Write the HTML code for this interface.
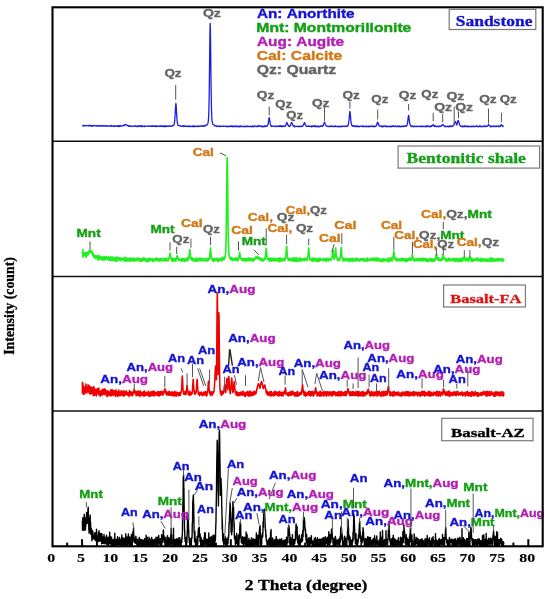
<!DOCTYPE html>
<html><head><meta charset="utf-8"><title>XRD patterns</title>
<style>
html,body{margin:0;padding:0;background:#fff;}
body{width:550px;height:599px;overflow:hidden;}
svg{display:block;filter:blur(0.35px);}
text{font-kerning:none;white-space:pre;}
.s{font-family:"Liberation Sans",Arial,sans-serif;font-weight:bold;stroke-width:0.35px;stroke-linejoin:round;}
.t{font-family:"Liberation Serif","Times New Roman",serif;font-weight:bold;stroke-width:0.3px;stroke-linejoin:round;}
.tn{stroke-width:0.1px;}
</style></head><body>
<svg width="550" height="599" viewBox="0 0 550 599">
<rect width="550" height="599" fill="#fff"/>
<polyline fill="none" stroke="#1e1ee0" stroke-width="1.3" stroke-linejoin="round" points="82.3,125.7 82.6,125.8 82.9,125.7 83.2,125.3 83.5,125.8 83.8,125.7 84.1,125.5 84.4,125.8 84.7,125.7 85.0,125.7 85.3,125.7 85.6,125.8 85.9,125.5 86.2,125.6 86.5,125.6 86.8,125.8 87.1,125.7 87.4,125.6 87.7,125.5 88.0,125.6 88.3,125.7 88.6,125.6 88.9,126.0 89.2,126.0 89.5,125.2 89.8,125.3 90.1,125.7 90.4,125.6 90.7,125.8 91.0,125.8 91.3,126.3 91.6,125.5 91.9,125.7 92.2,126.3 92.5,125.9 92.8,125.9 93.1,125.7 93.4,125.4 93.7,125.8 94.0,125.8 94.3,125.5 94.6,125.6 94.9,125.8 95.2,125.6 95.5,125.8 95.8,125.9 96.1,125.8 96.4,125.7 96.7,126.0 97.0,126.1 97.3,125.9 97.6,125.6 97.9,126.0 98.2,125.7 98.5,126.1 98.8,125.6 99.1,126.1 99.4,125.9 99.7,125.6 100.0,125.8 100.3,125.9 100.6,126.0 100.9,125.6 101.2,125.6 101.5,126.0 101.8,125.8 102.1,126.0 102.4,126.1 102.7,125.5 103.0,126.0 103.3,126.2 103.6,125.9 103.9,125.7 104.2,126.1 104.5,126.0 104.8,126.2 105.1,125.9 105.4,125.6 105.7,125.9 106.0,125.8 106.3,126.2 106.6,126.0 106.9,125.6 107.2,125.7 107.5,126.2 107.8,126.1 108.1,125.8 108.4,126.0 108.7,126.1 109.0,126.1 109.3,126.2 109.6,126.1 109.9,126.0 110.2,125.9 110.5,126.3 110.8,125.4 111.1,126.0 111.4,126.0 111.7,125.7 112.0,126.1 112.3,125.9 112.6,126.2 112.9,126.0 113.2,126.2 113.5,126.3 113.8,126.1 114.1,125.8 114.4,125.7 114.7,126.5 115.0,126.0 115.3,125.9 115.6,126.1 115.9,126.0 116.2,126.3 116.5,126.1 116.8,126.0 117.1,125.9 117.4,126.2 117.7,125.8 118.0,126.2 118.3,126.4 118.6,125.7 118.9,125.5 119.2,126.2 119.5,126.6 119.8,125.8 120.1,125.7 120.4,126.2 120.7,125.8 121.0,125.9 121.3,125.9 121.6,126.1 121.9,125.9 122.2,126.0 122.5,125.9 122.8,125.7 123.1,125.7 123.4,125.5 123.7,125.5 124.0,125.1 124.3,124.9 124.6,125.3 124.9,124.8 125.2,124.6 125.5,124.6 125.8,124.6 126.1,124.7 126.4,125.1 126.7,125.2 127.0,125.1 127.3,125.7 127.6,125.6 127.9,125.6 128.2,125.7 128.5,125.9 128.8,126.4 129.1,125.8 129.4,126.1 129.7,125.6 130.0,126.1 130.3,126.3 130.6,126.1 130.9,126.0 131.2,126.2 131.5,126.3 131.8,126.3 132.1,126.6 132.4,126.2 132.7,126.0 133.0,126.1 133.3,126.1 133.6,126.2 133.9,126.2 134.2,126.2 134.5,125.8 134.8,126.4 135.1,126.0 135.4,125.9 135.7,126.3 136.0,126.5 136.3,126.3 136.6,126.2 136.9,126.0 137.2,126.8 137.5,126.4 137.8,125.9 138.1,126.0 138.4,126.2 138.7,125.8 139.0,126.2 139.3,126.1 139.6,126.5 139.9,126.4 140.2,125.6 140.5,126.2 140.8,125.8 141.1,126.5 141.4,126.3 141.7,126.4 142.0,125.9 142.3,126.7 142.6,126.7 142.9,126.0 143.2,126.3 143.5,126.1 143.8,126.2 144.1,125.9 144.4,126.7 144.7,126.0 145.0,126.2 145.3,126.4 145.6,126.1 145.9,126.2 146.2,126.1 146.5,126.2 146.8,125.9 147.1,126.1 147.4,126.2 147.7,126.2 148.0,126.3 148.3,126.2 148.6,126.4 148.9,126.2 149.2,126.2 149.5,126.1 149.8,126.1 150.1,125.9 150.4,126.4 150.7,126.0 151.0,126.1 151.3,126.3 151.6,126.3 151.9,126.1 152.2,125.7 152.5,126.4 152.8,126.3 153.1,125.9 153.4,126.4 153.7,126.1 154.0,126.0 154.3,126.3 154.6,126.2 154.9,126.3 155.2,125.9 155.5,126.7 155.8,126.1 156.1,125.9 156.4,126.4 156.7,126.2 157.0,126.3 157.3,126.2 157.6,126.2 157.9,126.3 158.2,126.1 158.5,126.4 158.8,126.1 159.1,126.0 159.4,126.3 159.7,126.4 160.0,126.2 160.3,126.0 160.6,126.4 160.9,125.8 161.2,126.0 161.5,126.3 161.8,125.9 162.1,126.3 162.4,126.2 162.7,126.5 163.0,126.0 163.3,126.1 163.6,126.3 163.9,125.7 164.2,126.8 164.5,126.1 164.8,126.1 165.1,126.5 165.4,126.2 165.7,125.8 166.0,126.4 166.3,126.5 166.6,126.1 166.9,126.2 167.2,126.3 167.5,126.0 167.8,126.3 168.1,126.3 168.4,126.0 168.7,125.9 169.0,126.1 169.3,126.0 169.6,126.4 169.9,126.2 170.2,126.3 170.5,126.1 170.8,126.2 171.1,125.9 171.4,126.2 171.7,126.4 172.0,125.9 172.3,125.7 172.6,125.8 172.9,125.6 173.2,125.4 173.5,125.4 173.8,125.0 174.1,124.7 174.4,123.1 174.7,120.7 175.0,116.7 175.3,111.2 175.6,106.0 175.9,103.5 176.2,105.9 176.5,111.2 176.8,116.6 177.1,120.5 177.4,123.1 177.7,124.1 178.0,125.3 178.3,125.4 178.6,125.4 178.9,125.5 179.2,125.7 179.5,125.8 179.8,125.7 180.1,125.8 180.4,126.0 180.7,126.0 181.0,126.3 181.3,126.4 181.6,126.2 181.9,126.3 182.2,125.9 182.5,126.4 182.8,126.2 183.1,126.3 183.4,126.6 183.7,125.7 184.0,126.3 184.3,126.0 184.6,126.4 184.9,125.9 185.2,126.1 185.5,126.3 185.8,126.4 186.1,126.3 186.4,126.1 186.7,126.2 187.0,126.5 187.3,126.3 187.6,125.9 187.9,126.5 188.2,126.4 188.5,126.5 188.8,126.2 189.1,126.5 189.4,126.0 189.7,126.4 190.0,126.2 190.3,126.5 190.6,126.6 190.9,126.1 191.2,126.3 191.5,126.3 191.8,126.6 192.1,126.5 192.4,126.0 192.7,126.4 193.0,126.5 193.3,126.8 193.6,125.9 193.9,126.2 194.2,126.6 194.5,125.9 194.8,126.0 195.1,126.4 195.4,126.5 195.7,126.1 196.0,126.4 196.3,126.3 196.6,126.6 196.9,126.3 197.2,126.5 197.5,126.0 197.8,126.2 198.1,126.2 198.4,126.5 198.7,126.4 199.0,126.0 199.3,126.4 199.6,126.4 199.9,126.2 200.2,126.1 200.5,126.1 200.8,125.8 201.1,126.2 201.4,126.2 201.7,125.9 202.0,126.3 202.3,125.8 202.6,125.9 202.9,125.9 203.2,126.5 203.5,125.6 203.8,126.1 204.1,126.1 204.4,125.9 204.7,126.1 205.0,125.5 205.3,125.2 205.6,125.7 205.9,125.2 206.2,125.2 206.5,124.9 206.8,125.1 207.1,124.8 207.4,124.2 207.7,123.9 208.0,123.0 208.3,121.3 208.6,117.7 208.9,109.7 209.2,94.3 209.5,70.5 209.8,43.2 210.1,24.9 210.2,23.5 210.4,29.0 210.7,52.1 211.0,79.2 211.3,100.3 211.6,113.2 211.9,119.3 212.2,122.0 212.5,123.2 212.8,124.1 213.1,124.4 213.4,124.6 213.7,124.8 214.0,125.1 214.3,125.2 214.6,125.7 214.9,125.9 215.2,125.9 215.5,125.8 215.8,125.7 216.1,125.9 216.4,126.1 216.7,126.5 217.0,126.2 217.3,126.0 217.6,126.1 217.9,126.0 218.2,125.9 218.5,126.1 218.8,126.2 219.1,126.6 219.4,126.2 219.7,126.5 220.0,126.6 220.3,126.2 220.6,126.6 220.9,126.4 221.2,126.1 221.5,126.3 221.8,126.3 222.1,126.2 222.4,126.2 222.7,126.3 223.0,126.4 223.3,126.1 223.6,126.3 223.9,125.9 224.2,126.4 224.5,126.4 224.8,126.3 225.1,126.4 225.4,126.4 225.7,126.1 226.0,126.2 226.3,126.4 226.6,126.6 226.9,126.4 227.2,126.9 227.5,126.3 227.8,126.6 228.1,126.6 228.4,126.3 228.7,126.1 229.0,126.0 229.3,126.4 229.6,126.6 229.9,126.4 230.2,126.4 230.5,126.2 230.8,126.5 231.1,125.8 231.4,126.4 231.7,126.4 232.0,126.0 232.3,126.9 232.6,126.0 232.9,126.1 233.2,126.1 233.5,126.6 233.8,126.1 234.1,126.5 234.4,126.5 234.7,126.4 235.0,126.0 235.3,126.2 235.6,126.8 235.9,126.0 236.2,126.2 236.5,126.3 236.8,126.6 237.1,126.4 237.4,126.5 237.7,126.1 238.0,126.6 238.3,126.5 238.6,126.0 238.9,126.7 239.2,126.9 239.5,126.2 239.8,126.4 240.1,126.7 240.4,126.0 240.7,125.9 241.0,126.0 241.3,126.2 241.6,126.2 241.9,126.5 242.2,126.4 242.5,126.1 242.8,126.5 243.1,126.8 243.4,126.7 243.7,126.6 244.0,126.4 244.3,126.6 244.6,126.1 244.9,126.6 245.2,126.4 245.5,126.7 245.8,126.5 246.1,126.1 246.4,126.4 246.7,126.7 247.0,126.1 247.3,126.2 247.6,126.2 247.9,126.0 248.2,126.6 248.5,126.7 248.8,126.6 249.1,126.4 249.4,126.4 249.7,126.4 250.0,126.2 250.3,126.6 250.6,126.6 250.9,126.6 251.2,126.2 251.5,126.4 251.8,126.3 252.1,126.8 252.4,126.4 252.7,125.9 253.0,126.5 253.3,126.8 253.6,126.6 253.9,126.6 254.2,126.4 254.5,125.9 254.8,125.9 255.1,126.1 255.4,126.3 255.7,126.5 256.0,126.5 256.3,126.3 256.6,126.6 256.9,126.3 257.2,126.2 257.5,126.6 257.8,126.1 258.1,125.8 258.4,126.1 258.7,126.4 259.0,125.8 259.3,126.3 259.6,126.3 259.9,126.0 260.2,126.0 260.5,126.2 260.8,126.2 261.1,126.7 261.4,126.4 261.7,126.0 262.0,126.1 262.3,126.5 262.6,126.8 262.9,126.4 263.2,126.4 263.5,126.8 263.8,126.3 264.1,126.2 264.4,125.9 264.7,126.2 265.0,126.8 265.3,125.9 265.6,126.2 265.9,125.9 266.2,126.2 266.5,126.3 266.8,126.0 267.1,126.1 267.4,125.8 267.7,125.2 268.0,124.5 268.3,122.8 268.6,120.5 268.9,118.5 269.2,117.6 269.5,118.6 269.8,120.5 270.1,123.0 270.4,124.5 270.7,125.1 271.0,125.6 271.3,126.3 271.6,125.6 271.9,126.0 272.2,126.4 272.5,126.0 272.8,126.1 273.1,126.2 273.4,126.4 273.7,126.3 274.0,126.4 274.3,126.5 274.6,126.3 274.9,126.6 275.2,126.2 275.5,126.0 275.8,125.9 276.1,125.9 276.4,126.2 276.7,126.6 277.0,126.4 277.3,126.2 277.6,126.1 277.9,126.2 278.2,126.3 278.5,126.2 278.8,126.0 279.1,126.3 279.4,126.6 279.7,125.8 280.0,126.3 280.3,125.8 280.6,126.4 280.9,126.2 281.2,125.8 281.5,126.4 281.8,126.8 282.1,126.4 282.4,126.6 282.7,126.3 283.0,125.8 283.3,126.4 283.6,126.2 283.9,125.9 284.2,126.5 284.5,126.3 284.8,126.1 285.1,126.3 285.4,125.7 285.7,125.6 286.0,124.6 286.3,124.0 286.6,122.8 286.9,122.6 287.2,123.0 287.5,124.1 287.8,124.6 288.1,125.3 288.4,126.0 288.7,125.5 289.0,125.9 289.3,126.5 289.6,126.3 289.9,126.2 290.2,125.7 290.5,125.4 290.8,124.4 291.1,123.3 291.4,122.5 291.6,122.6 291.7,122.6 292.0,123.2 292.3,123.8 292.6,124.6 292.9,125.5 293.2,126.0 293.5,126.0 293.8,126.0 294.1,125.7 294.4,126.8 294.7,126.0 295.0,126.7 295.3,126.7 295.6,126.4 295.9,126.2 296.2,126.4 296.5,126.1 296.8,126.4 297.1,126.4 297.4,126.5 297.7,126.6 298.0,126.8 298.3,126.3 298.6,126.6 298.9,126.2 299.2,126.1 299.5,126.2 299.8,126.1 300.1,126.6 300.4,126.6 300.7,126.6 301.0,126.3 301.3,126.4 301.6,126.1 301.9,126.0 302.2,126.3 302.5,126.2 302.8,125.8 303.1,125.9 303.4,124.9 303.7,124.5 304.0,123.5 304.3,122.7 304.5,122.6 304.6,122.8 304.9,123.4 305.2,124.4 305.5,125.1 305.8,125.3 306.1,125.9 306.4,125.8 306.7,126.3 307.0,126.5 307.3,126.4 307.6,126.2 307.9,126.2 308.2,126.4 308.5,126.0 308.8,126.4 309.1,126.4 309.4,126.2 309.7,126.3 310.0,126.4 310.3,126.2 310.6,126.2 310.9,126.6 311.2,126.4 311.5,126.8 311.8,126.1 312.1,125.9 312.4,126.6 312.7,126.6 313.0,126.2 313.3,126.0 313.6,126.4 313.9,125.9 314.2,126.3 314.5,125.8 314.8,126.3 315.1,125.8 315.4,126.3 315.7,126.8 316.0,126.3 316.3,126.6 316.6,126.2 316.9,126.1 317.2,126.0 317.5,126.6 317.8,126.4 318.1,126.8 318.4,126.1 318.7,126.3 319.0,126.4 319.3,126.7 319.6,126.8 319.9,126.2 320.2,126.1 320.5,125.9 320.8,126.6 321.1,126.3 321.4,126.1 321.7,126.2 322.0,125.7 322.3,125.8 322.6,126.3 322.9,126.0 323.2,125.6 323.5,124.7 323.8,124.1 324.1,123.3 324.4,122.2 324.5,122.3 324.7,122.4 325.0,123.4 325.3,124.3 325.6,125.1 325.9,125.5 326.2,126.0 326.5,126.0 326.8,126.2 327.1,126.2 327.4,126.4 327.7,126.1 328.0,126.2 328.3,126.6 328.6,126.3 328.9,126.3 329.2,126.6 329.5,126.4 329.8,126.4 330.1,126.4 330.4,126.0 330.7,126.5 331.0,126.7 331.3,126.5 331.6,126.0 331.9,126.4 332.2,126.1 332.5,126.3 332.8,126.4 333.1,126.1 333.4,126.7 333.7,126.4 334.0,126.6 334.3,126.5 334.6,126.7 334.9,126.7 335.2,126.0 335.5,126.4 335.8,125.8 336.1,126.3 336.4,126.5 336.7,126.6 337.0,126.7 337.3,126.3 337.6,126.4 337.9,126.4 338.2,126.7 338.5,126.8 338.8,126.3 339.1,126.9 339.4,126.4 339.7,126.3 340.0,126.5 340.3,126.5 340.6,126.5 340.9,126.2 341.2,126.7 341.5,126.4 341.8,126.7 342.1,126.7 342.4,126.0 342.7,126.1 343.0,126.1 343.3,126.4 343.6,126.3 343.9,126.4 344.2,126.1 344.5,126.4 344.8,126.6 345.1,125.9 345.4,126.2 345.7,126.2 346.0,126.1 346.3,126.1 346.6,126.5 346.9,126.3 347.2,126.1 347.5,125.6 347.8,126.0 348.1,125.2 348.4,124.2 348.7,122.6 349.0,120.0 349.3,116.6 349.6,113.0 349.9,111.4 350.2,112.8 350.5,116.5 350.8,119.9 351.1,122.5 351.4,124.4 351.7,125.0 352.0,125.7 352.3,126.0 352.6,125.5 352.9,126.0 353.2,125.7 353.5,126.1 353.8,126.4 354.1,125.9 354.4,126.6 354.7,126.2 355.0,126.0 355.3,126.2 355.6,126.5 355.9,126.0 356.2,126.3 356.5,126.0 356.8,126.6 357.1,126.4 357.4,126.2 357.7,126.6 358.0,126.0 358.3,126.2 358.6,126.8 358.9,126.3 359.2,126.7 359.5,126.4 359.8,126.2 360.1,126.3 360.4,126.4 360.7,126.3 361.0,126.2 361.3,126.2 361.6,126.0 361.9,126.4 362.2,126.5 362.5,126.6 362.8,125.9 363.1,126.6 363.4,126.4 363.7,126.0 364.0,126.4 364.3,126.6 364.6,126.5 364.9,126.6 365.2,126.6 365.5,126.6 365.8,126.4 366.1,125.9 366.4,126.2 366.7,126.5 367.0,126.3 367.3,126.6 367.6,126.6 367.9,126.4 368.2,126.9 368.5,126.1 368.8,126.6 369.1,126.3 369.4,126.2 369.7,126.5 370.0,126.2 370.3,126.6 370.6,126.1 370.9,126.4 371.2,126.2 371.5,126.3 371.8,126.3 372.1,126.1 372.4,126.5 372.7,126.0 373.0,126.1 373.3,126.6 373.6,126.6 373.9,126.5 374.2,126.4 374.5,126.9 374.8,126.0 375.1,126.1 375.4,126.0 375.7,126.3 376.0,126.0 376.3,125.9 376.6,125.3 376.9,124.3 377.2,123.1 377.5,122.3 377.7,122.2 377.8,122.4 378.1,123.0 378.4,123.9 378.7,124.8 379.0,125.5 379.3,125.8 379.6,125.6 379.9,126.2 380.2,126.1 380.5,126.3 380.8,126.3 381.1,126.5 381.4,126.3 381.7,126.5 382.0,125.8 382.3,126.1 382.6,126.8 382.9,126.1 383.2,126.3 383.5,126.5 383.8,126.1 384.1,126.5 384.4,126.0 384.7,125.9 385.0,126.0 385.3,126.0 385.6,126.4 385.9,126.3 386.2,126.5 386.5,126.1 386.8,127.0 387.1,126.4 387.4,126.4 387.7,126.5 388.0,126.3 388.3,126.2 388.6,126.4 388.9,126.6 389.2,126.6 389.5,126.6 389.8,126.2 390.1,126.2 390.4,126.9 390.7,126.3 391.0,126.5 391.3,126.6 391.6,126.7 391.9,126.0 392.2,126.3 392.5,126.3 392.8,126.3 393.1,125.8 393.4,126.4 393.7,125.8 394.0,126.5 394.3,126.5 394.6,126.5 394.9,126.1 395.2,126.6 395.5,126.2 395.8,126.1 396.1,126.1 396.4,126.2 396.7,126.4 397.0,126.6 397.3,125.9 397.6,126.2 397.9,126.6 398.2,126.4 398.5,126.5 398.8,126.0 399.1,126.6 399.4,126.0 399.7,126.4 400.0,126.7 400.3,126.8 400.6,126.5 400.9,126.6 401.2,126.2 401.5,126.2 401.8,126.6 402.1,126.3 402.4,126.3 402.7,126.0 403.0,126.3 403.3,126.5 403.6,126.1 403.9,126.2 404.2,126.6 404.5,126.3 404.8,126.1 405.1,125.9 405.4,126.0 405.7,126.0 406.0,126.3 406.3,125.8 406.6,126.1 406.9,125.1 407.2,124.5 407.5,123.3 407.8,120.9 408.1,118.2 408.4,116.0 408.6,115.5 408.7,115.5 409.0,117.4 409.3,120.1 409.6,122.4 409.9,124.3 410.2,125.0 410.5,125.5 410.8,125.9 411.1,126.2 411.4,126.0 411.7,126.5 412.0,126.0 412.3,126.5 412.6,126.0 412.9,126.2 413.2,126.4 413.5,126.8 413.8,126.5 414.1,126.2 414.4,126.6 414.7,126.3 415.0,126.1 415.3,126.4 415.6,126.4 415.9,126.6 416.2,126.2 416.5,126.5 416.8,126.5 417.1,126.4 417.4,126.4 417.7,126.2 418.0,126.6 418.3,126.4 418.6,126.5 418.9,126.3 419.2,126.4 419.5,126.1 419.8,126.4 420.1,126.6 420.4,126.4 420.7,126.6 421.0,126.5 421.3,126.7 421.6,126.3 421.9,126.0 422.2,126.5 422.5,126.3 422.8,126.1 423.1,126.5 423.4,126.5 423.7,126.5 424.0,126.3 424.3,126.4 424.6,126.5 424.9,126.8 425.2,126.2 425.5,126.4 425.8,126.5 426.1,126.0 426.4,126.0 426.7,126.9 427.0,125.9 427.3,126.5 427.6,126.2 427.9,126.2 428.2,125.9 428.5,126.2 428.8,126.6 429.1,126.0 429.4,126.5 429.7,126.4 430.0,126.9 430.3,126.2 430.6,126.6 430.9,126.5 431.2,126.2 431.5,125.8 431.8,126.4 432.1,125.6 432.4,125.4 432.7,125.2 433.0,124.9 433.2,124.6 433.3,124.6 433.6,124.9 433.9,125.6 434.2,126.3 434.5,125.6 434.8,126.4 435.1,125.7 435.4,126.3 435.7,126.1 436.0,126.8 436.3,126.4 436.6,126.2 436.9,126.2 437.2,126.2 437.5,126.4 437.8,126.3 438.1,126.5 438.4,126.8 438.7,126.5 439.0,126.1 439.3,126.0 439.6,126.2 439.9,126.6 440.2,126.2 440.5,126.1 440.8,126.3 441.1,125.8 441.4,125.8 441.7,125.9 442.0,125.3 442.3,124.8 442.6,124.7 442.7,124.6 442.9,124.6 443.2,125.0 443.5,125.6 443.8,125.9 444.1,125.8 444.4,126.1 444.7,126.4 445.0,126.8 445.3,126.1 445.6,126.4 445.9,126.3 446.2,126.6 446.5,126.5 446.8,126.7 447.1,126.5 447.4,126.2 447.7,126.2 448.0,126.5 448.3,126.5 448.6,126.9 448.9,126.8 449.2,126.1 449.5,126.4 449.8,126.0 450.1,125.9 450.4,126.5 450.7,126.4 451.0,126.0 451.3,126.7 451.6,126.0 451.9,126.0 452.2,126.4 452.5,126.2 452.8,126.1 453.1,125.9 453.4,125.8 453.7,125.3 454.0,124.7 454.3,123.6 454.6,122.8 454.9,122.2 455.2,121.5 455.3,121.5 455.5,121.8 455.8,122.3 456.1,123.4 456.4,124.6 456.7,125.0 457.0,124.4 457.3,123.2 457.6,121.9 457.9,120.8 458.2,120.4 458.5,120.7 458.8,121.9 459.1,123.1 459.4,124.1 459.7,125.1 460.0,125.3 460.3,126.0 460.6,126.0 460.9,126.1 461.2,126.2 461.5,126.2 461.8,126.8 462.1,125.9 462.4,126.3 462.7,126.6 463.0,126.5 463.3,126.2 463.6,126.7 463.9,126.1 464.2,126.0 464.5,126.5 464.8,126.0 465.1,125.8 465.4,126.6 465.7,126.5 466.0,126.5 466.3,126.2 466.6,126.4 466.9,126.1 467.2,126.8 467.5,126.6 467.8,126.6 468.1,125.9 468.4,126.6 468.7,126.8 469.0,126.7 469.3,126.6 469.6,126.4 469.9,126.3 470.2,126.5 470.5,126.5 470.8,126.4 471.1,126.3 471.4,126.8 471.7,126.1 472.0,126.4 472.3,126.2 472.6,126.6 472.9,126.7 473.2,126.7 473.5,126.6 473.8,126.0 474.1,126.9 474.4,126.5 474.7,126.4 475.0,126.4 475.3,126.3 475.6,126.5 475.9,126.5 476.2,126.3 476.5,125.8 476.8,126.4 477.1,126.5 477.4,126.5 477.7,126.4 478.0,126.5 478.3,126.7 478.6,126.3 478.9,126.8 479.2,125.9 479.5,126.1 479.8,126.2 480.1,125.8 480.4,126.1 480.7,126.7 481.0,126.7 481.3,126.4 481.6,126.8 481.9,126.4 482.2,126.3 482.5,126.4 482.8,126.4 483.1,126.6 483.4,126.0 483.7,126.6 484.0,126.3 484.3,126.6 484.6,126.0 484.9,126.3 485.2,126.4 485.5,126.6 485.8,126.0 486.1,126.7 486.4,126.4 486.7,126.1 487.0,126.4 487.3,126.0 487.6,125.9 487.9,125.7 488.2,124.9 488.5,124.6 488.8,124.7 489.1,125.3 489.4,125.7 489.7,125.8 490.0,126.0 490.3,126.4 490.6,126.9 490.9,125.8 491.2,126.5 491.5,126.3 491.8,126.6 492.1,126.6 492.4,126.4 492.7,126.1 493.0,126.0 493.3,125.9 493.6,126.7 493.9,126.3 494.2,126.3 494.5,126.3 494.8,126.1 495.1,126.5 495.4,126.7 495.7,126.7 496.0,126.0 496.3,126.7 496.6,126.2 496.9,125.9 497.2,126.1 497.5,126.1 497.8,126.4 498.1,126.1 498.4,126.0 498.7,126.3 499.0,126.8 499.3,126.1 499.6,126.4 499.9,126.2 500.2,126.5 500.5,125.3 500.8,125.6 501.1,124.7 501.4,124.8 501.7,124.9 502.0,125.8 502.3,125.6 502.6,125.6 502.9,126.5 503.2,126.1 503.5,126.3 503.8,126.3"/>
<text class="s" font-size="10.6" transform="matrix(1.265 0 0 1 164.45 77.4)"><tspan fill="#646464" stroke="#646464">Qz</tspan></text>
<text class="s" font-size="10.6" transform="matrix(1.328 0 0 1 202.92 17.2)"><tspan fill="#646464" stroke="#646464">Qz</tspan></text>
<text class="s" font-size="10.6" transform="matrix(1.296 0 0 1 256.84 98.8)"><tspan fill="#646464" stroke="#646464">Qz</tspan></text>
<text class="s" font-size="10.6" transform="matrix(1.241 0 0 1 275.26 107.8)"><tspan fill="#646464" stroke="#646464">Qz</tspan></text>
<text class="s" font-size="10.6" transform="matrix(1.234 0 0 1 286.26 118.8)"><tspan fill="#646464" stroke="#646464">Qz</tspan></text>
<text class="s" font-size="10.6" transform="matrix(1.296 0 0 1 311.94 106.7)"><tspan fill="#646464" stroke="#646464">Qz</tspan></text>
<text class="s" font-size="10.6" transform="matrix(1.273 0 0 1 342.45 99)"><tspan fill="#646464" stroke="#646464">Qz</tspan></text>
<text class="s" font-size="10.6" transform="matrix(1.257 0 0 1 371.35 103.4)"><tspan fill="#646464" stroke="#646464">Qz</tspan></text>
<text class="s" font-size="10.6" transform="matrix(1.296 0 0 1 398.74 99)"><tspan fill="#646464" stroke="#646464">Qz</tspan></text>
<text class="s" font-size="10.6" transform="matrix(1.257 0 0 1 421.35 97.9)"><tspan fill="#646464" stroke="#646464">Qz</tspan></text>
<text class="s" font-size="10.6" transform="matrix(1.320 0 0 1 434.13 110.8)"><tspan fill="#646464" stroke="#646464">Qz</tspan></text>
<text class="s" font-size="10.6" transform="matrix(1.320 0 0 1 446.43 100.4)"><tspan fill="#646464" stroke="#646464">Qz</tspan></text>
<text class="s" font-size="10.6" transform="matrix(1.320 0 0 1 455.13 110.8)"><tspan fill="#646464" stroke="#646464">Qz</tspan></text>
<text class="s" font-size="10.6" transform="matrix(1.296 0 0 1 479.14 102.6)"><tspan fill="#646464" stroke="#646464">Qz</tspan></text>
<text class="s" font-size="10.6" transform="matrix(1.257 0 0 1 499.65 102.9)"><tspan fill="#646464" stroke="#646464">Qz</tspan></text>
<line x1="175.7" y1="85" x2="175.7" y2="99.7" stroke="#555555" stroke-width="1.0"/>
<line x1="269.2" y1="106.5" x2="269.2" y2="115.5" stroke="#555555" stroke-width="1.0"/>
<line x1="324.5" y1="107" x2="324.5" y2="121" stroke="#555555" stroke-width="1.0"/>
<line x1="349.9" y1="101.8" x2="349.9" y2="108.6" stroke="#555555" stroke-width="1.0"/>
<line x1="377.7" y1="109.5" x2="377.7" y2="119.5" stroke="#555555" stroke-width="1.0"/>
<line x1="408.6" y1="104" x2="408.6" y2="110.5" stroke="#555555" stroke-width="1.0"/>
<line x1="433.2" y1="112.7" x2="433.2" y2="121" stroke="#555555" stroke-width="1.0"/>
<line x1="442.7" y1="114" x2="442.7" y2="122.3" stroke="#555555" stroke-width="1.0"/>
<line x1="454.2" y1="106.7" x2="454.2" y2="125" stroke="#555555" stroke-width="1.0"/>
<line x1="458.5" y1="111.4" x2="458.5" y2="118.2" stroke="#555555" stroke-width="1.0"/>
<line x1="488.5" y1="108.6" x2="488.5" y2="123.6" stroke="#555555" stroke-width="1.0"/>
<line x1="501.4" y1="112.7" x2="501.4" y2="122.3" stroke="#555555" stroke-width="1.0"/>
<text class="s" font-size="12.1" transform="matrix(1.263 0 0 1 257.02 17.7)"><tspan fill="#1414d2" stroke="#1414d2">An: Anorthite</tspan></text>
<text class="s" font-size="12.1" transform="matrix(1.296 0 0 1 256.35 31.7)"><tspan fill="#14a014" stroke="#14a014">Mnt: Montmorillonite</tspan></text>
<text class="s" font-size="12.1" transform="matrix(1.272 0 0 1 257.02 45.7)"><tspan fill="#b41eb4" stroke="#b41eb4">Aug: Augite</tspan></text>
<text class="s" font-size="12.1" transform="matrix(1.300 0 0 1 256.75 59.7)"><tspan fill="#d27814" stroke="#d27814">Cal: Calcite</tspan></text>
<text class="s" font-size="12.1" transform="matrix(1.301 0 0 1 256.75 73.7)"><tspan fill="#646464" stroke="#646464">Qz: Quartz</tspan></text>
<polyline fill="none" stroke="#22ee22" stroke-width="1.6" stroke-linejoin="round" points="82.3,254.0 82.5,252.7 82.6,253.0 82.8,249.6 82.9,257.1 83.0,256.0 83.2,253.4 83.3,255.4 83.5,254.6 83.7,253.1 83.8,255.8 84.0,253.7 84.1,253.7 84.2,252.9 84.4,255.1 84.5,254.2 84.7,255.3 84.8,253.4 85.0,254.6 85.2,253.0 85.3,255.8 85.5,254.8 85.6,255.0 85.8,255.1 85.9,253.0 86.0,255.7 86.2,257.5 86.3,252.1 86.5,252.0 86.7,252.3 86.8,255.4 87.0,254.4 87.1,255.5 87.2,255.0 87.4,254.2 87.5,254.2 87.7,253.5 87.8,254.5 88.0,252.2 88.2,252.8 88.3,253.3 88.5,254.6 88.6,251.9 88.8,251.4 88.9,251.7 89.0,252.8 89.2,251.6 89.3,252.6 89.5,249.9 89.7,252.1 89.8,251.8 90.0,249.9 90.1,251.0 90.2,251.7 90.4,250.8 90.5,250.8 90.5,252.4 90.7,251.1 90.8,250.8 91.0,250.6 91.2,251.8 91.3,251.4 91.5,251.6 91.6,251.9 91.8,252.8 91.9,251.7 92.0,251.6 92.2,251.3 92.3,254.4 92.5,253.7 92.7,255.3 92.8,254.2 93.0,253.8 93.1,255.2 93.2,254.8 93.4,253.9 93.5,254.4 93.7,257.3 93.8,256.1 94.0,256.3 94.2,255.7 94.3,255.4 94.5,257.2 94.6,256.2 94.8,255.6 94.9,256.4 95.0,255.6 95.2,256.9 95.3,258.1 95.5,255.9 95.7,258.6 95.8,256.2 96.0,257.2 96.1,256.1 96.2,256.9 96.4,257.2 96.5,256.7 96.7,256.4 96.8,256.5 97.0,256.3 97.2,255.5 97.3,257.1 97.5,257.9 97.6,258.5 97.8,258.2 97.9,260.2 98.0,257.9 98.2,257.0 98.3,259.8 98.5,256.4 98.7,258.8 98.8,256.6 99.0,258.1 99.1,255.4 99.2,258.8 99.4,257.6 99.5,256.7 99.7,259.7 99.8,258.7 100.0,257.9 100.2,257.0 100.3,257.8 100.5,257.7 100.6,258.7 100.8,258.8 100.9,257.2 101.0,257.4 101.2,257.4 101.3,256.5 101.5,257.4 101.7,258.0 101.8,258.8 102.0,259.6 102.1,257.2 102.2,258.7 102.4,257.7 102.5,260.4 102.7,258.1 102.8,258.8 103.0,257.2 103.2,257.4 103.3,258.5 103.5,257.9 103.6,258.7 103.8,256.6 103.9,259.0 104.0,257.4 104.2,260.2 104.3,258.1 104.5,259.5 104.7,256.9 104.8,258.9 105.0,257.5 105.1,257.9 105.2,258.5 105.4,258.1 105.5,258.8 105.7,259.3 105.8,259.2 106.0,258.4 106.2,257.1 106.3,257.7 106.5,258.4 106.6,256.4 106.8,259.4 106.9,258.4 107.0,258.4 107.2,259.6 107.3,259.3 107.5,258.9 107.7,257.6 107.8,259.0 108.0,259.0 108.1,257.8 108.2,259.8 108.4,259.2 108.5,256.7 108.7,258.9 108.8,257.5 109.0,259.9 109.2,259.6 109.3,257.7 109.5,257.9 109.6,258.9 109.8,258.6 109.9,260.3 110.0,259.6 110.2,258.6 110.3,259.4 110.5,256.9 110.7,259.2 110.8,259.7 111.0,258.7 111.1,258.2 111.2,259.5 111.4,260.8 111.5,259.1 111.7,257.8 111.8,260.3 112.0,257.1 112.2,259.4 112.3,258.4 112.5,259.9 112.6,258.2 112.8,260.3 112.9,259.3 113.0,257.4 113.2,257.1 113.3,258.7 113.5,260.3 113.7,259.2 113.8,259.1 114.0,258.8 114.1,259.8 114.2,259.4 114.4,259.3 114.5,258.2 114.7,260.2 114.8,260.4 115.0,257.9 115.2,261.3 115.3,259.8 115.5,258.7 115.6,257.4 115.8,259.8 115.9,259.7 116.0,258.6 116.2,257.5 116.3,260.2 116.5,258.6 116.7,258.7 116.8,261.3 117.0,261.2 117.1,260.1 117.2,258.8 117.4,259.8 117.5,257.1 117.7,259.3 117.8,258.5 118.0,258.1 118.2,257.8 118.3,259.7 118.5,259.3 118.6,259.4 118.8,260.0 118.9,258.5 119.0,258.1 119.2,257.7 119.3,259.0 119.5,260.0 119.7,259.2 119.8,259.9 120.0,258.2 120.1,258.9 120.2,258.6 120.4,258.2 120.5,261.0 120.7,260.1 120.8,258.6 121.0,258.6 121.2,259.3 121.3,258.1 121.5,259.7 121.6,258.2 121.8,259.0 121.9,258.4 122.0,258.9 122.2,258.2 122.3,258.0 122.5,258.5 122.7,258.8 122.8,259.1 123.0,259.5 123.1,260.7 123.2,260.1 123.4,259.2 123.5,260.0 123.7,258.8 123.8,260.7 124.0,259.9 124.2,258.2 124.3,260.1 124.5,260.1 124.6,257.4 124.8,258.8 124.9,259.0 125.0,257.8 125.2,258.5 125.3,258.6 125.5,259.9 125.7,259.7 125.8,261.5 126.0,259.1 126.1,260.5 126.2,259.5 126.4,259.7 126.5,258.5 126.7,257.8 126.8,258.8 127.0,260.1 127.2,260.9 127.3,260.0 127.5,259.9 127.6,258.8 127.8,260.8 127.9,260.7 128.1,259.1 128.2,259.5 128.3,258.7 128.5,260.8 128.7,259.9 128.8,259.4 128.9,259.9 129.1,259.9 129.2,259.2 129.4,258.5 129.6,258.4 129.7,258.1 129.8,259.9 130.0,261.4 130.2,258.1 130.3,259.7 130.4,259.9 130.6,258.7 130.8,259.7 130.9,258.6 131.1,260.6 131.2,259.1 131.3,259.7 131.5,260.1 131.7,259.2 131.8,258.1 131.9,259.1 132.1,260.2 132.2,259.5 132.4,259.8 132.6,258.7 132.7,259.7 132.8,260.2 133.0,259.6 133.2,261.2 133.3,259.4 133.4,258.7 133.6,258.2 133.8,260.6 133.9,259.6 134.1,260.5 134.2,260.0 134.3,261.0 134.5,260.7 134.7,259.3 134.8,259.8 134.9,260.5 135.1,258.6 135.2,260.8 135.4,260.6 135.6,260.4 135.7,259.5 135.8,259.9 136.0,258.7 136.2,259.7 136.3,259.1 136.4,259.7 136.6,259.2 136.8,259.9 136.9,260.6 137.1,258.5 137.2,260.4 137.3,258.0 137.5,257.8 137.7,259.5 137.8,259.7 137.9,260.0 138.1,258.3 138.2,259.6 138.4,259.8 138.6,260.7 138.7,259.6 138.8,260.1 139.0,258.8 139.2,259.5 139.3,259.3 139.4,260.2 139.6,258.8 139.8,259.0 139.9,260.1 140.1,261.2 140.2,260.0 140.3,259.9 140.5,259.4 140.7,260.6 140.8,260.1 140.9,261.1 141.1,260.0 141.2,258.9 141.4,259.2 141.6,258.9 141.7,258.6 141.8,260.7 142.0,260.4 142.2,258.7 142.3,261.2 142.4,259.9 142.6,258.9 142.8,260.0 142.9,259.6 143.1,259.1 143.2,258.1 143.3,259.7 143.5,259.9 143.7,257.8 143.8,260.2 143.9,260.2 144.1,259.3 144.2,259.8 144.4,259.5 144.6,259.0 144.7,259.4 144.8,260.8 145.0,258.5 145.2,259.9 145.3,259.9 145.4,259.1 145.6,259.3 145.8,258.6 145.9,259.0 146.1,259.7 146.2,260.0 146.3,259.0 146.5,261.6 146.7,259.2 146.8,259.8 146.9,259.5 147.1,259.4 147.2,260.8 147.4,259.3 147.6,260.8 147.7,260.7 147.8,258.9 148.0,260.6 148.2,259.2 148.3,261.6 148.4,259.4 148.6,259.0 148.8,258.2 148.9,258.7 149.1,259.3 149.2,258.9 149.3,258.7 149.5,259.2 149.7,259.6 149.8,260.9 149.9,258.3 150.1,259.3 150.2,259.0 150.4,258.5 150.6,258.7 150.7,259.0 150.8,260.3 151.0,259.6 151.2,259.3 151.3,260.2 151.4,260.0 151.6,259.6 151.8,260.1 151.9,259.1 152.1,260.3 152.2,260.1 152.3,259.4 152.5,258.7 152.7,261.0 152.8,259.8 152.9,261.6 153.1,259.2 153.2,260.4 153.4,259.4 153.6,260.0 153.7,260.4 153.8,259.1 154.0,259.7 154.2,259.9 154.3,259.8 154.4,260.2 154.6,260.6 154.8,260.4 154.9,260.0 155.1,259.5 155.2,258.8 155.3,259.2 155.5,259.3 155.7,260.3 155.8,259.5 155.9,258.7 156.1,260.3 156.2,259.1 156.4,259.1 156.6,259.6 156.7,260.1 156.8,257.9 157.0,258.8 157.2,259.9 157.3,259.5 157.4,259.1 157.6,259.3 157.8,260.9 157.9,259.4 158.1,260.3 158.2,260.4 158.3,259.4 158.5,260.1 158.7,259.4 158.8,259.3 158.9,258.8 159.1,260.5 159.2,259.4 159.4,259.3 159.6,258.8 159.7,261.2 159.8,260.4 160.0,259.7 160.2,259.2 160.3,258.5 160.4,260.0 160.6,260.0 160.8,258.6 160.9,260.7 161.1,260.4 161.2,259.0 161.3,259.3 161.5,259.4 161.7,259.9 161.8,259.6 161.9,258.4 162.1,260.9 162.2,260.0 162.4,260.8 162.6,260.8 162.7,259.6 162.8,260.0 163.0,260.3 163.2,260.4 163.3,259.6 163.4,259.3 163.6,259.8 163.8,259.1 163.9,259.3 164.1,258.1 164.2,259.8 164.3,258.9 164.5,259.3 164.7,259.7 164.8,260.0 164.9,261.3 165.1,259.9 165.2,258.6 165.4,259.8 165.6,259.3 165.7,260.1 165.8,259.2 166.0,259.2 166.2,259.3 166.3,259.2 166.4,258.3 166.6,259.2 166.8,259.7 166.9,260.7 167.1,259.5 167.2,259.4 167.3,260.1 167.5,260.1 167.7,260.9 167.8,260.1 167.9,259.6 168.1,260.6 168.2,260.7 168.4,259.1 168.6,259.5 168.7,258.1 168.8,258.9 169.0,258.2 169.2,258.2 169.3,257.3 169.4,256.5 169.6,255.4 169.8,254.5 169.9,253.7 170.0,253.4 170.1,253.0 170.2,254.5 170.3,255.7 170.5,256.0 170.7,257.6 170.8,257.2 170.9,257.6 171.1,258.8 171.2,260.3 171.4,258.6 171.6,258.9 171.7,260.8 171.8,258.1 172.0,260.1 172.2,260.0 172.3,259.5 172.4,259.8 172.6,261.5 172.8,258.8 172.9,259.4 173.1,259.5 173.2,259.2 173.3,258.7 173.5,261.0 173.7,259.9 173.8,258.3 173.9,259.2 174.1,260.1 174.2,260.1 174.4,258.6 174.6,259.7 174.7,259.9 174.8,260.0 175.0,260.0 175.2,258.3 175.3,261.1 175.4,259.8 175.6,261.0 175.8,261.4 175.9,259.4 176.1,258.5 176.2,260.0 176.3,259.0 176.5,258.4 176.7,257.6 176.8,258.5 176.9,256.6 177.1,255.5 177.2,255.6 177.3,255.8 177.4,256.0 177.6,256.2 177.7,256.5 177.8,258.1 178.0,258.0 178.2,259.4 178.3,260.1 178.4,259.1 178.6,259.0 178.8,259.7 178.9,260.3 179.1,259.6 179.2,259.8 179.3,259.7 179.5,259.9 179.7,260.2 179.8,259.2 179.9,259.3 180.1,259.8 180.2,259.2 180.4,259.9 180.6,260.2 180.7,259.7 180.8,259.3 181.0,259.1 181.2,261.2 181.3,260.5 181.4,258.9 181.6,259.1 181.8,261.3 181.9,261.0 182.1,259.9 182.2,260.7 182.3,258.6 182.5,259.8 182.7,260.4 182.8,258.3 182.9,259.1 183.1,260.4 183.2,260.7 183.4,259.3 183.6,260.0 183.7,261.0 183.8,259.5 184.0,258.7 184.2,259.7 184.3,259.4 184.4,260.8 184.6,259.9 184.8,259.1 184.9,261.6 185.1,259.3 185.2,260.1 185.3,260.3 185.5,260.3 185.7,259.9 185.8,260.2 185.9,259.7 186.1,258.6 186.2,259.5 186.4,259.5 186.6,259.5 186.7,259.8 186.8,259.2 187.0,260.7 187.2,260.8 187.3,257.9 187.4,259.6 187.6,259.0 187.8,257.8 187.9,259.8 188.1,259.0 188.2,259.1 188.3,258.8 188.5,259.8 188.7,259.5 188.8,258.4 188.9,257.8 189.1,256.2 189.2,254.7 189.4,252.6 189.6,251.0 189.7,249.6 189.8,249.5 189.8,249.8 190.0,250.6 190.2,252.6 190.3,254.9 190.4,254.8 190.6,257.1 190.8,257.6 190.9,258.3 191.1,258.0 191.2,259.2 191.3,259.1 191.5,258.9 191.7,259.3 191.8,259.1 191.9,257.8 192.1,260.4 192.2,259.4 192.4,258.9 192.6,259.9 192.7,259.1 192.8,258.0 193.0,260.4 193.2,258.4 193.3,259.5 193.4,259.8 193.6,260.8 193.8,260.7 193.9,259.9 194.1,259.1 194.2,259.4 194.3,260.6 194.5,261.2 194.7,260.2 194.8,259.2 194.9,260.6 195.1,259.5 195.2,259.4 195.4,259.5 195.6,260.2 195.7,260.0 195.8,260.6 196.0,260.8 196.2,260.2 196.3,257.9 196.4,258.4 196.6,259.9 196.8,259.7 196.9,261.5 197.1,259.7 197.2,259.7 197.3,260.5 197.5,260.6 197.7,259.6 197.8,260.2 197.9,258.9 198.1,259.0 198.2,260.8 198.4,258.7 198.6,260.5 198.7,260.3 198.8,260.4 199.0,260.5 199.2,260.2 199.3,258.1 199.4,259.0 199.6,259.3 199.8,260.5 199.9,258.9 200.1,259.2 200.2,259.5 200.3,260.8 200.5,258.6 200.7,258.7 200.8,260.3 200.9,258.1 201.1,260.0 201.2,259.4 201.4,258.5 201.6,259.4 201.7,259.0 201.8,259.9 202.0,260.1 202.2,261.0 202.3,259.8 202.4,259.9 202.6,259.3 202.8,259.8 202.9,260.6 203.1,258.2 203.2,260.3 203.3,259.3 203.5,259.8 203.7,260.0 203.8,260.4 203.9,260.0 204.1,259.5 204.2,260.0 204.4,259.8 204.6,259.6 204.7,259.9 204.8,260.4 205.0,259.9 205.2,259.9 205.3,258.7 205.4,259.6 205.6,258.3 205.8,260.3 205.9,259.0 206.1,260.8 206.2,261.5 206.3,259.4 206.5,260.8 206.7,260.0 206.8,259.3 206.9,259.0 207.1,260.1 207.2,260.8 207.4,259.9 207.6,258.5 207.7,258.8 207.8,259.4 208.0,260.6 208.2,259.8 208.3,259.8 208.4,260.4 208.6,259.3 208.8,259.3 208.9,259.2 209.1,257.9 209.2,259.3 209.3,258.9 209.5,258.6 209.7,256.5 209.8,255.4 209.9,254.3 210.1,252.0 210.2,250.3 210.4,248.3 210.5,248.2 210.6,248.1 210.7,249.4 210.8,251.1 211.0,253.5 211.2,255.7 211.3,257.0 211.4,256.7 211.6,259.0 211.8,259.2 211.9,258.4 212.1,258.6 212.2,259.4 212.3,259.8 212.5,259.1 212.7,258.3 212.8,259.8 212.9,259.7 213.1,261.4 213.2,258.6 213.4,261.4 213.6,261.0 213.7,259.9 213.8,261.0 214.0,259.8 214.2,260.5 214.3,259.1 214.4,259.8 214.6,258.9 214.8,258.5 214.9,259.5 215.1,259.2 215.2,260.1 215.3,260.7 215.5,259.6 215.7,259.7 215.8,259.8 215.9,258.4 216.1,259.9 216.2,259.7 216.4,259.6 216.6,258.8 216.7,258.1 216.8,259.5 217.0,259.9 217.2,260.7 217.3,260.5 217.4,260.8 217.6,259.9 217.8,260.5 217.9,259.5 218.1,260.1 218.2,260.3 218.3,261.4 218.5,259.8 218.7,258.6 218.8,260.6 218.9,259.0 219.1,259.5 219.2,259.3 219.4,258.9 219.6,260.6 219.7,260.0 219.8,259.1 220.0,259.6 220.2,259.2 220.3,260.0 220.4,259.2 220.6,258.9 220.8,259.0 220.9,259.1 221.1,259.6 221.2,258.7 221.3,259.3 221.5,259.7 221.7,261.0 221.8,259.9 221.9,257.6 222.1,258.9 222.2,258.9 222.4,259.4 222.6,260.2 222.7,259.6 222.8,257.4 223.0,259.2 223.2,259.0 223.3,259.1 223.4,259.7 223.6,258.0 223.8,259.3 223.9,257.4 224.1,258.4 224.2,258.4 224.3,259.4 224.5,257.5 224.7,256.7 224.8,257.7 224.9,256.7 225.1,257.4 225.2,255.6 225.4,254.7 225.6,254.0 225.7,251.4 225.8,248.1 226.0,242.4 226.2,235.6 226.3,225.4 226.4,213.3 226.6,199.1 226.8,184.3 226.9,170.9 227.1,161.2 227.2,157.6 227.3,161.2 227.5,170.9 227.7,184.4 227.8,199.3 227.9,213.2 228.1,225.6 228.2,235.3 228.4,242.7 228.6,247.7 228.7,251.7 228.8,253.2 229.0,254.5 229.2,255.9 229.3,256.0 229.4,257.4 229.6,257.9 229.8,257.2 229.9,258.3 230.1,257.7 230.2,258.2 230.3,258.4 230.5,259.7 230.7,258.6 230.8,258.1 230.9,258.2 231.1,259.6 231.2,257.8 231.4,258.6 231.6,258.8 231.7,257.5 231.8,258.8 232.0,259.9 232.2,259.4 232.3,258.6 232.4,259.8 232.6,259.7 232.8,260.8 232.9,258.8 233.1,259.1 233.2,259.4 233.3,259.3 233.5,259.5 233.7,259.4 233.8,258.9 233.9,258.3 234.1,259.1 234.2,258.4 234.4,258.7 234.6,259.1 234.7,259.9 234.8,260.2 235.0,258.8 235.2,259.8 235.3,260.2 235.4,259.5 235.6,258.3 235.8,257.9 235.9,260.2 236.1,260.3 236.2,259.8 236.3,258.8 236.5,260.7 236.7,260.6 236.8,259.6 236.9,259.5 237.1,258.1 237.2,260.2 237.4,258.4 237.6,260.1 237.7,260.1 237.8,259.6 238.0,260.6 238.2,259.1 238.3,259.7 238.4,259.6 238.6,258.8 238.8,257.8 238.9,257.8 239.1,256.2 239.2,254.6 239.3,253.3 239.5,252.5 239.6,252.3 239.7,252.4 239.8,253.0 239.9,253.9 240.1,255.1 240.2,255.9 240.4,257.9 240.6,258.5 240.7,258.2 240.8,258.1 241.0,259.1 241.2,259.0 241.3,258.5 241.4,259.8 241.6,259.7 241.8,259.6 241.9,260.2 242.1,259.1 242.2,260.7 242.3,258.9 242.5,260.1 242.7,260.2 242.8,259.5 242.9,260.0 243.1,258.7 243.2,258.5 243.4,259.6 243.6,259.1 243.7,260.2 243.8,259.7 244.0,260.2 244.2,260.0 244.3,259.9 244.4,259.8 244.6,259.4 244.8,259.4 244.9,261.3 245.1,258.3 245.2,259.6 245.3,260.5 245.5,260.1 245.7,260.8 245.8,260.2 245.9,258.7 246.1,259.5 246.2,258.6 246.4,260.5 246.6,260.9 246.7,259.4 246.8,260.2 247.0,259.4 247.2,258.6 247.3,259.4 247.4,258.5 247.6,259.3 247.8,259.9 247.9,260.3 248.1,260.8 248.2,259.5 248.3,259.9 248.5,260.1 248.7,260.2 248.8,257.9 248.9,259.1 249.1,260.4 249.2,258.8 249.4,259.9 249.6,260.4 249.7,258.2 249.8,259.6 250.0,259.9 250.2,259.7 250.3,258.5 250.4,260.0 250.6,259.3 250.8,260.4 250.9,260.0 251.1,259.3 251.2,259.8 251.3,259.1 251.5,259.1 251.7,258.4 251.8,259.5 251.9,260.3 252.1,259.8 252.2,259.6 252.4,259.2 252.6,259.2 252.7,260.2 252.8,258.5 253.0,261.2 253.2,259.5 253.3,261.3 253.4,260.5 253.6,259.2 253.8,260.1 253.9,259.7 254.1,259.8 254.2,260.0 254.3,258.9 254.5,258.8 254.7,258.9 254.8,258.1 254.9,258.8 255.1,259.1 255.2,259.0 255.4,258.8 255.6,258.3 255.7,258.9 255.8,257.0 256.0,257.8 256.1,257.7 256.3,258.3 256.4,258.0 256.6,258.0 256.8,257.5 256.9,258.0 257.0,257.5 257.1,257.5 257.2,256.3 257.4,258.5 257.5,258.5 257.6,257.4 257.8,257.4 257.9,256.8 258.1,257.2 258.2,258.4 258.4,258.4 258.6,257.6 258.7,258.4 258.9,258.4 259.0,259.3 259.1,259.6 259.3,259.0 259.4,259.3 259.6,259.3 259.8,257.8 259.9,259.5 260.1,259.4 260.2,260.0 260.4,258.1 260.5,260.1 260.6,259.0 260.8,259.8 260.9,260.5 261.1,258.4 261.2,258.6 261.4,260.4 261.6,258.7 261.7,258.8 261.9,260.1 262.0,259.5 262.1,260.2 262.3,259.8 262.4,259.6 262.6,260.4 262.8,261.3 262.9,259.5 263.1,260.7 263.2,260.4 263.4,259.6 263.5,259.9 263.6,258.8 263.8,259.0 263.9,259.6 264.1,259.4 264.2,260.3 264.4,258.3 264.6,259.0 264.7,258.7 264.9,258.8 265.0,259.4 265.1,257.4 265.3,257.9 265.4,255.9 265.6,254.5 265.8,253.0 265.9,250.5 266.1,249.1 266.2,248.3 266.4,248.9 266.5,250.5 266.6,252.1 266.8,254.3 266.9,256.3 267.1,257.5 267.2,257.3 267.4,259.3 267.6,259.4 267.7,258.2 267.9,258.5 268.0,259.7 268.1,258.0 268.3,258.9 268.4,259.4 268.6,259.4 268.8,259.5 268.9,259.8 269.1,258.9 269.2,259.2 269.4,261.2 269.5,258.5 269.6,259.2 269.8,259.7 269.9,259.1 270.1,260.6 270.2,259.7 270.4,260.2 270.6,257.9 270.7,260.6 270.9,260.6 271.0,259.1 271.1,260.7 271.3,259.9 271.4,260.4 271.6,261.1 271.8,259.8 271.9,258.9 272.1,259.7 272.2,258.7 272.4,259.0 272.5,259.1 272.6,259.1 272.8,260.6 272.9,260.4 273.1,259.0 273.2,260.6 273.4,258.4 273.6,259.2 273.7,259.6 273.9,260.7 274.0,260.3 274.1,260.1 274.3,260.8 274.4,260.3 274.6,260.8 274.8,259.1 274.9,258.4 275.1,259.4 275.2,260.4 275.4,259.9 275.5,260.4 275.6,260.3 275.8,260.1 275.9,260.4 276.1,259.2 276.2,260.6 276.4,258.9 276.6,259.6 276.7,258.6 276.9,260.1 277.0,258.5 277.1,260.9 277.3,258.7 277.4,259.9 277.6,259.6 277.8,259.0 277.9,260.7 278.1,259.4 278.2,260.9 278.4,258.9 278.5,259.1 278.6,258.1 278.8,260.2 278.9,260.5 279.1,259.9 279.2,259.6 279.4,259.0 279.6,261.6 279.7,260.3 279.9,258.2 280.0,259.5 280.1,257.9 280.3,261.0 280.4,261.3 280.6,260.9 280.8,259.7 280.9,259.2 281.1,258.6 281.2,260.1 281.4,259.1 281.5,259.4 281.6,259.2 281.8,259.4 281.9,260.4 282.1,261.0 282.2,259.8 282.4,259.7 282.6,258.8 282.7,258.7 282.9,258.8 283.0,260.3 283.1,259.8 283.3,260.4 283.4,259.9 283.6,259.3 283.8,258.6 283.9,259.3 284.1,258.4 284.2,261.0 284.4,259.7 284.5,259.1 284.6,260.8 284.8,259.0 284.9,259.6 285.1,259.0 285.2,259.1 285.4,258.3 285.6,258.2 285.7,257.8 285.9,255.1 286.0,252.9 286.1,251.8 286.3,249.0 286.4,247.2 286.6,246.2 286.8,247.3 286.9,249.4 287.1,251.0 287.2,254.0 287.4,255.4 287.5,256.2 287.6,257.8 287.8,258.9 287.9,257.9 288.1,258.2 288.2,260.1 288.4,259.3 288.6,259.7 288.7,258.5 288.9,258.9 289.0,259.6 289.1,259.6 289.3,259.6 289.4,260.8 289.6,259.7 289.8,258.4 289.9,258.9 290.1,259.5 290.2,260.6 290.4,259.1 290.5,259.3 290.6,259.6 290.8,259.1 290.9,259.0 291.1,259.4 291.2,260.4 291.4,260.0 291.6,259.4 291.7,260.0 291.9,258.6 292.0,260.4 292.1,260.2 292.3,259.9 292.4,258.3 292.6,261.3 292.8,257.9 292.9,258.9 293.1,258.9 293.2,260.2 293.4,258.5 293.5,259.9 293.6,259.5 293.8,259.4 293.9,260.4 294.1,260.8 294.2,260.0 294.4,259.5 294.6,257.9 294.7,260.9 294.9,259.4 295.0,258.2 295.1,259.8 295.3,260.8 295.4,259.6 295.6,258.7 295.8,261.5 295.9,260.2 296.1,260.0 296.2,260.5 296.4,257.9 296.5,259.6 296.6,259.6 296.8,261.5 296.9,259.2 297.1,259.3 297.2,258.6 297.4,259.0 297.6,259.5 297.7,259.9 297.9,259.5 298.0,261.3 298.1,260.1 298.3,260.2 298.4,260.8 298.6,260.2 298.8,259.3 298.9,258.5 299.1,260.0 299.2,259.0 299.4,260.8 299.5,259.1 299.6,257.9 299.8,259.7 299.9,260.6 300.1,259.5 300.2,259.9 300.4,259.8 300.6,261.1 300.7,259.9 300.9,259.7 301.0,259.2 301.1,258.4 301.3,260.8 301.4,260.6 301.6,258.9 301.8,260.2 301.9,260.0 302.1,259.4 302.2,259.4 302.4,260.3 302.5,258.7 302.6,259.3 302.8,259.6 302.9,259.7 303.1,259.5 303.2,259.8 303.4,260.1 303.6,258.9 303.7,259.7 303.9,259.2 304.0,260.9 304.1,258.5 304.3,259.5 304.4,260.2 304.6,259.4 304.8,259.4 304.9,259.2 305.1,259.9 305.2,258.7 305.4,259.5 305.5,259.5 305.6,258.4 305.8,259.8 305.9,259.2 306.1,259.8 306.2,260.2 306.4,259.7 306.6,258.5 306.7,259.6 306.9,258.1 307.0,258.7 307.1,260.4 307.3,259.0 307.4,259.8 307.6,258.2 307.8,257.6 307.9,256.0 308.1,255.4 308.2,253.0 308.4,251.1 308.5,249.1 308.6,248.0 308.7,247.8 308.8,248.1 308.9,249.6 309.1,251.4 309.2,253.0 309.4,255.8 309.6,258.1 309.7,258.6 309.9,260.0 310.0,259.2 310.1,258.4 310.3,258.5 310.4,259.9 310.6,259.7 310.8,259.3 310.9,260.1 311.1,258.9 311.2,260.0 311.4,259.4 311.5,259.7 311.6,260.6 311.8,259.5 311.9,260.7 312.1,260.7 312.2,259.1 312.4,261.5 312.6,258.7 312.7,259.6 312.9,260.3 313.0,257.9 313.1,260.6 313.3,260.6 313.4,259.7 313.6,260.0 313.8,259.9 313.9,259.6 314.1,260.6 314.2,259.5 314.4,259.7 314.5,260.1 314.6,260.5 314.8,260.7 314.9,258.6 315.1,258.1 315.2,259.7 315.4,259.7 315.6,258.9 315.7,260.0 315.9,260.3 316.0,260.1 316.1,261.1 316.3,258.9 316.4,259.8 316.6,261.3 316.8,260.3 316.9,258.9 317.1,259.9 317.2,260.7 317.4,261.5 317.5,260.3 317.6,260.7 317.8,258.9 317.9,259.6 318.1,260.8 318.2,259.0 318.4,259.7 318.6,258.3 318.7,261.0 318.9,259.7 319.0,260.2 319.1,258.6 319.3,258.7 319.4,261.3 319.6,259.5 319.8,259.3 319.9,260.2 320.1,260.2 320.2,258.2 320.4,259.0 320.5,259.8 320.6,259.8 320.8,260.1 320.9,259.4 321.1,259.6 321.2,260.0 321.4,259.2 321.6,259.1 321.7,259.3 321.9,259.8 322.0,259.7 322.1,259.4 322.3,259.6 322.4,259.7 322.6,260.0 322.8,260.1 322.9,258.7 323.1,260.6 323.2,258.5 323.4,260.2 323.5,259.2 323.6,260.2 323.8,260.6 323.9,258.3 324.1,260.3 324.2,260.0 324.4,259.4 324.6,260.1 324.7,259.4 324.9,259.9 325.0,258.9 325.1,260.4 325.3,260.2 325.4,260.4 325.6,259.2 325.8,261.2 325.9,261.4 326.1,259.7 326.2,259.4 326.4,259.4 326.5,260.3 326.6,260.6 326.8,259.2 326.9,258.1 327.1,260.1 327.2,259.7 327.4,259.9 327.6,260.2 327.7,258.9 327.9,259.8 328.0,259.5 328.1,260.0 328.3,260.7 328.4,259.7 328.6,259.0 328.8,260.7 328.9,260.3 329.1,259.5 329.2,258.3 329.4,259.0 329.5,259.8 329.6,260.1 329.8,259.2 329.9,260.0 330.1,259.1 330.2,259.3 330.4,260.0 330.6,259.4 330.7,259.6 330.9,260.2 331.0,260.3 331.1,259.0 331.3,259.1 331.4,258.3 331.6,258.1 331.8,258.9 331.9,257.9 332.1,256.4 332.2,256.5 332.4,254.4 332.5,252.9 332.6,251.4 332.8,250.2 332.9,249.8 332.9,249.3 333.1,250.9 333.2,252.2 333.4,253.7 333.6,254.8 333.7,257.8 333.9,258.1 334.0,258.7 334.1,259.4 334.3,258.8 334.4,257.6 334.6,258.4 334.8,257.5 334.9,255.9 335.1,254.4 335.2,252.4 335.4,249.5 335.5,248.2 335.6,248.0 335.6,248.1 335.8,249.2 335.9,251.4 336.1,253.5 336.2,254.9 336.4,256.7 336.6,257.3 336.7,258.3 336.9,258.1 337.0,257.7 337.1,258.9 337.3,258.9 337.4,260.0 337.6,260.6 337.8,259.5 337.9,259.9 338.1,259.1 338.2,258.9 338.4,259.4 338.5,259.4 338.6,259.8 338.8,259.6 338.9,260.7 339.1,259.3 339.2,258.2 339.4,259.4 339.6,258.8 339.7,259.3 339.9,259.7 340.0,258.2 340.1,258.1 340.3,257.5 340.4,255.5 340.6,254.3 340.8,252.3 340.9,250.1 341.1,248.3 341.2,247.3 341.4,248.1 341.5,249.5 341.6,251.4 341.8,253.9 341.9,256.6 342.1,257.3 342.2,256.8 342.4,258.4 342.6,259.2 342.7,257.8 342.9,259.7 343.0,258.5 343.1,260.2 343.3,259.5 343.4,261.3 343.6,258.5 343.8,259.8 343.9,258.5 344.1,260.5 344.2,259.7 344.4,260.4 344.5,259.7 344.6,258.8 344.8,259.2 344.9,258.7 345.1,258.9 345.2,259.8 345.4,260.6 345.6,260.4 345.7,260.1 345.9,259.3 346.0,260.1 346.1,259.1 346.3,259.9 346.4,260.4 346.6,259.6 346.8,259.4 346.9,259.4 347.1,260.2 347.2,259.5 347.4,258.6 347.5,259.4 347.6,258.9 347.8,260.9 347.9,259.8 348.1,258.6 348.2,260.0 348.4,260.3 348.6,260.1 348.7,259.5 348.9,259.9 349.0,260.0 349.1,260.6 349.3,260.1 349.4,261.6 349.6,259.6 349.8,261.0 349.9,259.8 350.1,258.4 350.2,258.8 350.4,258.3 350.5,258.4 350.6,260.7 350.8,259.3 350.9,260.3 351.1,259.1 351.2,259.8 351.4,258.9 351.6,260.5 351.7,259.6 351.9,259.4 352.0,259.7 352.1,261.5 352.3,260.1 352.4,260.4 352.6,258.8 352.8,259.3 352.9,260.0 353.1,258.3 353.2,260.8 353.4,260.0 353.5,259.8 353.6,259.6 353.8,259.6 353.9,259.4 354.1,260.9 354.2,260.3 354.4,260.8 354.6,259.5 354.7,259.1 354.9,260.9 355.0,258.8 355.1,259.3 355.3,260.4 355.4,260.7 355.6,258.7 355.8,259.6 355.9,259.8 356.1,259.7 356.2,259.1 356.4,260.3 356.5,259.4 356.6,259.6 356.8,258.0 356.9,259.7 357.1,258.2 357.2,260.4 357.4,260.2 357.6,259.4 357.7,259.9 357.9,259.9 358.0,259.7 358.1,260.1 358.3,259.7 358.4,259.4 358.6,259.2 358.8,261.1 358.9,259.9 359.1,259.8 359.2,260.4 359.4,259.5 359.5,259.5 359.6,260.3 359.8,260.6 359.9,260.3 360.1,258.6 360.2,259.8 360.4,259.8 360.6,260.2 360.7,259.1 360.9,259.0 361.0,259.7 361.1,259.1 361.3,258.9 361.4,259.7 361.6,260.5 361.8,259.9 361.9,260.7 362.1,259.0 362.2,260.4 362.4,259.8 362.5,259.1 362.6,259.5 362.8,259.1 362.9,259.6 363.1,259.2 363.2,260.8 363.4,259.5 363.6,258.7 363.7,259.6 363.9,260.1 364.0,259.5 364.1,260.5 364.3,259.1 364.4,259.1 364.6,261.1 364.8,259.8 364.9,260.2 365.1,260.2 365.2,260.2 365.4,259.8 365.5,259.6 365.6,260.6 365.8,259.4 365.9,259.9 366.1,260.3 366.2,259.5 366.4,258.6 366.6,260.2 366.7,260.6 366.9,260.0 367.0,258.5 367.1,260.3 367.3,261.3 367.4,258.6 367.6,258.0 367.8,259.6 367.9,259.9 368.1,260.4 368.2,260.4 368.4,259.9 368.5,260.2 368.6,260.1 368.8,259.9 368.9,259.8 369.1,259.7 369.2,260.3 369.4,260.1 369.6,259.5 369.7,260.7 369.9,259.2 370.0,259.6 370.1,259.9 370.3,258.3 370.4,259.5 370.6,260.5 370.8,260.4 370.9,258.9 371.1,259.1 371.2,259.0 371.4,259.6 371.5,259.7 371.6,258.6 371.8,260.0 371.9,259.9 372.1,259.7 372.2,259.3 372.4,259.7 372.6,258.4 372.7,260.0 372.9,260.0 373.0,259.7 373.1,258.9 373.3,260.8 373.4,260.7 373.6,258.3 373.8,260.1 373.9,259.9 374.1,258.0 374.2,260.2 374.4,260.3 374.5,260.4 374.6,259.9 374.8,259.3 374.9,259.4 375.1,260.2 375.2,260.7 375.4,259.4 375.6,259.6 375.7,260.3 375.9,258.1 376.0,260.1 376.1,259.6 376.3,258.1 376.4,260.4 376.6,259.1 376.8,260.4 376.9,260.9 377.1,258.8 377.2,258.9 377.4,259.8 377.5,258.4 377.6,260.4 377.8,259.9 377.9,260.6 378.1,258.4 378.2,260.0 378.4,260.2 378.6,258.4 378.7,260.5 378.9,258.7 379.0,259.9 379.1,258.8 379.3,260.4 379.4,261.1 379.6,259.9 379.8,259.8 379.9,260.8 380.1,259.5 380.2,259.9 380.4,260.5 380.5,260.1 380.6,261.0 380.8,260.8 380.9,261.3 381.1,259.8 381.2,260.7 381.4,259.2 381.6,260.5 381.7,261.2 381.9,261.6 382.0,258.9 382.1,259.7 382.3,260.4 382.4,259.2 382.6,260.3 382.8,260.3 382.9,259.5 383.1,259.4 383.2,259.1 383.4,260.1 383.5,260.9 383.6,260.1 383.8,261.6 383.9,258.7 384.1,259.4 384.2,260.4 384.4,259.0 384.6,260.1 384.7,260.5 384.9,260.0 385.0,259.7 385.1,260.6 385.3,260.2 385.4,260.4 385.6,260.3 385.8,259.3 385.9,259.0 386.1,259.6 386.2,260.0 386.4,259.7 386.5,260.6 386.6,260.1 386.8,260.6 386.9,259.9 387.1,259.3 387.2,260.5 387.4,260.2 387.6,259.2 387.7,259.5 387.9,261.6 388.0,257.9 388.1,260.7 388.3,259.9 388.4,259.8 388.6,259.6 388.8,259.4 388.9,261.6 389.1,259.5 389.2,259.6 389.4,260.4 389.5,260.1 389.6,259.6 389.8,259.6 389.9,258.7 390.1,260.6 390.2,258.9 390.4,257.9 390.6,260.6 390.7,260.3 390.9,260.0 391.0,259.3 391.1,260.6 391.3,258.8 391.4,258.0 391.6,259.7 391.8,260.2 391.9,260.0 392.1,261.1 392.2,260.1 392.4,259.2 392.5,259.1 392.6,259.5 392.8,258.5 392.9,257.7 393.1,255.9 393.2,255.4 393.4,253.5 393.6,252.6 393.7,251.5 393.8,251.2 393.9,251.8 394.0,252.0 394.1,254.0 394.3,254.6 394.4,256.5 394.6,258.0 394.8,259.5 394.9,258.1 395.1,258.9 395.2,259.4 395.4,259.3 395.5,258.8 395.6,258.3 395.8,258.6 395.9,259.5 396.1,258.6 396.2,261.0 396.4,260.6 396.6,258.2 396.7,259.3 396.9,260.7 397.0,260.8 397.1,260.6 397.3,258.6 397.4,259.4 397.6,260.7 397.8,259.8 397.9,259.4 398.1,260.2 398.2,260.5 398.4,259.9 398.5,260.0 398.6,260.6 398.8,259.3 398.9,259.1 399.1,260.4 399.2,258.8 399.4,260.2 399.6,259.2 399.7,260.4 399.9,258.8 400.0,260.7 400.1,260.0 400.3,259.5 400.4,259.1 400.6,259.7 400.8,259.1 400.9,258.8 401.1,260.6 401.2,260.3 401.4,260.8 401.5,258.7 401.6,258.2 401.8,258.5 401.9,260.3 402.1,260.4 402.2,258.3 402.4,260.6 402.6,259.4 402.7,258.8 402.9,259.7 403.0,260.2 403.1,259.6 403.3,259.7 403.4,259.1 403.6,258.7 403.8,259.5 403.9,258.5 404.1,260.3 404.2,259.1 404.4,260.8 404.5,258.5 404.6,260.9 404.8,259.1 404.9,259.1 405.1,260.0 405.2,260.5 405.4,259.8 405.6,259.5 405.7,261.4 405.9,260.2 406.0,258.8 406.1,259.6 406.3,261.1 406.4,260.0 406.6,260.4 406.8,261.4 406.9,259.3 407.1,260.1 407.2,259.2 407.4,259.8 407.5,260.2 407.6,258.7 407.8,259.9 407.9,259.9 408.1,260.6 408.2,259.3 408.4,258.7 408.6,260.1 408.7,258.9 408.9,259.9 409.0,260.2 409.1,259.0 409.3,259.6 409.4,258.9 409.6,257.9 409.8,258.6 409.9,258.1 410.1,259.7 410.2,258.8 410.4,259.5 410.5,259.6 410.6,260.4 410.8,259.3 410.9,259.2 411.1,259.8 411.2,260.4 411.4,259.0 411.6,258.8 411.7,257.9 411.9,256.9 412.0,255.7 412.1,255.5 412.3,254.8 412.4,254.8 412.4,255.6 412.6,255.1 412.8,256.3 412.9,256.8 413.1,258.5 413.2,258.3 413.4,260.2 413.5,259.0 413.6,260.0 413.8,260.3 413.9,259.4 414.1,260.3 414.2,259.7 414.4,259.1 414.6,259.1 414.7,259.9 414.9,261.1 415.0,259.3 415.1,260.1 415.3,259.1 415.4,259.9 415.6,258.7 415.8,259.1 415.9,259.7 416.1,259.2 416.2,259.5 416.4,260.6 416.5,259.7 416.6,259.2 416.8,258.8 416.9,259.3 417.1,260.7 417.2,259.7 417.4,259.7 417.6,260.3 417.7,260.4 417.9,260.6 418.0,259.5 418.1,259.0 418.3,258.4 418.4,259.2 418.6,259.5 418.8,260.4 418.9,260.0 419.1,259.3 419.2,260.5 419.4,258.8 419.5,258.9 419.6,258.8 419.8,258.9 419.9,259.6 420.1,259.1 420.2,259.2 420.4,260.9 420.6,258.6 420.7,259.0 420.9,259.6 421.0,260.1 421.1,260.2 421.3,259.6 421.4,259.5 421.6,259.6 421.8,260.4 421.9,259.0 422.1,258.0 422.2,259.9 422.4,258.8 422.5,259.7 422.6,260.9 422.8,259.9 422.9,261.3 423.1,258.5 423.2,260.0 423.4,260.1 423.6,260.5 423.7,259.2 423.9,259.9 424.0,259.9 424.1,259.9 424.3,258.7 424.4,258.4 424.6,260.2 424.8,260.1 424.9,259.8 425.1,260.3 425.2,260.7 425.4,258.9 425.5,260.4 425.6,261.0 425.8,260.6 425.9,260.3 426.1,260.4 426.2,258.6 426.4,259.4 426.6,260.6 426.7,261.0 426.9,260.2 427.0,259.4 427.1,259.7 427.3,260.5 427.4,261.4 427.6,260.4 427.8,259.4 427.9,260.3 428.1,260.2 428.2,261.6 428.4,260.3 428.5,259.9 428.6,259.8 428.8,258.8 428.9,259.0 429.1,259.4 429.2,259.2 429.4,260.0 429.6,259.9 429.7,260.6 429.9,261.0 430.0,259.9 430.1,259.7 430.3,258.3 430.4,260.1 430.6,260.3 430.8,259.2 430.9,259.5 431.1,259.3 431.2,260.7 431.4,260.3 431.5,260.8 431.6,258.8 431.8,261.6 431.9,259.1 432.1,259.0 432.2,259.9 432.4,259.4 432.6,261.2 432.7,259.5 432.9,259.2 433.0,260.5 433.1,260.7 433.3,259.1 433.4,259.4 433.6,259.5 433.8,259.6 433.9,261.1 434.1,260.7 434.2,260.5 434.4,260.7 434.5,259.7 434.6,260.3 434.8,259.5 434.9,259.0 435.1,260.7 435.2,258.0 435.4,259.0 435.6,258.2 435.7,257.0 435.9,256.9 436.0,256.2 436.1,255.4 436.3,254.2 436.4,254.4 436.4,254.6 436.6,255.3 436.8,255.0 436.9,256.6 437.1,257.3 437.2,258.7 437.4,258.4 437.5,258.8 437.6,258.5 437.8,258.6 437.9,258.8 438.1,260.3 438.2,258.8 438.4,257.9 438.6,259.9 438.7,259.3 438.9,260.1 439.0,260.1 439.1,259.5 439.3,259.4 439.4,259.3 439.6,259.7 439.8,259.1 439.9,259.9 440.1,260.8 440.2,259.2 440.4,259.2 440.5,259.2 440.6,260.2 440.8,260.2 440.9,260.8 441.1,260.2 441.2,259.7 441.4,259.9 441.6,258.5 441.7,259.8 441.9,259.4 442.0,260.5 442.1,259.5 442.3,257.6 442.4,257.0 442.6,256.8 442.8,254.6 442.9,254.6 443.0,254.8 443.1,255.1 443.2,255.4 443.4,256.6 443.5,256.9 443.6,257.9 443.8,258.3 443.9,258.2 444.1,259.2 444.2,259.0 444.4,259.6 444.6,257.8 444.7,259.7 444.9,259.2 445.0,259.2 445.1,259.7 445.3,259.3 445.4,260.4 445.6,260.7 445.8,260.4 445.9,260.5 446.1,260.0 446.2,259.8 446.4,258.7 446.5,259.5 446.6,260.7 446.8,260.4 446.9,259.4 447.1,259.9 447.2,260.6 447.4,259.6 447.6,261.1 447.7,259.2 447.9,260.4 448.0,260.3 448.1,259.9 448.3,260.0 448.4,260.2 448.6,258.0 448.8,260.2 448.9,260.7 449.1,260.1 449.2,260.7 449.4,258.8 449.5,259.7 449.6,260.1 449.8,259.6 449.9,260.7 450.1,260.2 450.2,259.4 450.4,260.4 450.6,260.4 450.7,259.4 450.9,260.3 451.0,260.1 451.1,260.1 451.3,258.8 451.4,260.8 451.6,260.3 451.8,259.8 451.9,260.1 452.1,260.1 452.2,259.6 452.4,259.3 452.5,259.9 452.6,259.3 452.8,259.4 452.9,258.9 453.1,259.6 453.2,260.6 453.4,260.0 453.6,259.8 453.7,259.5 453.9,259.5 454.0,258.6 454.1,261.1 454.3,259.2 454.4,258.6 454.6,260.1 454.8,260.0 454.9,259.4 455.1,258.6 455.2,258.7 455.4,261.0 455.5,259.7 455.6,259.3 455.8,261.3 455.9,259.4 456.1,259.1 456.2,260.2 456.4,260.1 456.6,261.0 456.7,258.6 456.9,260.0 457.0,258.4 457.1,260.2 457.3,259.3 457.4,259.4 457.6,259.2 457.8,260.5 457.9,261.1 458.1,259.7 458.2,259.6 458.4,259.4 458.5,260.2 458.6,259.0 458.8,261.6 458.9,259.6 459.1,261.2 459.2,259.9 459.4,258.7 459.6,258.5 459.7,259.4 459.9,259.2 460.0,259.6 460.1,258.9 460.3,261.6 460.4,261.5 460.6,258.3 460.8,260.2 460.9,260.7 461.1,259.5 461.2,259.6 461.4,260.6 461.5,260.2 461.6,258.8 461.8,260.7 461.9,259.3 462.1,261.2 462.2,259.0 462.4,257.9 462.6,259.8 462.7,260.6 462.9,260.1 463.0,259.7 463.1,258.8 463.3,260.1 463.4,257.9 463.6,259.6 463.8,257.9 463.9,257.9 464.1,257.0 464.2,256.8 464.4,257.8 464.4,257.0 464.5,257.1 464.6,257.0 464.8,258.5 464.9,257.5 465.1,258.8 465.2,259.8 465.4,261.0 465.6,258.6 465.7,258.9 465.9,259.6 466.0,260.8 466.1,258.8 466.3,260.3 466.4,259.2 466.6,258.9 466.8,258.4 466.9,259.8 467.1,260.5 467.2,259.6 467.4,258.0 467.5,259.2 467.6,260.5 467.8,260.4 467.9,259.9 468.1,260.8 468.2,258.6 468.4,258.6 468.6,261.4 468.7,260.1 468.9,259.3 469.0,258.9 469.1,257.5 469.3,259.3 469.4,257.0 469.6,256.7 469.8,257.3 469.9,257.8 470.0,257.0 470.1,257.2 470.2,257.0 470.4,257.9 470.5,257.2 470.6,260.0 470.8,258.3 470.9,259.7 471.1,257.9 471.2,260.9 471.4,259.9 471.6,261.2 471.7,259.1 471.9,260.5 472.0,259.5 472.1,259.6 472.3,260.7 472.4,259.0 472.6,260.3 472.8,261.3 472.9,261.1 473.1,260.6 473.2,260.0 473.4,258.9 473.5,260.9 473.6,259.2 473.8,260.7 473.9,259.5 474.1,259.8 474.2,259.7 474.4,260.2 474.6,259.4 474.7,259.9 474.9,259.3 475.0,260.2 475.1,260.0 475.3,260.1 475.4,259.1 475.6,260.0 475.8,259.8 475.9,260.2 476.1,259.8 476.2,259.0 476.4,260.3 476.5,259.2 476.6,260.0 476.8,258.1 476.9,260.2 477.1,260.3 477.2,259.0 477.4,260.2 477.6,259.5 477.7,260.9 477.9,260.3 478.0,258.7 478.1,259.6 478.3,258.3 478.4,259.5 478.6,260.2 478.8,260.4 478.9,259.7 479.1,259.6 479.2,259.9 479.4,259.3 479.5,260.0 479.6,260.7 479.8,259.9 479.9,260.5 480.1,259.1 480.2,259.4 480.4,260.0 480.6,261.4 480.7,260.6 480.9,261.2 481.0,259.8 481.1,260.8 481.3,258.4 481.4,260.2 481.6,258.1 481.8,260.8 481.9,260.2 482.1,260.7 482.2,260.1 482.4,259.4 482.5,259.2 482.6,260.0 482.8,261.0 482.9,260.3 483.1,259.4 483.2,259.3 483.4,259.2 483.6,259.6 483.7,259.7 483.9,259.4 484.0,259.8 484.1,258.5 484.3,261.1 484.4,260.0 484.6,261.0 484.8,260.0 484.9,259.6 485.1,259.9 485.2,260.0 485.4,259.3 485.5,259.5 485.6,261.4 485.8,260.6 485.9,259.4 486.1,260.2 486.2,259.1 486.4,260.9 486.6,259.0 486.7,260.5 486.9,259.8 487.0,259.8 487.1,259.2 487.3,259.6 487.4,259.2 487.6,259.1 487.8,260.2 487.9,261.6 488.1,259.5 488.2,260.6 488.4,259.8 488.5,259.2 488.6,260.9 488.8,260.3 488.9,260.7 489.1,259.9 489.2,259.9 489.4,259.2 489.6,259.6 489.7,261.2 489.9,258.0 490.0,260.1 490.1,261.0 490.3,260.5 490.4,260.5 490.6,259.6 490.8,260.7 490.9,260.8 491.1,259.8 491.2,261.2 491.4,259.4 491.5,258.0 491.6,259.8 491.8,259.7 491.9,259.1 492.1,259.5 492.2,259.4 492.4,258.4 492.6,260.8 492.7,259.8 492.9,261.6 493.0,259.8 493.1,260.1 493.3,258.6 493.4,260.6 493.6,258.9 493.8,260.3 493.9,260.6 494.1,260.4 494.2,259.2 494.4,259.2 494.5,260.4 494.6,260.8 494.8,261.0 494.9,259.8 495.1,259.7 495.2,261.3 495.4,259.3 495.6,260.4 495.7,259.6 495.9,258.7 496.0,258.9 496.1,260.2 496.3,260.0 496.4,260.2 496.6,259.5 496.8,259.4 496.9,260.0 497.1,259.7 497.2,258.5 497.4,259.5 497.5,261.2 497.6,259.2 497.8,260.3 497.9,259.8 498.1,260.4 498.2,259.1 498.4,258.8 498.6,260.2 498.7,259.2 498.9,259.8 499.0,259.6 499.1,260.6 499.3,260.0 499.4,259.9 499.6,259.0 499.8,258.5 499.9,259.1 500.1,260.5 500.2,260.4 500.4,260.3 500.5,259.5 500.6,259.0 500.8,260.7 500.9,260.0 501.1,260.2 501.2,259.0 501.4,259.3 501.6,260.3 501.7,260.4 501.9,259.0 502.0,260.0 502.1,258.9 502.3,260.8 502.4,260.3 502.6,261.6 502.8,261.0 502.9,259.3 503.1,260.0 503.2,259.4 503.4,259.9 503.5,260.4 503.6,259.8 503.8,259.8 503.9,258.7"/>
<text class="s" font-size="10.6" transform="matrix(1.278 0 0 1 76.59 237.4)"><tspan fill="#14a014" stroke="#14a014">Mnt</tspan></text>
<text class="s" font-size="10.6" transform="matrix(1.278 0 0 1 150.39 233)"><tspan fill="#14a014" stroke="#14a014">Mnt</tspan></text>
<text class="s" font-size="10.6" transform="matrix(1.257 0 0 1 172.35 242.6)"><tspan fill="#646464" stroke="#646464">Qz</tspan></text>
<text class="s" font-size="10.6" transform="matrix(1.300 0 0 1 181.03 227.2)"><tspan fill="#d27814" stroke="#d27814">Cal</tspan></text>
<text class="s" font-size="10.6" transform="matrix(1.249 0 0 1 202.96 233.2)"><tspan fill="#646464" stroke="#646464">Qz</tspan></text>
<text class="s" font-size="10.6" transform="matrix(1.280 0 0 1 192.64 155.5)"><tspan fill="#d27814" stroke="#d27814">Cal</tspan></text>
<text class="s" font-size="10.6" transform="matrix(1.313 0 0 1 231.13 234.1)"><tspan fill="#d27814" stroke="#d27814">Cal</tspan></text>
<text class="s" font-size="10.6" transform="matrix(1.278 0 0 1 241.79 244.9)"><tspan fill="#14a014" stroke="#14a014">Mnt</tspan></text>
<text class="s" font-size="10.6" transform="matrix(1.293 0 0 1 247.84 221)"><tspan fill="#d27814" stroke="#d27814">Cal</tspan><tspan fill="#d27814" stroke="#d27814">, </tspan><tspan fill="#646464" stroke="#646464">Qz</tspan></text>
<text class="s" font-size="10.6" transform="matrix(1.270 0 0 1 267.45 232.1)"><tspan fill="#d27814" stroke="#d27814">Cal</tspan><tspan fill="#d27814" stroke="#d27814">, </tspan><tspan fill="#646464" stroke="#646464">Qz</tspan></text>
<text class="s" font-size="10.6" transform="matrix(1.247 0 0 1 285.86 214.1)"><tspan fill="#d27814" stroke="#d27814">Cal</tspan><tspan fill="#d27814" stroke="#d27814">,</tspan><tspan fill="#646464" stroke="#646464">Qz</tspan></text>
<text class="s" font-size="10.6" transform="matrix(1.306 0 0 1 319.03 242.1)"><tspan fill="#d27814" stroke="#d27814">Cal</tspan></text>
<text class="s" font-size="10.6" transform="matrix(1.339 0 0 1 334.32 229.4)"><tspan fill="#d27814" stroke="#d27814">Cal</tspan></text>
<text class="s" font-size="10.6" transform="matrix(1.287 0 0 1 380.94 229.4)"><tspan fill="#d27814" stroke="#d27814">Cal</tspan></text>
<text class="s" font-size="10.6" transform="matrix(1.279 0 0 1 394.24 238.5)"><tspan fill="#d27814" stroke="#d27814">Cal</tspan><tspan fill="#d27814" stroke="#d27814">,</tspan><tspan fill="#646464" stroke="#646464">Qz</tspan><tspan fill="#646464" stroke="#646464">,</tspan><tspan fill="#14a014" stroke="#14a014">Mnt</tspan></text>
<text class="s" font-size="10.6" transform="matrix(1.293 0 0 1 421.04 217.8)"><tspan fill="#d27814" stroke="#d27814">Cal</tspan><tspan fill="#d27814" stroke="#d27814">,</tspan><tspan fill="#646464" stroke="#646464">Qz</tspan><tspan fill="#646464" stroke="#646464">,</tspan><tspan fill="#14a014" stroke="#14a014">Mnt</tspan></text>
<text class="s" font-size="10.6" transform="matrix(1.243 0 0 1 413.06 247.9)"><tspan fill="#d27814" stroke="#d27814">Cal</tspan><tspan fill="#d27814" stroke="#d27814">,</tspan><tspan fill="#646464" stroke="#646464">Qz</tspan></text>
<text class="s" font-size="10.6" transform="matrix(1.287 0 0 1 456.64 245.8)"><tspan fill="#d27814" stroke="#d27814">Cal</tspan><tspan fill="#d27814" stroke="#d27814">,</tspan><tspan fill="#646464" stroke="#646464">Qz</tspan></text>
<line x1="90" y1="241.3" x2="90" y2="249" stroke="#555555" stroke-width="1.0"/>
<line x1="170" y1="242.3" x2="170" y2="250.5" stroke="#555555" stroke-width="1.0"/>
<line x1="176.7" y1="246.8" x2="176.7" y2="254" stroke="#555555" stroke-width="1.0"/>
<line x1="190.9" y1="238.6" x2="190.9" y2="247.7" stroke="#555555" stroke-width="1.0"/>
<line x1="210.5" y1="236.8" x2="210.5" y2="245" stroke="#555555" stroke-width="1.0"/>
<line x1="238.5" y1="241.4" x2="238.5" y2="250.5" stroke="#555555" stroke-width="1.0"/>
<line x1="266.2" y1="228.2" x2="266.2" y2="245.5" stroke="#555555" stroke-width="1.0"/>
<line x1="286.6" y1="234.7" x2="286.6" y2="244.2" stroke="#555555" stroke-width="1.0"/>
<line x1="308.7" y1="238.5" x2="308.7" y2="245.3" stroke="#555555" stroke-width="1.0"/>
<line x1="341.8" y1="233.3" x2="341.8" y2="244" stroke="#555555" stroke-width="1.0"/>
<line x1="393.8" y1="236.6" x2="393.8" y2="250.2" stroke="#555555" stroke-width="1.0"/>
<line x1="412.4" y1="241.8" x2="412.4" y2="254" stroke="#555555" stroke-width="1.0"/>
<line x1="443.3" y1="222" x2="443.3" y2="229.3" stroke="#555555" stroke-width="1.0"/>
<line x1="443.3" y1="245" x2="443.3" y2="254.8" stroke="#555555" stroke-width="1.0"/>
<line x1="436.4" y1="247.7" x2="436.4" y2="256" stroke="#555555" stroke-width="1.0"/>
<line x1="464.3" y1="250.2" x2="464.3" y2="256.9" stroke="#555555" stroke-width="1.0"/>
<line x1="469.9" y1="250.2" x2="469.9" y2="256.9" stroke="#555555" stroke-width="1.0"/>
<line x1="253.9" y1="249.9" x2="258.8" y2="254.8" stroke="#555555" stroke-width="1.0"/>
<line x1="334.2" y1="244.2" x2="331.7" y2="252.3" stroke="#555555" stroke-width="1.0"/>
<line x1="220" y1="152.9" x2="226.2" y2="155.8" stroke="#555555" stroke-width="1.0"/>
<polyline fill="none" stroke="#f00000" stroke-width="1.5" stroke-linejoin="round" points="82.3,393.6 82.4,382.4 82.5,389.4 82.6,386.9 82.7,387.3 82.8,387.9 82.9,383.3 83.0,387.9 83.1,386.4 83.2,394.5 83.3,389.2 83.4,387.8 83.5,388.0 83.6,387.0 83.7,386.1 83.8,387.8 83.9,390.0 84.0,388.3 84.1,391.3 84.2,388.4 84.3,389.0 84.4,392.8 84.5,390.4 84.6,387.8 84.7,388.6 84.8,390.4 84.9,393.9 85.0,388.5 85.1,388.6 85.2,391.7 85.3,387.1 85.4,388.6 85.5,391.4 85.6,390.7 85.7,389.6 85.8,391.0 85.9,383.9 86.0,391.9 86.1,387.2 86.2,385.5 86.3,390.2 86.4,391.2 86.5,388.5 86.6,387.1 86.7,389.7 86.8,389.5 86.9,393.0 87.0,391.5 87.1,390.2 87.2,392.3 87.3,389.3 87.4,387.6 87.5,391.2 87.6,391.2 87.7,389.4 87.8,388.1 87.9,390.5 88.0,384.7 88.1,391.6 88.2,391.1 88.3,386.3 88.4,390.2 88.5,387.9 88.6,391.8 88.7,385.5 88.8,388.1 88.9,391.8 89.0,392.8 89.1,385.4 89.2,389.1 89.3,391.0 89.4,388.9 89.5,393.8 89.6,387.7 89.7,391.1 89.8,388.0 89.9,393.5 90.0,390.4 90.1,389.6 90.2,386.7 90.3,394.1 90.4,392.1 90.5,392.1 90.6,393.0 90.7,391.3 90.8,389.2 90.9,388.9 91.0,388.9 91.1,393.6 91.2,387.5 91.3,389.4 91.4,390.0 91.5,391.2 91.6,392.0 91.7,388.1 91.8,387.1 91.9,390.8 92.0,393.4 92.1,392.4 92.2,391.3 92.3,390.2 92.4,391.5 92.5,390.4 92.6,392.6 92.7,389.3 92.8,391.2 92.9,390.7 93.0,392.1 93.1,391.5 93.2,395.8 93.3,394.1 93.4,394.1 93.5,386.9 93.6,390.4 93.7,389.9 93.8,392.2 93.9,386.5 94.0,393.5 94.1,393.3 94.2,388.5 94.3,389.2 94.4,389.6 94.5,391.3 94.6,392.5 94.7,395.4 94.8,390.9 94.9,392.8 95.0,391.6 95.1,394.8 95.2,392.8 95.3,394.1 95.4,389.2 95.5,391.0 95.6,389.8 95.7,394.4 95.8,392.7 95.9,390.8 96.0,390.6 96.1,392.4 96.2,390.1 96.3,389.7 96.4,392.5 96.5,396.0 96.6,391.1 96.7,390.5 96.8,389.3 96.9,389.0 97.0,392.6 97.1,393.3 97.2,391.6 97.3,392.3 97.4,391.9 97.5,391.9 97.6,388.8 97.7,390.8 97.8,391.9 97.9,390.2 98.0,390.8 98.1,390.2 98.2,391.1 98.3,393.4 98.4,391.0 98.5,391.5 98.6,393.3 98.7,393.0 98.8,395.0 98.9,387.9 99.0,393.5 99.1,391.0 99.2,392.1 99.3,393.5 99.4,393.9 99.5,393.8 99.6,392.2 99.7,394.9 99.8,391.4 99.9,391.7 100.0,393.4 100.1,391.0 100.2,396.0 100.3,393.9 100.4,396.0 100.5,392.0 100.6,391.3 100.7,392.4 100.8,393.4 100.9,391.0 101.0,392.8 101.1,392.1 101.2,395.0 101.3,390.9 101.4,394.0 101.5,391.0 101.6,390.4 101.7,390.9 101.8,390.0 101.9,392.4 102.0,394.0 102.1,392.5 102.2,393.3 102.3,395.1 102.4,392.7 102.5,392.6 102.6,391.8 102.7,389.4 102.8,393.6 102.9,389.2 103.0,393.4 103.1,392.3 103.2,394.3 103.3,392.2 103.4,390.9 103.5,393.0 103.6,391.4 103.7,392.0 103.8,392.4 103.9,392.1 104.0,392.1 104.1,391.0 104.2,392.1 104.3,388.7 104.4,392.1 104.5,390.4 104.6,394.4 104.7,394.6 104.8,389.1 104.9,392.7 105.0,392.3 105.1,390.7 105.2,393.4 105.3,391.7 105.4,389.5 105.5,392.1 105.6,392.3 105.7,392.7 105.8,390.5 105.9,393.6 106.0,393.8 106.1,390.6 106.2,391.5 106.3,392.4 106.4,391.6 106.5,395.5 106.6,392.9 106.7,390.9 106.8,391.3 106.9,392.5 107.0,396.4 107.1,392.3 107.2,392.8 107.3,393.5 107.4,392.6 107.5,396.4 107.6,391.8 107.7,393.9 107.8,392.9 107.9,393.7 108.0,390.8 108.1,395.6 108.2,392.5 108.3,392.8 108.4,391.2 108.5,391.5 108.6,393.7 108.7,394.3 108.8,394.0 108.9,394.7 109.0,393.9 109.1,392.8 109.2,394.1 109.3,393.7 109.4,392.6 109.5,394.0 109.6,394.9 109.7,393.2 109.8,392.2 109.9,394.0 110.0,395.9 110.1,392.5 110.2,392.7 110.3,392.6 110.4,394.8 110.5,389.9 110.6,393.4 110.7,394.8 110.8,391.6 110.9,395.2 111.0,393.7 111.1,392.0 111.2,393.2 111.3,390.5 111.4,392.0 111.5,395.8 111.6,391.5 111.7,395.8 111.8,392.8 111.9,394.5 112.0,393.0 112.1,389.5 112.2,392.1 112.3,393.2 112.4,391.2 112.5,390.9 112.6,393.5 112.7,392.0 112.8,390.4 112.9,391.9 113.0,394.3 113.1,392.3 113.2,394.4 113.3,395.3 113.4,393.1 113.5,391.3 113.6,391.0 113.7,393.0 113.8,394.4 113.9,393.4 114.0,393.9 114.1,392.4 114.2,393.5 114.3,392.3 114.4,392.6 114.5,391.1 114.6,390.7 114.7,392.3 114.8,391.4 114.9,391.6 115.0,394.1 115.1,392.9 115.2,396.5 115.3,394.5 115.4,392.2 115.5,394.3 115.6,393.6 115.7,392.1 115.8,394.8 115.9,392.0 116.0,389.7 116.1,394.3 116.2,392.2 116.3,395.3 116.4,392.2 116.5,391.4 116.6,395.4 116.7,391.6 116.8,393.5 116.9,395.3 117.0,393.3 117.1,393.1 117.2,393.3 117.3,394.4 117.4,392.0 117.5,394.1 117.6,394.0 117.7,396.6 117.8,392.7 117.9,391.9 118.0,394.3 118.1,392.6 118.2,393.6 118.3,393.4 118.4,394.9 118.5,392.3 118.6,393.1 118.7,389.9 118.8,391.9 118.9,395.5 119.0,392.3 119.1,392.2 119.2,391.5 119.3,394.1 119.4,393.5 119.5,391.6 119.6,394.2 119.7,393.6 119.8,394.3 119.9,392.4 120.0,395.8 120.1,393.9 120.2,393.1 120.3,392.5 120.4,392.9 120.5,394.5 120.6,392.9 120.7,394.8 120.8,394.1 120.9,395.2 121.0,394.5 121.1,393.2 121.2,390.6 121.3,393.7 121.4,394.4 121.5,393.6 121.6,394.1 121.7,392.7 121.8,392.8 121.9,392.0 122.0,395.2 122.1,393.6 122.2,392.7 122.3,391.5 122.4,393.1 122.5,395.4 122.6,394.0 122.7,392.3 122.8,395.4 122.9,395.4 123.0,394.7 123.1,394.5 123.2,395.0 123.3,394.1 123.4,394.4 123.5,392.3 123.6,395.5 123.7,393.7 123.8,396.2 123.9,390.6 124.0,394.4 124.1,394.7 124.2,392.9 124.3,394.0 124.4,394.4 124.5,394.2 124.6,392.7 124.7,393.2 124.8,394.8 124.9,395.2 125.0,393.5 125.1,393.5 125.2,393.7 125.3,394.8 125.4,392.0 125.5,391.6 125.6,393.6 125.7,391.9 125.8,392.6 125.9,393.5 126.0,394.1 126.1,392.0 126.2,394.5 126.3,391.0 126.4,394.2 126.5,391.3 126.6,391.7 126.7,394.3 126.8,392.9 126.9,392.4 127.0,392.9 127.1,394.1 127.2,393.4 127.3,393.4 127.4,394.9 127.5,392.5 127.6,392.8 127.7,392.8 127.8,395.0 127.9,394.8 128.0,395.2 128.1,393.4 128.2,393.3 128.3,394.6 128.4,392.9 128.5,394.6 128.6,394.4 128.7,392.5 128.8,393.4 128.9,393.3 129.0,395.8 129.1,396.5 129.2,393.3 129.3,393.5 129.4,390.5 129.5,393.8 129.6,393.5 129.7,392.1 129.8,394.5 129.9,391.4 130.0,393.2 130.1,393.7 130.2,391.8 130.3,394.6 130.4,394.9 130.5,391.7 130.6,391.6 130.7,394.3 130.8,393.4 130.9,391.9 131.0,393.1 131.1,393.3 131.2,393.3 131.3,394.5 131.4,394.0 131.5,395.7 131.6,395.2 131.7,394.3 131.8,394.8 131.9,395.1 132.0,394.3 132.1,391.9 132.2,394.5 132.3,393.5 132.4,395.4 132.5,393.5 132.6,394.0 132.7,393.7 132.8,395.3 132.9,393.4 133.0,392.7 133.1,393.3 133.2,392.3 133.3,392.8 133.4,392.3 133.5,392.4 133.6,393.6 133.7,391.1 133.8,391.2 133.9,390.6 134.0,391.0 134.1,389.3 134.2,389.5 134.3,390.0 134.4,390.5 134.5,390.2 134.6,390.1 134.7,390.1 134.8,391.6 134.9,392.8 135.0,392.1 135.1,392.3 135.2,392.8 135.3,391.6 135.4,392.5 135.5,392.7 135.6,393.4 135.7,393.1 135.8,391.8 135.9,394.7 136.0,395.4 136.1,393.1 136.2,393.9 136.3,393.8 136.4,394.4 136.5,391.6 136.6,395.5 136.7,392.9 136.8,395.1 136.9,393.6 137.0,393.0 137.1,393.4 137.2,394.7 137.3,392.5 137.4,393.1 137.5,393.0 137.6,391.4 137.7,395.2 137.8,394.3 137.9,393.6 138.0,395.0 138.1,392.4 138.2,393.5 138.3,395.7 138.4,394.8 138.5,390.8 138.6,390.7 138.7,392.3 138.8,394.9 138.9,393.0 139.0,393.3 139.1,394.4 139.2,392.5 139.3,393.9 139.4,394.6 139.5,394.2 139.6,394.1 139.7,392.9 139.8,394.3 139.9,393.1 140.0,395.3 140.1,396.5 140.2,392.7 140.3,390.9 140.4,393.1 140.5,394.1 140.6,394.9 140.7,395.0 140.8,392.7 140.9,392.7 141.0,395.2 141.1,392.3 141.2,395.0 141.3,393.4 141.4,394.6 141.5,394.5 141.6,394.6 141.7,394.7 141.8,392.4 141.9,394.0 142.0,393.7 142.1,394.0 142.2,395.2 142.3,393.3 142.4,392.8 142.5,392.8 142.6,393.3 142.7,394.6 142.8,392.7 142.9,395.1 143.0,394.0 143.1,393.4 143.2,392.0 143.3,394.0 143.4,394.5 143.5,391.5 143.6,395.1 143.7,395.7 143.8,394.1 143.9,394.3 144.0,396.5 144.1,395.2 144.2,392.6 144.3,393.7 144.4,393.5 144.5,393.5 144.6,390.9 144.7,394.6 144.8,392.9 144.9,393.9 145.0,393.5 145.1,394.7 145.2,393.3 145.3,392.7 145.4,394.3 145.5,395.4 145.6,393.3 145.7,395.4 145.8,394.0 145.9,393.0 146.0,395.5 146.1,392.7 146.2,394.9 146.3,393.1 146.4,394.2 146.5,392.2 146.6,392.7 146.7,395.0 146.8,393.9 146.9,393.7 147.0,393.2 147.1,394.2 147.2,392.0 147.3,392.3 147.4,393.5 147.5,392.7 147.6,392.9 147.7,393.6 147.8,393.5 147.9,393.4 148.0,395.7 148.1,394.9 148.2,395.2 148.3,393.7 148.4,393.1 148.5,392.0 148.6,393.3 148.7,391.2 148.8,393.0 148.9,394.6 149.0,395.7 149.1,394.9 149.2,392.7 149.3,394.3 149.4,392.8 149.5,394.7 149.6,393.6 149.7,394.7 149.8,396.5 149.9,394.8 150.0,396.5 150.1,393.9 150.2,393.3 150.3,395.3 150.4,395.8 150.5,393.1 150.6,393.8 150.7,392.0 150.8,393.5 150.9,394.8 151.0,393.6 151.1,393.0 151.2,392.0 151.3,394.2 151.4,394.7 151.5,394.4 151.6,394.0 151.7,392.2 151.8,395.8 151.9,393.7 152.0,393.6 152.1,394.6 152.2,391.2 152.3,393.6 152.4,393.6 152.5,394.2 152.6,395.3 152.7,394.3 152.8,391.6 152.9,393.3 153.0,394.0 153.1,393.9 153.2,392.2 153.3,391.8 153.4,394.4 153.5,394.1 153.6,393.7 153.7,391.7 153.8,395.8 153.9,391.0 154.0,393.3 154.1,396.2 154.2,393.5 154.3,394.0 154.4,392.3 154.5,395.3 154.6,392.2 154.7,394.0 154.8,393.9 154.9,392.5 155.0,394.8 155.1,392.1 155.2,392.9 155.3,393.7 155.4,393.2 155.5,394.3 155.6,394.8 155.7,393.4 155.8,393.1 155.9,393.1 156.0,393.3 156.1,394.7 156.2,393.5 156.3,394.2 156.4,393.6 156.5,392.7 156.6,394.7 156.7,392.5 156.8,393.7 156.9,395.5 157.0,392.5 157.1,393.7 157.2,391.9 157.3,393.1 157.4,392.0 157.5,393.3 157.6,393.1 157.7,393.9 157.8,395.6 157.9,394.1 158.0,394.5 158.1,393.7 158.2,393.4 158.3,392.8 158.4,391.6 158.5,393.8 158.6,395.6 158.7,394.3 158.8,393.1 158.9,395.7 159.0,393.2 159.1,393.0 159.2,392.3 159.3,392.6 159.4,393.4 159.5,396.0 159.6,393.5 159.7,392.5 159.8,393.0 159.9,393.5 160.0,391.7 160.1,393.9 160.2,394.5 160.3,394.1 160.4,394.4 160.5,392.2 160.6,391.8 160.7,395.2 160.8,395.0 160.9,391.9 161.0,393.9 161.1,393.7 161.2,394.3 161.3,393.9 161.4,393.1 161.5,393.9 161.6,393.9 161.7,393.6 161.8,391.6 161.9,391.0 162.0,392.8 162.1,391.8 162.2,393.9 162.3,394.4 162.4,393.9 162.5,393.2 162.6,393.7 162.7,394.9 162.8,392.8 162.9,394.6 163.0,394.3 163.1,393.8 163.2,395.0 163.3,392.6 163.4,394.3 163.5,392.2 163.6,392.2 163.7,391.8 163.8,393.0 163.9,391.5 164.0,392.0 164.1,390.7 164.2,392.1 164.3,392.2 164.4,390.6 164.5,391.2 164.6,390.1 164.7,390.9 164.8,389.5 164.9,388.6 165.0,390.7 165.1,390.0 165.2,389.7 165.3,390.4 165.4,390.0 165.5,391.5 165.6,391.1 165.7,393.6 165.8,393.2 165.9,391.2 166.0,391.5 166.1,392.6 166.2,391.3 166.3,393.2 166.4,393.4 166.5,392.6 166.6,392.9 166.7,394.1 166.8,395.2 166.9,395.3 167.0,393.7 167.1,394.6 167.2,392.8 167.3,394.1 167.4,392.6 167.5,394.5 167.6,392.3 167.7,392.6 167.8,393.7 167.9,394.3 168.0,392.1 168.1,393.1 168.2,393.9 168.3,394.0 168.4,392.8 168.5,393.8 168.6,393.4 168.7,395.3 168.8,394.4 168.9,392.2 169.0,391.2 169.1,393.8 169.2,395.1 169.3,393.9 169.4,394.7 169.5,393.2 169.6,392.2 169.7,394.6 169.8,393.9 169.9,394.5 170.0,392.2 170.1,394.0 170.2,393.0 170.3,394.7 170.4,393.1 170.5,393.1 170.6,393.1 170.7,395.2 170.8,393.8 170.9,392.9 171.0,392.6 171.1,392.6 171.2,395.4 171.3,391.7 171.4,392.8 171.5,394.5 171.6,395.1 171.7,393.6 171.8,394.7 171.9,394.6 172.0,394.9 172.1,393.8 172.2,395.6 172.3,394.0 172.4,395.5 172.5,392.5 172.6,394.9 172.7,392.4 172.8,392.1 172.9,394.4 173.0,392.9 173.1,394.3 173.2,392.6 173.3,395.6 173.4,393.8 173.5,392.5 173.6,394.0 173.7,394.8 173.8,392.9 173.9,394.4 174.0,396.1 174.1,394.8 174.2,393.8 174.3,393.2 174.4,394.5 174.5,392.1 174.6,391.2 174.7,393.1 174.8,392.6 174.9,395.8 175.0,394.0 175.1,392.7 175.2,392.5 175.3,394.4 175.4,392.9 175.5,393.2 175.6,393.7 175.7,393.9 175.8,393.9 175.9,393.9 176.0,395.3 176.1,395.7 176.2,392.0 176.3,396.3 176.4,394.0 176.5,395.2 176.6,393.0 176.7,394.2 176.8,394.0 176.9,393.9 177.0,394.8 177.1,394.5 177.2,392.7 177.3,393.7 177.4,394.6 177.5,394.6 177.6,393.4 177.7,393.5 177.8,393.6 177.9,392.6 178.0,392.3 178.1,395.5 178.2,393.3 178.3,393.9 178.4,392.9 178.5,395.2 178.6,395.7 178.7,393.5 178.8,394.3 178.9,392.9 179.0,395.6 179.1,394.7 179.2,392.8 179.3,395.0 179.4,394.1 179.5,394.1 179.6,394.0 179.7,392.9 179.8,393.0 179.9,394.2 180.0,393.5 180.1,392.5 180.2,395.6 180.3,393.2 180.4,392.8 180.5,392.6 180.6,394.0 180.7,394.2 180.8,393.4 180.9,393.8 181.0,391.4 181.1,392.3 181.2,391.9 181.3,391.8 181.4,391.4 181.5,388.7 181.6,389.9 181.7,386.6 181.8,385.1 181.9,382.9 182.0,380.5 182.1,378.2 182.2,376.0 182.3,376.0 182.4,376.8 182.5,377.9 182.6,379.9 182.7,381.8 182.8,385.4 182.9,387.2 183.0,388.2 183.1,389.9 183.2,390.9 183.3,390.8 183.4,392.0 183.5,392.8 183.6,393.3 183.7,394.2 183.8,393.1 183.9,392.7 184.0,393.7 184.1,392.7 184.2,392.1 184.3,394.6 184.4,393.0 184.5,393.6 184.6,394.2 184.7,392.3 184.8,394.2 184.9,394.0 185.0,393.5 185.1,394.0 185.2,392.8 185.3,391.2 185.4,393.3 185.5,392.6 185.6,394.4 185.7,393.7 185.8,392.8 185.9,393.3 186.0,394.4 186.1,394.0 186.2,392.9 186.3,392.5 186.4,391.3 186.5,390.7 186.6,390.3 186.7,388.8 186.8,388.0 186.9,386.4 187.0,385.5 187.1,386.0 187.2,386.1 187.3,387.6 187.4,388.5 187.5,388.3 187.6,388.9 187.7,391.4 187.8,391.9 187.9,391.0 188.0,393.5 188.1,393.1 188.2,394.4 188.3,393.6 188.4,394.3 188.5,393.8 188.6,392.5 188.7,393.3 188.8,392.8 188.9,394.5 189.0,392.5 189.1,392.0 189.2,394.4 189.3,394.9 189.4,395.2 189.5,394.9 189.6,392.0 189.7,392.9 189.8,393.1 189.9,393.7 190.0,391.3 190.1,393.6 190.2,394.0 190.3,392.6 190.4,393.8 190.5,394.9 190.6,393.6 190.7,394.7 190.8,394.6 190.9,394.0 191.0,393.9 191.1,393.1 191.2,394.8 191.3,392.9 191.4,392.7 191.5,394.1 191.6,392.5 191.7,393.6 191.8,394.2 191.9,393.1 192.0,392.9 192.1,393.3 192.2,392.7 192.3,390.3 192.4,389.8 192.5,390.4 192.6,388.4 192.7,385.6 192.8,384.2 192.9,382.8 193.0,380.7 193.1,379.9 193.2,379.3 193.3,379.9 193.4,380.7 193.5,383.0 193.6,385.5 193.7,386.2 193.8,388.9 193.9,390.2 194.0,391.1 194.1,391.5 194.2,391.1 194.3,391.7 194.4,393.5 194.5,393.9 194.6,394.3 194.7,394.2 194.8,394.2 194.9,392.9 195.0,392.2 195.1,393.7 195.2,394.0 195.3,393.5 195.4,391.8 195.5,392.8 195.6,391.7 195.7,393.3 195.8,392.0 195.9,392.6 196.0,392.8 196.1,392.2 196.2,392.6 196.3,389.9 196.4,388.3 196.5,388.7 196.6,387.2 196.7,385.3 196.8,382.9 196.9,381.2 197.0,379.8 197.1,379.3 197.2,379.6 197.3,381.2 197.4,382.6 197.5,385.4 197.6,385.9 197.7,388.0 197.8,390.3 197.9,390.3 198.0,390.7 198.1,391.0 198.2,391.9 198.3,394.2 198.4,393.4 198.5,393.6 198.6,392.7 198.7,394.2 198.8,393.5 198.9,392.5 199.0,393.0 199.1,393.7 199.2,394.7 199.3,393.5 199.4,394.1 199.5,395.7 199.6,392.8 199.7,392.3 199.8,394.7 199.9,394.1 200.0,393.6 200.1,394.0 200.2,393.3 200.3,394.3 200.4,393.3 200.5,394.6 200.6,392.4 200.7,392.8 200.8,393.9 200.9,393.2 201.0,394.5 201.1,393.7 201.2,393.2 201.3,394.0 201.4,393.2 201.5,392.1 201.6,392.5 201.7,392.9 201.8,393.3 201.9,393.9 202.0,394.8 202.1,394.4 202.2,395.7 202.3,395.2 202.4,393.6 202.5,395.6 202.6,395.1 202.7,393.3 202.8,394.1 202.9,395.0 203.0,394.1 203.1,394.9 203.2,394.2 203.3,394.6 203.4,393.4 203.5,394.2 203.6,393.4 203.7,394.5 203.8,391.9 203.9,394.2 204.0,395.2 204.1,394.4 204.2,393.8 204.3,394.4 204.4,392.8 204.5,392.9 204.6,393.4 204.7,393.6 204.8,394.8 204.9,392.8 205.0,394.8 205.1,392.0 205.2,392.9 205.3,393.7 205.4,395.0 205.5,393.0 205.6,391.4 205.7,394.1 205.8,393.6 205.9,392.5 206.0,392.5 206.1,392.9 206.2,393.7 206.3,394.3 206.4,392.0 206.5,395.9 206.6,393.5 206.7,393.1 206.8,394.1 206.9,393.5 207.0,395.6 207.1,394.3 207.2,392.8 207.3,392.6 207.4,392.2 207.5,392.0 207.6,392.3 207.7,390.6 207.8,391.2 207.9,388.8 208.0,387.3 208.1,386.2 208.2,383.3 208.3,382.2 208.4,381.6 208.5,381.0 208.6,381.4 208.7,382.7 208.8,383.8 208.9,385.7 209.0,386.8 209.1,387.8 209.2,390.9 209.3,390.4 209.4,391.2 209.5,393.5 209.6,393.6 209.7,392.4 209.8,392.6 209.9,393.1 210.0,392.4 210.1,393.9 210.2,393.6 210.3,393.6 210.4,394.3 210.5,394.3 210.6,395.5 210.7,395.1 210.8,391.7 210.9,394.5 211.0,392.3 211.1,392.0 211.2,394.2 211.3,392.7 211.4,393.1 211.5,394.5 211.6,392.7 211.7,392.5 211.8,393.7 211.9,394.6 212.0,393.8 212.1,391.7 212.2,392.6 212.3,393.1 212.4,395.1 212.5,394.0 212.6,393.9 212.7,394.2 212.8,392.7 212.9,393.4 213.0,393.3 213.1,391.9 213.2,392.7 213.3,393.1 213.4,391.5 213.5,393.0 213.6,392.7 213.7,392.6 213.8,390.9 213.9,391.2 214.0,391.5 214.1,390.4 214.2,388.6 214.3,388.2 214.4,387.5 214.5,385.4 214.6,384.0 214.7,382.7 214.8,379.9 214.9,377.7 215.0,375.2 215.1,372.9 215.2,371.2 215.3,368.9 215.4,367.2 215.5,366.2 215.6,366.0 215.7,366.5 215.8,367.2 215.9,369.1 216.0,370.8 216.1,373.2 216.2,375.5 216.3,377.9 216.4,379.8 216.5,374.4 216.6,366.3 216.7,355.5 216.8,343.3 216.9,329.6 217.0,316.0 217.1,304.0 217.2,295.7 217.3,292.7 217.4,295.7 217.5,304.0 217.6,315.9 217.7,329.6 217.8,343.1 217.9,355.7 218.0,365.8 218.1,374.6 218.2,371.6 218.3,363.3 218.4,353.2 218.5,342.3 218.6,331.4 218.7,321.9 218.8,315.1 218.9,312.8 219.0,315.2 219.1,321.8 219.2,331.4 219.3,342.3 219.4,353.3 219.5,363.2 219.6,371.7 219.7,378.3 219.8,383.1 219.9,386.1 220.0,388.5 220.1,390.5 220.2,392.0 220.3,391.6 220.4,393.2 220.5,392.3 220.6,391.5 220.7,393.2 220.8,391.8 220.9,393.2 221.0,393.9 221.1,392.7 221.2,393.0 221.3,395.4 221.4,393.4 221.5,393.5 221.6,394.0 221.7,393.2 221.8,393.2 221.9,393.7 222.0,391.0 222.1,394.8 222.2,392.3 222.3,392.3 222.4,394.0 222.5,393.5 222.6,392.2 222.7,393.7 222.8,392.2 222.9,392.7 223.0,391.8 223.1,392.4 223.2,393.5 223.3,393.1 223.4,393.0 223.5,393.3 223.6,392.0 223.7,391.1 223.8,390.8 223.9,391.3 224.0,389.4 224.1,388.6 224.2,387.4 224.3,386.6 224.4,385.9 224.5,385.2 224.6,385.0 224.7,384.9 224.8,385.4 224.9,386.7 225.0,387.8 225.1,388.9 225.2,389.4 225.3,389.7 225.4,391.4 225.5,392.1 225.6,390.8 225.7,392.6 225.8,391.9 225.9,392.0 226.0,389.3 226.1,388.2 226.2,388.0 226.3,385.4 226.4,384.2 226.5,382.4 226.6,380.9 226.7,379.2 226.8,378.8 226.9,378.5 227.0,379.0 227.1,379.9 227.2,381.1 227.3,383.3 227.4,384.7 227.5,386.6 227.6,386.9 227.7,389.1 227.8,389.3 227.9,389.7 228.0,388.4 228.1,386.3 228.2,385.2 228.3,383.7 228.4,381.5 228.5,379.7 228.6,377.7 228.7,376.7 228.8,376.5 228.9,376.9 229.0,378.3 229.1,379.7 229.2,381.4 229.3,382.9 229.4,385.3 229.5,386.7 229.6,387.3 229.7,388.5 229.8,390.2 229.9,390.6 230.0,393.1 230.1,392.2 230.2,391.6 230.3,392.2 230.4,393.7 230.5,391.2 230.6,392.0 230.7,391.0 230.8,390.8 230.9,389.1 231.0,387.2 231.1,386.1 231.2,384.2 231.3,382.8 231.4,380.8 231.5,379.9 231.6,378.3 231.7,378.0 231.8,378.2 231.9,379.4 232.0,380.8 232.1,382.5 232.2,384.6 232.3,385.7 232.4,387.0 232.5,389.4 232.6,389.7 232.7,390.3 232.8,392.3 232.9,392.6 233.0,390.4 233.1,391.7 233.2,392.0 233.3,391.3 233.4,389.6 233.5,389.7 233.6,387.3 233.7,386.2 233.8,385.0 233.9,383.7 234.0,382.8 234.1,382.1 234.2,381.5 234.3,382.2 234.4,382.3 234.5,383.6 234.6,385.7 234.7,386.4 234.8,388.2 234.9,388.6 235.0,389.7 235.1,390.7 235.2,391.6 235.3,391.7 235.4,392.4 235.5,393.3 235.6,394.0 235.7,393.2 235.8,393.8 235.9,394.2 236.0,392.3 236.1,391.8 236.2,395.1 236.3,394.8 236.4,393.6 236.5,393.9 236.6,392.6 236.7,392.1 236.8,393.9 236.9,392.0 237.0,394.6 237.1,392.9 237.2,394.0 237.3,395.7 237.4,395.7 237.5,393.4 237.6,394.8 237.7,392.6 237.8,393.1 237.9,394.1 238.0,395.2 238.1,393.1 238.2,394.3 238.3,393.8 238.4,392.4 238.5,393.6 238.6,395.4 238.7,393.6 238.8,394.3 238.9,394.6 239.0,393.0 239.1,395.1 239.2,395.4 239.3,395.5 239.4,395.2 239.5,393.3 239.6,393.1 239.7,392.9 239.8,392.8 239.9,392.9 240.0,394.9 240.1,395.4 240.2,393.1 240.3,394.7 240.4,392.4 240.5,393.4 240.6,392.7 240.7,392.0 240.8,393.8 240.9,393.9 241.0,393.3 241.1,393.2 241.2,392.7 241.3,393.6 241.4,393.1 241.5,394.0 241.6,392.5 241.7,394.0 241.8,394.3 241.9,395.1 242.0,394.9 242.1,394.0 242.2,393.0 242.3,391.8 242.4,393.8 242.5,395.3 242.6,395.6 242.7,391.2 242.8,392.9 242.9,393.4 243.0,392.6 243.1,394.0 243.2,393.8 243.3,393.2 243.4,393.7 243.5,392.0 243.6,392.7 243.7,392.8 243.8,394.7 243.9,392.0 244.0,393.5 244.1,394.6 244.2,393.7 244.3,394.6 244.4,393.0 244.5,394.2 244.6,394.7 244.7,396.2 244.8,394.6 244.9,395.3 245.0,393.8 245.1,393.9 245.2,395.5 245.3,394.4 245.4,395.3 245.5,394.5 245.6,396.1 245.7,396.3 245.8,392.8 245.9,395.8 246.0,394.2 246.1,394.3 246.2,393.6 246.3,394.5 246.4,392.6 246.5,393.0 246.6,392.9 246.7,394.1 246.8,394.8 246.9,394.6 247.0,394.2 247.1,393.1 247.2,391.8 247.3,394.2 247.4,393.9 247.5,394.1 247.6,395.3 247.7,393.6 247.8,393.5 247.9,391.2 248.0,394.4 248.1,393.7 248.2,392.9 248.3,394.2 248.4,392.6 248.5,393.2 248.6,395.9 248.7,394.6 248.8,394.7 248.9,394.5 249.0,394.4 249.1,393.9 249.2,396.2 249.3,393.6 249.4,394.5 249.5,393.5 249.6,393.3 249.7,391.2 249.8,391.6 249.9,395.4 250.0,395.3 250.1,393.2 250.2,393.7 250.3,394.4 250.4,392.6 250.5,395.6 250.6,392.6 250.7,392.9 250.8,391.2 250.9,395.3 251.0,393.7 251.1,395.4 251.2,392.6 251.3,394.0 251.4,393.7 251.5,393.9 251.6,395.8 251.7,396.0 251.8,395.1 251.9,393.2 252.0,394.6 252.1,395.0 252.2,394.2 252.3,394.2 252.4,394.1 252.5,392.6 252.6,393.8 252.7,395.3 252.8,392.5 252.9,393.6 253.0,394.4 253.1,392.1 253.2,393.4 253.3,391.7 253.4,392.9 253.5,392.0 253.6,392.5 253.7,393.0 253.8,393.2 253.9,393.2 254.0,391.1 254.1,395.0 254.2,393.1 254.3,392.2 254.4,392.7 254.5,393.6 254.6,392.2 254.7,392.8 254.8,392.7 254.9,393.6 255.0,392.3 255.1,393.4 255.2,393.3 255.3,392.7 255.4,393.9 255.5,392.7 255.6,391.5 255.7,392.7 255.8,392.4 255.9,392.1 256.0,392.1 256.1,393.5 256.2,391.7 256.3,391.6 256.4,390.8 256.5,391.6 256.6,390.3 256.7,389.5 256.8,388.9 256.9,389.6 257.0,389.3 257.1,387.6 257.2,387.7 257.3,388.0 257.4,387.7 257.5,386.2 257.6,386.2 257.7,386.3 257.8,385.3 257.9,385.0 258.0,384.6 258.1,384.0 258.2,384.3 258.3,384.3 258.4,383.5 258.5,384.0 258.6,384.4 258.7,384.2 258.8,384.7 258.9,384.3 259.0,385.4 259.1,384.8 259.2,386.3 259.3,385.7 259.4,386.0 259.5,386.4 259.6,387.0 259.7,387.4 259.8,387.7 259.9,388.2 260.0,388.2 260.1,387.8 260.2,386.7 260.3,386.9 260.4,385.4 260.5,384.9 260.6,384.4 260.7,384.5 260.8,383.3 260.9,382.9 261.0,383.4 261.1,383.2 261.2,382.8 261.3,381.7 261.4,382.0 261.5,382.0 261.6,382.1 261.7,381.6 261.8,382.3 261.9,382.1 262.0,382.6 262.1,384.2 262.2,384.1 262.3,383.8 262.4,384.2 262.5,385.5 262.6,385.6 262.7,386.6 262.8,386.6 262.9,387.3 263.0,388.0 263.1,387.8 263.2,387.8 263.3,388.6 263.4,388.5 263.5,388.3 263.6,387.9 263.7,387.4 263.8,387.2 263.9,386.1 264.0,386.7 264.1,386.6 264.2,385.6 264.3,385.3 264.4,385.5 264.5,385.0 264.6,385.1 264.7,385.1 264.8,385.1 264.9,385.2 265.0,386.4 265.1,387.1 265.2,386.5 265.3,387.4 265.4,388.1 265.5,388.2 265.6,388.5 265.7,389.2 265.8,388.6 265.9,390.2 266.0,390.4 266.1,392.5 266.2,392.0 266.3,391.3 266.4,391.8 266.5,393.5 266.6,393.6 266.7,392.6 266.8,392.5 266.9,391.4 267.0,392.6 267.1,392.8 267.2,392.3 267.3,394.8 267.4,391.3 267.5,393.1 267.6,393.7 267.7,393.7 267.8,395.1 267.9,391.9 268.0,392.6 268.1,393.5 268.2,393.6 268.3,393.1 268.4,392.7 268.5,394.6 268.6,392.4 268.7,392.9 268.8,395.0 268.9,395.4 269.0,394.5 269.1,392.7 269.2,392.7 269.3,392.6 269.4,392.4 269.5,393.1 269.6,394.9 269.7,393.8 269.8,392.8 269.9,392.8 270.0,392.4 270.1,394.9 270.2,391.5 270.3,393.9 270.4,392.1 270.5,392.5 270.6,392.0 270.7,394.7 270.8,393.6 270.9,396.2 271.0,392.5 271.1,392.5 271.2,394.3 271.3,394.3 271.4,393.4 271.5,391.5 271.6,395.2 271.7,394.3 271.8,394.1 271.9,393.0 272.0,394.4 272.1,393.1 272.2,393.7 272.3,393.5 272.4,395.0 272.5,393.2 272.6,393.3 272.7,394.9 272.8,393.9 272.9,393.6 273.0,393.4 273.1,394.7 273.2,393.0 273.3,394.2 273.4,395.9 273.5,394.1 273.6,392.8 273.7,392.4 273.8,393.8 273.9,392.3 274.0,391.9 274.1,392.8 274.2,392.5 274.3,394.6 274.4,392.1 274.5,395.4 274.6,392.9 274.7,393.8 274.8,394.4 274.9,393.9 275.0,394.5 275.1,392.6 275.2,391.2 275.3,393.5 275.4,391.8 275.5,393.0 275.6,394.7 275.7,393.5 275.8,393.0 275.9,392.4 276.0,393.3 276.1,393.5 276.2,391.9 276.3,394.0 276.4,392.5 276.5,393.9 276.6,393.2 276.7,394.7 276.8,394.6 276.9,393.7 277.0,393.5 277.1,394.1 277.2,395.2 277.3,394.8 277.4,393.9 277.5,394.0 277.6,395.4 277.7,391.9 277.8,394.3 277.9,392.7 278.0,395.2 278.1,393.2 278.2,393.6 278.3,392.5 278.4,393.7 278.5,394.6 278.6,395.6 278.7,392.3 278.8,393.3 278.9,396.3 279.0,394.8 279.1,393.7 279.2,394.3 279.3,391.3 279.4,395.5 279.5,393.9 279.6,392.2 279.7,395.0 279.8,393.1 279.9,392.6 280.0,394.3 280.1,394.2 280.2,393.3 280.3,393.7 280.4,392.3 280.5,392.2 280.6,394.8 280.7,395.2 280.8,394.2 280.9,394.2 281.0,393.3 281.1,393.6 281.2,392.7 281.3,395.7 281.4,393.1 281.5,394.2 281.6,393.8 281.7,392.2 281.8,395.9 281.9,393.3 282.0,392.9 282.1,393.9 282.2,392.8 282.3,393.8 282.4,392.7 282.5,394.3 282.6,393.8 282.7,392.2 282.8,394.8 282.9,393.9 283.0,392.5 283.1,394.1 283.2,394.2 283.3,395.7 283.4,392.7 283.5,394.6 283.6,393.5 283.7,394.3 283.8,393.3 283.9,393.5 284.0,394.0 284.1,392.2 284.2,391.3 284.3,393.3 284.4,392.7 284.5,393.0 284.6,393.1 284.7,392.0 284.8,392.5 284.9,390.9 285.0,390.2 285.1,389.9 285.2,389.0 285.3,388.2 285.4,388.0 285.5,387.8 285.6,388.4 285.7,389.5 285.8,390.7 285.9,390.6 286.0,392.2 286.1,393.8 286.2,394.5 286.3,392.9 286.4,394.2 286.5,393.9 286.6,394.2 286.7,394.4 286.8,394.1 286.9,394.5 287.0,393.8 287.1,393.4 287.2,394.0 287.3,394.2 287.4,395.0 287.5,394.1 287.6,394.5 287.7,395.3 287.8,392.8 287.9,393.5 288.0,394.4 288.1,393.8 288.2,392.7 288.3,394.9 288.4,393.7 288.5,392.7 288.6,395.9 288.7,392.4 288.8,393.8 288.9,393.1 289.0,393.9 289.1,394.4 289.2,392.9 289.3,393.7 289.4,393.7 289.5,392.7 289.6,395.1 289.7,394.0 289.8,393.5 289.9,393.1 290.0,393.5 290.1,394.0 290.2,393.3 290.3,395.2 290.4,391.3 290.5,391.5 290.6,393.5 290.7,391.8 290.8,393.8 290.9,393.1 291.0,394.5 291.1,394.3 291.2,395.3 291.3,394.8 291.4,395.2 291.5,394.4 291.6,395.0 291.7,394.4 291.8,393.2 291.9,392.5 292.0,392.5 292.1,394.4 292.2,391.3 292.3,394.0 292.4,393.0 292.5,394.6 292.6,394.1 292.7,393.0 292.8,393.9 292.9,391.3 293.0,394.1 293.1,394.4 293.2,391.8 293.3,394.8 293.4,393.7 293.5,394.0 293.6,392.3 293.7,394.5 293.8,394.5 293.9,393.8 294.0,392.8 294.1,394.7 294.2,395.2 294.3,394.3 294.4,394.9 294.5,393.2 294.6,394.0 294.7,394.3 294.8,394.0 294.9,396.3 295.0,394.3 295.1,393.2 295.2,394.8 295.3,392.7 295.4,394.3 295.5,394.7 295.6,393.3 295.7,393.5 295.8,392.8 295.9,394.0 296.0,393.1 296.1,395.8 296.2,394.6 296.3,393.6 296.4,392.3 296.5,396.1 296.6,395.3 296.7,394.4 296.8,394.1 296.9,394.1 297.0,393.4 297.1,395.9 297.2,394.1 297.3,392.3 297.4,393.2 297.5,391.3 297.6,394.6 297.7,394.7 297.8,395.8 297.9,396.2 298.0,393.0 298.1,394.4 298.2,395.0 298.3,394.7 298.4,393.3 298.5,394.7 298.6,394.4 298.7,395.3 298.8,393.8 298.9,393.6 299.0,393.3 299.1,393.4 299.2,393.0 299.3,393.4 299.4,394.3 299.5,394.3 299.6,395.2 299.7,395.0 299.8,394.4 299.9,392.5 300.0,394.4 300.1,395.0 300.2,392.3 300.3,392.5 300.4,392.7 300.5,392.6 300.6,393.3 300.7,392.6 300.8,394.0 300.9,392.3 301.0,393.4 301.1,392.9 301.2,392.4 301.3,394.2 301.4,393.1 301.5,393.3 301.6,392.1 301.7,392.5 301.8,391.7 301.9,390.2 302.0,388.3 302.1,388.5 302.2,387.2 302.3,385.9 302.4,385.1 302.5,384.7 302.6,385.1 302.7,385.4 302.8,386.9 302.9,388.3 303.0,388.9 303.1,389.7 303.2,392.5 303.3,392.4 303.4,392.2 303.5,392.3 303.6,390.8 303.7,391.8 303.8,393.1 303.9,394.7 304.0,391.4 304.1,392.8 304.2,395.6 304.3,394.3 304.4,394.1 304.5,394.9 304.6,393.5 304.7,393.5 304.8,394.5 304.9,394.6 305.0,392.6 305.1,395.4 305.2,391.9 305.3,393.0 305.4,396.2 305.5,393.2 305.6,394.5 305.7,392.7 305.8,393.4 305.9,393.0 306.0,393.4 306.1,394.5 306.2,395.7 306.3,394.8 306.4,395.5 306.5,393.3 306.6,395.4 306.7,394.4 306.8,395.3 306.9,393.4 307.0,393.6 307.1,395.3 307.2,394.5 307.3,393.9 307.4,393.1 307.5,393.7 307.6,394.4 307.7,394.6 307.8,393.2 307.9,393.5 308.0,394.3 308.1,392.6 308.2,394.8 308.3,393.8 308.4,393.7 308.5,391.3 308.6,392.1 308.7,392.7 308.8,393.2 308.9,392.6 309.0,394.2 309.1,393.9 309.2,393.5 309.3,391.6 309.4,395.3 309.5,393.5 309.6,394.4 309.7,393.0 309.8,393.8 309.9,394.5 310.0,394.0 310.1,394.8 310.2,393.6 310.3,396.0 310.4,391.7 310.5,393.2 310.6,394.8 310.7,393.5 310.8,393.3 310.9,391.8 311.0,395.1 311.1,391.7 311.2,394.3 311.3,394.0 311.4,394.7 311.5,395.4 311.6,393.0 311.7,392.9 311.8,393.4 311.9,391.9 312.0,394.6 312.1,393.3 312.2,393.9 312.3,392.5 312.4,393.7 312.5,393.0 312.6,393.6 312.7,392.5 312.8,394.8 312.9,393.0 313.0,391.2 313.1,394.4 313.2,393.3 313.3,392.7 313.4,396.2 313.5,393.6 313.6,392.2 313.7,393.0 313.8,394.0 313.9,393.3 314.0,394.9 314.1,394.7 314.2,392.7 314.3,393.5 314.4,394.0 314.5,392.9 314.6,392.7 314.7,393.8 314.8,393.0 314.9,391.0 315.0,391.3 315.1,390.8 315.2,390.4 315.3,389.3 315.4,389.9 315.5,388.1 315.6,388.5 315.7,388.8 315.8,387.8 315.9,389.1 316.0,390.9 316.1,390.2 316.2,391.1 316.3,393.1 316.4,393.0 316.5,393.0 316.6,393.4 316.7,392.6 316.8,393.7 316.9,393.3 317.0,396.0 317.1,394.1 317.2,393.2 317.3,393.5 317.4,393.7 317.5,392.2 317.6,392.8 317.7,395.3 317.8,392.2 317.9,393.0 318.0,394.8 318.1,395.3 318.2,392.6 318.3,395.3 318.4,393.3 318.5,395.5 318.6,394.3 318.7,393.4 318.8,394.5 318.9,394.3 319.0,392.9 319.1,396.1 319.2,393.4 319.3,395.0 319.4,393.2 319.5,391.8 319.6,392.5 319.7,393.6 319.8,394.5 319.9,395.7 320.0,393.8 320.1,393.5 320.2,392.4 320.3,393.7 320.4,394.1 320.5,391.3 320.6,395.2 320.7,395.0 320.8,396.3 320.9,392.8 321.0,393.8 321.1,393.8 321.2,392.3 321.3,392.8 321.4,392.7 321.5,394.3 321.6,394.2 321.7,395.2 321.8,393.3 321.9,392.2 322.0,394.2 322.1,394.2 322.2,394.5 322.3,395.1 322.4,393.1 322.5,394.6 322.6,392.7 322.7,393.9 322.8,394.5 322.9,393.6 323.0,394.0 323.1,392.2 323.2,393.1 323.3,393.9 323.4,392.4 323.5,392.8 323.6,396.3 323.7,394.0 323.8,392.9 323.9,392.6 324.0,395.3 324.1,391.3 324.2,393.3 324.3,394.4 324.4,393.1 324.5,394.3 324.6,392.5 324.7,393.7 324.8,393.7 324.9,393.7 325.0,393.8 325.1,393.7 325.2,394.9 325.3,393.4 325.4,393.0 325.5,393.3 325.6,393.3 325.7,392.0 325.8,391.6 325.9,392.2 326.0,394.0 326.1,392.9 326.2,393.2 326.3,396.3 326.4,394.9 326.5,393.4 326.6,393.0 326.7,395.2 326.8,392.8 326.9,395.0 327.0,394.3 327.1,395.2 327.2,392.9 327.3,394.6 327.4,391.7 327.5,393.5 327.6,394.8 327.7,394.4 327.8,391.6 327.9,394.4 328.0,394.1 328.1,393.6 328.2,392.8 328.3,393.3 328.4,393.0 328.5,394.7 328.6,394.2 328.7,394.8 328.8,394.4 328.9,392.2 329.0,393.8 329.1,396.0 329.2,392.4 329.3,394.0 329.4,392.8 329.5,392.7 329.6,393.9 329.7,394.7 329.8,394.5 329.9,394.2 330.0,394.7 330.1,391.8 330.2,394.5 330.3,394.1 330.4,393.4 330.5,393.6 330.6,392.7 330.7,394.9 330.8,392.8 330.9,392.0 331.0,393.6 331.1,393.0 331.2,393.6 331.3,395.3 331.4,393.5 331.5,393.8 331.6,396.1 331.7,392.1 331.8,394.0 331.9,394.9 332.0,395.3 332.1,396.1 332.2,392.9 332.3,394.3 332.4,393.5 332.5,393.1 332.6,392.9 332.7,392.0 332.8,394.0 332.9,394.5 333.0,392.5 333.1,394.5 333.2,393.0 333.3,392.5 333.4,391.3 333.5,394.9 333.6,394.4 333.7,393.3 333.8,393.2 333.9,392.2 334.0,394.2 334.1,393.6 334.2,394.3 334.3,393.9 334.4,392.1 334.5,391.9 334.6,394.1 334.7,391.8 334.8,394.0 334.9,394.7 335.0,392.3 335.1,394.4 335.2,393.7 335.3,394.3 335.4,393.0 335.5,393.7 335.6,394.2 335.7,395.7 335.8,394.5 335.9,394.3 336.0,392.3 336.1,394.1 336.2,393.0 336.3,393.6 336.4,394.0 336.5,394.8 336.6,394.4 336.7,393.9 336.8,393.7 336.9,395.2 337.0,392.8 337.1,393.8 337.2,395.3 337.3,393.5 337.4,394.7 337.5,394.7 337.6,395.9 337.7,395.0 337.8,391.9 337.9,393.7 338.0,394.1 338.1,394.7 338.2,394.2 338.3,395.8 338.4,395.0 338.5,392.4 338.6,393.0 338.7,391.4 338.8,395.6 338.9,393.6 339.0,393.5 339.1,391.9 339.2,393.2 339.3,394.1 339.4,393.2 339.5,393.2 339.6,393.0 339.7,395.8 339.8,393.0 339.9,392.0 340.0,393.0 340.1,393.2 340.2,393.5 340.3,393.3 340.4,392.4 340.5,393.4 340.6,394.0 340.7,392.0 340.8,395.8 340.9,395.5 341.0,391.6 341.1,393.2 341.2,394.7 341.3,395.1 341.4,395.6 341.5,391.5 341.6,392.3 341.7,393.0 341.8,394.2 341.9,392.4 342.0,394.1 342.1,394.1 342.2,394.4 342.3,392.2 342.4,393.8 342.5,393.7 342.6,393.1 342.7,395.1 342.8,393.3 342.9,395.2 343.0,393.0 343.1,395.5 343.2,395.5 343.3,392.7 343.4,394.0 343.5,394.0 343.6,392.5 343.7,394.5 343.8,394.3 343.9,392.7 344.0,393.8 344.1,394.6 344.2,393.5 344.3,392.9 344.4,395.5 344.5,392.6 344.6,394.0 344.7,394.9 344.8,394.5 344.9,391.6 345.0,393.3 345.1,393.5 345.2,393.4 345.3,394.4 345.4,394.3 345.5,393.8 345.6,393.9 345.7,394.8 345.8,395.0 345.9,391.6 346.0,396.0 346.1,393.0 346.2,394.5 346.3,391.8 346.4,393.0 346.5,392.2 346.6,394.7 346.7,394.4 346.8,393.4 346.9,393.1 347.0,393.5 347.1,392.0 347.2,392.1 347.3,391.6 347.4,392.4 347.5,391.2 347.6,389.6 347.7,390.0 347.8,389.4 347.9,389.4 348.0,388.5 348.1,388.9 348.2,390.3 348.3,389.6 348.4,390.2 348.5,391.5 348.6,391.3 348.7,392.3 348.8,392.2 348.9,392.2 349.0,394.0 349.1,392.9 349.2,392.4 349.3,393.2 349.4,393.4 349.5,393.9 349.6,394.6 349.7,395.5 349.8,392.3 349.9,393.4 350.0,391.7 350.1,393.9 350.2,394.2 350.3,393.0 350.4,392.7 350.5,392.6 350.6,392.0 350.7,394.4 350.8,395.8 350.9,392.4 351.0,395.5 351.1,393.6 351.2,392.2 351.3,394.3 351.4,394.5 351.5,394.1 351.6,393.4 351.7,395.5 351.8,393.4 351.9,394.4 352.0,394.4 352.1,392.7 352.2,391.6 352.3,391.8 352.4,393.2 352.5,394.1 352.6,391.7 352.7,392.9 352.8,395.4 352.9,391.7 353.0,394.2 353.1,394.1 353.2,394.6 353.3,392.0 353.4,394.1 353.5,392.1 353.6,395.2 353.7,392.7 353.8,394.1 353.9,392.8 354.0,393.8 354.1,392.0 354.2,394.0 354.3,394.3 354.4,393.7 354.5,395.5 354.6,394.1 354.7,394.6 354.8,394.2 354.9,395.8 355.0,392.9 355.1,393.4 355.2,393.4 355.3,394.4 355.4,394.0 355.5,394.6 355.6,394.0 355.7,393.1 355.8,393.6 355.9,394.2 356.0,391.3 356.1,395.2 356.2,393.1 356.3,393.3 356.4,394.0 356.5,393.4 356.6,392.1 356.7,393.5 356.8,395.3 356.9,394.9 357.0,395.1 357.1,393.1 357.2,393.5 357.3,394.9 357.4,395.4 357.5,393.8 357.6,392.7 357.7,391.6 357.8,395.3 357.9,392.0 358.0,394.2 358.1,394.8 358.2,396.3 358.3,394.0 358.4,393.6 358.5,394.3 358.6,394.3 358.7,395.3 358.8,394.6 358.9,392.9 359.0,391.4 359.1,394.1 359.2,393.0 359.3,395.4 359.4,392.3 359.5,394.0 359.6,393.0 359.7,392.8 359.8,395.7 359.9,394.0 360.0,393.6 360.1,394.6 360.2,392.9 360.3,393.4 360.4,393.1 360.5,396.0 360.6,394.2 360.7,394.5 360.8,395.1 360.9,393.6 361.0,393.6 361.1,391.9 361.2,394.3 361.3,394.1 361.4,393.3 361.5,395.2 361.6,391.8 361.7,394.3 361.8,392.2 361.9,392.5 362.0,393.5 362.1,395.3 362.2,392.4 362.3,392.6 362.4,392.4 362.5,396.1 362.6,394.4 362.7,394.2 362.8,396.1 362.9,394.1 363.0,391.4 363.1,393.2 363.2,392.4 363.3,396.1 363.4,392.2 363.5,394.1 363.6,393.2 363.7,393.3 363.8,393.8 363.9,393.6 364.0,393.0 364.1,392.4 364.2,393.0 364.3,392.6 364.4,392.7 364.5,393.9 364.6,393.6 364.7,394.3 364.8,393.5 364.9,395.9 365.0,392.9 365.1,392.6 365.2,394.9 365.3,392.9 365.4,393.9 365.5,394.8 365.6,393.6 365.7,393.3 365.8,394.8 365.9,394.1 366.0,393.1 366.1,392.3 366.2,393.3 366.3,391.8 366.4,392.7 366.5,392.4 366.6,394.0 366.7,394.5 366.8,392.9 366.9,393.1 367.0,392.3 367.1,392.0 367.2,392.9 367.3,393.8 367.4,393.5 367.5,393.3 367.6,392.1 367.7,390.1 367.8,392.1 367.9,391.7 368.0,390.7 368.1,390.1 368.2,389.8 368.3,389.0 368.4,389.3 368.5,390.5 368.6,390.7 368.7,391.3 368.8,391.3 368.9,391.7 369.0,391.4 369.1,393.3 369.2,392.7 369.3,392.0 369.4,392.6 369.5,392.2 369.6,395.3 369.7,393.3 369.8,393.7 369.9,392.3 370.0,392.5 370.1,394.8 370.2,393.4 370.3,393.9 370.4,395.7 370.5,396.0 370.6,394.5 370.7,394.3 370.8,394.0 370.9,393.4 371.0,396.0 371.1,392.4 371.2,393.6 371.3,391.6 371.4,392.3 371.5,394.2 371.6,394.3 371.7,394.1 371.8,393.4 371.9,393.0 372.0,393.2 372.1,393.3 372.2,395.0 372.3,395.4 372.4,394.3 372.5,393.2 372.6,392.7 372.7,394.1 372.8,393.5 372.9,391.7 373.0,395.3 373.1,393.8 373.2,393.4 373.3,392.8 373.4,392.8 373.5,394.8 373.6,392.7 373.7,393.9 373.8,394.5 373.9,395.9 374.0,394.5 374.1,393.7 374.2,393.3 374.3,394.8 374.4,394.9 374.5,393.3 374.6,394.5 374.7,393.6 374.8,391.9 374.9,392.6 375.0,394.7 375.1,395.4 375.2,394.6 375.3,393.6 375.4,393.0 375.5,394.4 375.6,394.2 375.7,391.9 375.8,394.5 375.9,393.0 376.0,394.6 376.1,394.4 376.2,394.6 376.3,395.0 376.4,394.6 376.5,392.6 376.6,392.6 376.7,395.0 376.8,394.3 376.9,392.0 377.0,391.5 377.1,394.8 377.2,396.3 377.3,394.7 377.4,393.5 377.5,394.1 377.6,391.3 377.7,392.7 377.8,395.0 377.9,394.8 378.0,391.4 378.1,395.1 378.2,394.4 378.3,394.9 378.4,393.6 378.5,393.8 378.6,392.6 378.7,394.2 378.8,394.8 378.9,392.7 379.0,394.2 379.1,393.2 379.2,395.0 379.3,394.9 379.4,391.3 379.5,394.3 379.6,395.0 379.7,393.2 379.8,393.5 379.9,393.6 380.0,392.5 380.1,393.7 380.2,395.6 380.3,394.3 380.4,395.5 380.5,394.9 380.6,395.2 380.7,393.9 380.8,394.7 380.9,396.1 381.0,395.5 381.1,394.2 381.2,393.0 381.3,392.7 381.4,394.1 381.5,394.3 381.6,391.7 381.7,394.0 381.8,394.2 381.9,394.1 382.0,393.2 382.1,396.3 382.2,394.8 382.3,392.2 382.4,393.0 382.5,394.7 382.6,394.4 382.7,393.9 382.8,393.7 382.9,393.5 383.0,393.3 383.1,392.6 383.2,394.4 383.3,391.3 383.4,392.9 383.5,395.2 383.6,392.9 383.7,392.4 383.8,395.9 383.9,394.9 384.0,393.6 384.1,393.1 384.2,393.5 384.3,393.3 384.4,393.4 384.5,392.9 384.6,394.3 384.7,393.1 384.8,391.7 384.9,392.2 385.0,393.7 385.1,392.5 385.2,391.2 385.3,395.4 385.4,394.2 385.5,393.1 385.6,393.1 385.7,394.2 385.8,395.2 385.9,392.9 386.0,394.1 386.1,392.9 386.2,393.9 386.3,392.3 386.4,391.5 386.5,393.6 386.6,393.4 386.7,394.3 386.8,392.7 386.9,394.9 387.0,393.5 387.1,394.9 387.2,392.8 387.3,394.6 387.4,392.8 387.5,392.7 387.6,393.0 387.7,390.2 387.8,390.1 387.9,391.2 388.0,388.2 388.1,387.8 388.2,387.4 388.3,387.2 388.4,386.3 388.5,386.6 388.6,386.6 388.7,387.8 388.8,389.6 388.9,390.2 389.0,390.8 389.1,391.9 389.2,392.3 389.3,392.7 389.4,392.5 389.5,392.1 389.6,393.9 389.7,392.1 389.8,394.5 389.9,395.7 390.0,395.1 390.1,396.0 390.2,392.4 390.3,393.8 390.4,392.7 390.5,392.8 390.6,391.7 390.7,392.3 390.8,394.6 390.9,394.4 391.0,395.0 391.1,394.9 391.2,394.5 391.3,392.8 391.4,393.6 391.5,394.5 391.6,395.1 391.7,393.3 391.8,393.2 391.9,393.2 392.0,395.5 392.1,394.4 392.2,393.4 392.3,392.9 392.4,394.2 392.5,391.9 392.6,393.5 392.7,393.1 392.8,393.1 392.9,394.0 393.0,394.2 393.1,396.3 393.2,393.9 393.3,394.6 393.4,392.9 393.5,391.9 393.6,395.1 393.7,396.0 393.8,392.7 393.9,393.7 394.0,395.0 394.1,393.9 394.2,391.3 394.3,394.9 394.4,393.6 394.5,394.6 394.6,392.7 394.7,394.8 394.8,395.0 394.9,393.0 395.0,394.4 395.1,393.1 395.2,393.2 395.3,392.8 395.4,393.3 395.5,393.0 395.6,395.1 395.7,393.5 395.8,392.5 395.9,395.4 396.0,394.4 396.1,394.9 396.2,393.7 396.3,394.6 396.4,393.7 396.5,392.7 396.6,393.9 396.7,394.0 396.8,394.0 396.9,394.8 397.0,391.9 397.1,394.2 397.2,392.9 397.3,393.5 397.4,394.3 397.5,393.9 397.6,393.1 397.7,394.7 397.8,393.8 397.9,394.9 398.0,395.2 398.1,393.4 398.2,392.6 398.3,393.9 398.4,394.8 398.5,394.2 398.6,392.5 398.7,391.9 398.8,392.8 398.9,392.8 399.0,394.6 399.1,393.9 399.2,394.8 399.3,393.8 399.4,395.7 399.5,393.9 399.6,394.5 399.7,393.4 399.8,394.4 399.9,395.1 400.0,394.7 400.1,395.3 400.2,393.2 400.3,394.4 400.4,395.8 400.5,394.2 400.6,393.7 400.7,393.6 400.8,393.3 400.9,394.0 401.0,395.4 401.1,394.4 401.2,393.8 401.3,393.0 401.4,392.6 401.5,396.3 401.6,393.3 401.7,394.0 401.8,393.3 401.9,394.1 402.0,393.4 402.1,394.0 402.2,395.5 402.3,393.0 402.4,394.5 402.5,393.8 402.6,394.7 402.7,393.1 402.8,394.3 402.9,392.8 403.0,391.8 403.1,392.4 403.2,392.8 403.3,392.6 403.4,393.5 403.5,395.1 403.6,392.5 403.7,394.3 403.8,394.0 403.9,393.0 404.0,392.8 404.1,394.3 404.2,394.3 404.3,393.4 404.4,393.6 404.5,393.8 404.6,392.3 404.7,393.9 404.8,394.1 404.9,395.8 405.0,392.4 405.1,392.8 405.2,393.9 405.3,393.1 405.4,393.3 405.5,393.8 405.6,393.5 405.7,393.8 405.8,394.3 405.9,392.0 406.0,394.4 406.1,391.3 406.2,395.7 406.3,394.8 406.4,393.1 406.5,394.9 406.6,393.6 406.7,394.3 406.8,394.6 406.9,394.2 407.0,393.8 407.1,394.5 407.2,393.6 407.3,393.4 407.4,392.8 407.5,391.8 407.6,395.6 407.7,394.7 407.8,392.3 407.9,394.3 408.0,394.0 408.1,391.4 408.2,392.9 408.3,393.7 408.4,395.7 408.5,395.0 408.6,395.2 408.7,394.2 408.8,394.9 408.9,392.5 409.0,394.5 409.1,394.6 409.2,392.4 409.3,394.1 409.4,395.5 409.5,396.0 409.6,395.4 409.7,393.1 409.8,393.7 409.9,393.3 410.0,395.2 410.1,392.9 410.2,392.7 410.3,392.1 410.4,394.1 410.5,394.3 410.6,393.2 410.7,393.0 410.8,393.6 410.9,395.3 411.0,392.4 411.1,393.8 411.2,394.1 411.3,394.3 411.4,395.2 411.5,394.8 411.6,394.2 411.7,395.5 411.8,395.1 411.9,394.2 412.0,394.1 412.1,392.5 412.2,394.0 412.3,393.0 412.4,392.6 412.5,393.5 412.6,392.0 412.7,392.9 412.8,393.3 412.9,394.2 413.0,393.5 413.1,394.3 413.2,395.6 413.3,394.7 413.4,392.6 413.5,391.9 413.6,392.8 413.7,392.8 413.8,391.6 413.9,391.9 414.0,391.9 414.1,393.1 414.2,395.4 414.3,395.7 414.4,392.7 414.5,393.3 414.6,392.3 414.7,392.0 414.8,393.7 414.9,393.8 415.0,393.0 415.1,394.4 415.2,393.4 415.3,394.9 415.4,393.2 415.5,394.7 415.6,393.5 415.7,393.8 415.8,394.4 415.9,392.2 416.0,392.9 416.1,393.6 416.2,393.4 416.3,394.0 416.4,392.8 416.5,392.2 416.6,393.6 416.7,394.0 416.8,392.8 416.9,395.0 417.0,394.5 417.1,394.6 417.2,394.6 417.3,392.8 417.4,396.1 417.5,392.9 417.6,394.1 417.7,394.5 417.8,394.1 417.9,394.0 418.0,392.9 418.1,393.3 418.2,393.8 418.3,395.2 418.4,393.1 418.5,394.6 418.6,394.3 418.7,393.9 418.8,393.2 418.9,393.7 419.0,391.9 419.1,394.0 419.2,394.2 419.3,393.3 419.4,394.5 419.5,394.2 419.6,393.1 419.7,394.8 419.8,393.3 419.9,396.3 420.0,392.8 420.1,393.0 420.2,393.2 420.3,394.2 420.4,395.2 420.5,394.0 420.6,393.5 420.7,396.0 420.8,395.0 420.9,393.6 421.0,393.8 421.1,392.2 421.2,393.9 421.3,395.8 421.4,392.6 421.5,392.3 421.6,394.0 421.7,391.3 421.8,395.4 421.9,392.2 422.0,393.1 422.1,393.7 422.2,395.2 422.3,394.3 422.4,391.8 422.5,392.0 422.6,394.1 422.7,391.5 422.8,393.5 422.9,392.9 423.0,394.7 423.1,395.1 423.2,391.3 423.3,394.3 423.4,394.5 423.5,392.9 423.6,393.1 423.7,392.5 423.8,393.4 423.9,394.2 424.0,395.2 424.1,395.4 424.2,393.5 424.3,392.9 424.4,394.9 424.5,391.3 424.6,392.2 424.7,394.5 424.8,396.2 424.9,392.9 425.0,393.9 425.1,392.5 425.2,393.7 425.3,393.7 425.4,392.9 425.5,394.2 425.6,393.6 425.7,394.3 425.8,393.5 425.9,392.4 426.0,393.9 426.1,394.7 426.2,392.9 426.3,395.2 426.4,394.3 426.5,393.4 426.6,393.8 426.7,393.3 426.8,392.8 426.9,394.8 427.0,394.8 427.1,393.3 427.2,393.6 427.3,393.6 427.4,394.6 427.5,395.4 427.6,393.1 427.7,394.1 427.8,393.8 427.9,394.4 428.0,395.4 428.1,392.8 428.2,391.5 428.3,393.6 428.4,392.0 428.5,395.6 428.6,393.0 428.7,393.5 428.8,394.1 428.9,394.0 429.0,393.3 429.1,393.8 429.2,394.9 429.3,393.5 429.4,395.8 429.5,394.2 429.6,391.3 429.7,394.8 429.8,391.9 429.9,394.2 430.0,396.3 430.1,395.0 430.2,392.6 430.3,392.9 430.4,393.8 430.5,395.4 430.6,393.0 430.7,395.0 430.8,394.2 430.9,393.7 431.0,393.6 431.1,395.7 431.2,392.2 431.3,392.6 431.4,394.8 431.5,394.9 431.6,392.4 431.7,392.8 431.8,392.6 431.9,394.4 432.0,393.1 432.1,395.4 432.2,394.7 432.3,394.1 432.4,394.0 432.5,394.4 432.6,394.8 432.7,393.8 432.8,394.1 432.9,394.7 433.0,393.7 433.1,394.9 433.2,393.7 433.3,393.0 433.4,394.0 433.5,395.6 433.6,395.5 433.7,392.1 433.8,394.2 433.9,393.3 434.0,393.5 434.1,393.4 434.2,393.6 434.3,393.2 434.4,393.5 434.5,394.0 434.6,392.5 434.7,392.4 434.8,392.6 434.9,392.5 435.0,394.4 435.1,392.6 435.2,393.7 435.3,393.9 435.4,394.6 435.5,393.8 435.6,395.0 435.7,393.7 435.8,394.1 435.9,394.6 436.0,392.2 436.1,394.2 436.2,395.5 436.3,393.9 436.4,393.5 436.5,395.9 436.6,393.9 436.7,395.1 436.8,391.3 436.9,393.9 437.0,393.2 437.1,394.2 437.2,395.1 437.3,393.6 437.4,393.5 437.5,391.3 437.6,394.7 437.7,395.2 437.8,394.0 437.9,393.3 438.0,394.2 438.1,394.9 438.2,394.5 438.3,396.1 438.4,393.2 438.5,392.3 438.6,394.3 438.7,395.2 438.8,393.3 438.9,393.8 439.0,393.1 439.1,392.4 439.2,393.0 439.3,391.5 439.4,394.1 439.5,394.3 439.6,394.7 439.7,392.9 439.8,393.1 439.9,391.9 440.0,392.2 440.1,394.7 440.2,396.3 440.3,392.6 440.4,393.3 440.5,394.8 440.6,393.0 440.7,394.4 440.8,393.4 440.9,393.4 441.0,394.7 441.1,393.4 441.2,392.3 441.3,394.6 441.4,393.7 441.5,393.1 441.6,392.8 441.7,394.3 441.8,392.9 441.9,393.8 442.0,394.7 442.1,393.5 442.2,394.7 442.3,392.1 442.4,394.1 442.5,393.9 442.6,395.1 442.7,393.1 442.8,393.6 442.9,392.3 443.0,391.1 443.1,390.7 443.2,390.3 443.3,390.6 443.4,389.1 443.5,389.2 443.6,389.0 443.7,389.9 443.8,390.1 443.9,391.1 444.0,390.0 444.1,391.0 444.2,392.2 444.3,393.4 444.4,393.2 444.5,392.3 444.6,393.0 444.7,391.7 444.8,394.3 444.9,391.7 445.0,393.8 445.1,394.7 445.2,394.6 445.3,391.9 445.4,393.9 445.5,393.3 445.6,393.4 445.7,395.5 445.8,394.0 445.9,392.2 446.0,392.6 446.1,394.5 446.2,394.0 446.3,392.5 446.4,391.9 446.5,393.1 446.6,393.3 446.7,394.6 446.8,393.1 446.9,394.5 447.0,395.1 447.1,392.0 447.2,393.1 447.3,395.4 447.4,393.3 447.5,393.7 447.6,394.8 447.7,392.9 447.8,393.3 447.9,391.9 448.0,394.4 448.1,393.2 448.2,393.3 448.3,391.3 448.4,394.8 448.5,394.5 448.6,392.9 448.7,395.1 448.8,391.3 448.9,393.7 449.0,391.9 449.1,396.3 449.2,391.3 449.3,392.4 449.4,392.9 449.5,394.6 449.6,394.6 449.7,394.1 449.8,393.4 449.9,396.1 450.0,392.9 450.1,394.1 450.2,395.6 450.3,392.4 450.4,392.8 450.5,394.9 450.6,394.2 450.7,392.3 450.8,393.7 450.9,395.8 451.0,393.4 451.1,394.6 451.2,393.9 451.3,393.0 451.4,395.5 451.5,394.8 451.6,395.0 451.7,393.5 451.8,393.8 451.9,394.0 452.0,394.2 452.1,393.3 452.2,393.1 452.3,395.2 452.4,392.5 452.5,393.2 452.6,393.3 452.7,393.1 452.8,392.4 452.9,392.9 453.0,394.6 453.1,393.3 453.2,392.9 453.3,395.5 453.4,392.2 453.5,394.8 453.6,394.1 453.7,392.2 453.8,393.3 453.9,393.3 454.0,395.1 454.1,394.7 454.2,393.4 454.3,392.4 454.4,391.8 454.5,393.5 454.6,392.1 454.7,393.5 454.8,393.5 454.9,394.1 455.0,394.8 455.1,393.8 455.2,394.2 455.3,393.5 455.4,394.8 455.5,394.6 455.6,395.5 455.7,395.2 455.8,392.9 455.9,392.1 456.0,394.4 456.1,395.0 456.2,393.0 456.3,395.4 456.4,393.8 456.5,393.6 456.6,394.1 456.7,392.1 456.8,391.9 456.9,393.3 457.0,392.4 457.1,393.7 457.2,393.7 457.3,391.3 457.4,392.8 457.5,394.3 457.6,391.3 457.7,393.3 457.8,392.2 457.9,391.5 458.0,394.9 458.1,394.8 458.2,393.2 458.3,393.1 458.4,395.2 458.5,395.0 458.6,393.6 458.7,394.6 458.8,393.8 458.9,393.3 459.0,394.3 459.1,393.2 459.2,394.3 459.3,393.4 459.4,393.1 459.5,393.0 459.6,394.1 459.7,394.7 459.8,394.1 459.9,392.7 460.0,394.3 460.1,392.7 460.2,392.4 460.3,393.4 460.4,394.5 460.5,394.4 460.6,394.3 460.7,395.2 460.8,394.6 460.9,393.3 461.0,394.5 461.1,393.4 461.2,394.1 461.3,394.3 461.4,393.6 461.5,392.0 461.6,393.5 461.7,393.3 461.8,393.6 461.9,393.2 462.0,392.5 462.1,391.9 462.2,394.4 462.3,394.6 462.4,394.1 462.5,393.7 462.6,395.9 462.7,394.4 462.8,393.7 462.9,394.6 463.0,393.6 463.1,394.5 463.2,394.0 463.3,394.3 463.4,393.8 463.5,393.2 463.6,394.3 463.7,395.0 463.8,392.7 463.9,393.2 464.0,392.5 464.1,394.7 464.2,393.5 464.3,394.7 464.4,392.9 464.5,394.6 464.6,393.1 464.7,393.2 464.8,394.3 464.9,393.3 465.0,393.1 465.1,394.7 465.2,393.7 465.3,395.1 465.4,396.3 465.5,393.1 465.6,393.4 465.7,392.1 465.8,392.5 465.9,394.4 466.0,394.1 466.1,394.1 466.2,394.3 466.3,392.8 466.4,391.9 466.5,394.9 466.6,394.0 466.7,395.0 466.8,393.7 466.9,394.6 467.0,393.2 467.1,393.8 467.2,393.6 467.3,394.2 467.4,395.3 467.5,394.5 467.6,391.3 467.7,393.7 467.8,393.8 467.9,394.6 468.0,393.9 468.1,393.0 468.2,392.9 468.3,393.4 468.4,393.0 468.5,395.3 468.6,394.4 468.7,393.8 468.8,394.8 468.9,396.1 469.0,393.5 469.1,393.7 469.2,393.4 469.3,392.4 469.4,393.1 469.5,392.8 469.6,394.3 469.7,394.3 469.8,394.7 469.9,392.9 470.0,394.9 470.1,392.7 470.2,393.6 470.3,395.2 470.4,395.1 470.5,395.0 470.6,396.1 470.7,394.9 470.8,393.5 470.9,393.5 471.0,392.9 471.1,394.0 471.2,393.0 471.3,393.1 471.4,392.7 471.5,392.0 471.6,396.3 471.7,394.8 471.8,391.5 471.9,394.3 472.0,393.2 472.1,391.5 472.2,393.6 472.3,394.0 472.4,394.4 472.5,395.0 472.6,392.9 472.7,393.7 472.8,394.5 472.9,394.4 473.0,394.2 473.1,393.9 473.2,395.1 473.3,392.4 473.4,392.2 473.5,395.7 473.6,394.3 473.7,395.0 473.8,394.1 473.9,393.4 474.0,393.3 474.1,394.0 474.2,393.3 474.3,393.7 474.4,393.7 474.5,394.7 474.6,394.7 474.7,395.6 474.8,393.1 474.9,393.8 475.0,394.9 475.1,394.2 475.2,391.3 475.3,394.2 475.4,393.8 475.5,393.3 475.6,393.4 475.7,393.1 475.8,395.1 475.9,394.6 476.0,394.1 476.1,395.1 476.2,394.9 476.3,393.0 476.4,392.7 476.5,392.8 476.6,394.7 476.7,393.9 476.8,395.2 476.9,394.5 477.0,393.7 477.1,392.5 477.2,393.6 477.3,396.3 477.4,393.2 477.5,393.0 477.6,393.7 477.7,395.4 477.8,393.9 477.9,392.7 478.0,393.3 478.1,393.8 478.2,394.0 478.3,395.0 478.4,396.3 478.5,395.4 478.6,394.6 478.7,393.9 478.8,393.0 478.9,394.5 479.0,395.3 479.1,394.8 479.2,393.8 479.3,394.6 479.4,393.7 479.5,393.7 479.6,393.7 479.7,394.0 479.8,393.8 479.9,395.0 480.0,393.9 480.1,393.8 480.2,395.0 480.3,394.6 480.4,395.1 480.5,393.1 480.6,395.3 480.7,393.9 480.8,392.8 480.9,393.7 481.0,392.6 481.1,392.8 481.2,393.4 481.3,394.9 481.4,392.4 481.5,394.2 481.6,393.6 481.7,395.5 481.8,394.1 481.9,394.5 482.0,395.4 482.1,392.7 482.2,393.5 482.3,392.3 482.4,392.9 482.5,394.2 482.6,393.7 482.7,394.3 482.8,393.4 482.9,393.1 483.0,393.7 483.1,392.9 483.2,392.6 483.3,392.1 483.4,393.7 483.5,394.3 483.6,392.5 483.7,393.3 483.8,391.3 483.9,392.5 484.0,393.8 484.1,392.4 484.2,394.2 484.3,393.3 484.4,394.1 484.5,393.2 484.6,392.2 484.7,393.7 484.8,394.5 484.9,393.2 485.0,394.1 485.1,393.0 485.2,393.4 485.3,395.1 485.4,393.7 485.5,392.7 485.6,394.3 485.7,393.8 485.8,393.2 485.9,394.5 486.0,391.3 486.1,394.3 486.2,395.8 486.3,394.1 486.4,391.7 486.5,395.2 486.6,396.3 486.7,394.4 486.8,392.6 486.9,393.0 487.0,393.6 487.1,394.0 487.2,395.0 487.3,394.4 487.4,391.4 487.5,393.4 487.6,393.6 487.7,395.7 487.8,393.1 487.9,392.3 488.0,393.4 488.1,394.0 488.2,391.8 488.3,394.9 488.4,393.6 488.5,394.6 488.6,394.5 488.7,394.3 488.8,395.3 488.9,395.5 489.0,393.3 489.1,393.7 489.2,394.9 489.3,393.9 489.4,393.1 489.5,393.9 489.6,392.9 489.7,393.2 489.8,391.3 489.9,393.9 490.0,395.7 490.1,394.6 490.2,394.5 490.3,394.0 490.4,393.0 490.5,394.3 490.6,393.8 490.7,393.6 490.8,394.0 490.9,393.2 491.0,393.9 491.1,394.5 491.2,394.9 491.3,393.9 491.4,394.7 491.5,394.0 491.6,391.4 491.7,391.7 491.8,393.6 491.9,392.6 492.0,394.4 492.1,392.4 492.2,393.3 492.3,393.2 492.4,393.0 492.5,393.2 492.6,393.8 492.7,393.9 492.8,393.2 492.9,394.0 493.0,394.4 493.1,393.6 493.2,393.1 493.3,393.1 493.4,393.3 493.5,393.2 493.6,393.9 493.7,396.3 493.8,395.0 493.9,393.8 494.0,394.4 494.1,394.4 494.2,395.2 494.3,395.3 494.4,392.8 494.5,396.2 494.6,392.9 494.7,393.9 494.8,392.9 494.9,392.0 495.0,391.9 495.1,395.9 495.2,395.4 495.3,392.8 495.4,392.6 495.5,395.4 495.6,392.8 495.7,394.3 495.8,396.0 495.9,394.7 496.0,395.4 496.1,394.1 496.2,392.0 496.3,393.0 496.4,391.9 496.5,394.2 496.6,392.4 496.7,394.0 496.8,393.3 496.9,393.1 497.0,394.4 497.1,393.3 497.2,392.9 497.3,394.9 497.4,393.8 497.5,392.2 497.6,395.1 497.7,392.3 497.8,394.1 497.9,394.4 498.0,393.5 498.1,392.9 498.2,393.5 498.3,393.4 498.4,392.6 498.5,394.7 498.6,393.2 498.7,393.0 498.8,395.3 498.9,393.0 499.0,392.1 499.1,393.7 499.2,393.8 499.3,393.8 499.4,396.1 499.5,393.2 499.6,395.3 499.7,394.8 499.8,395.4 499.9,393.7 500.0,393.5 500.1,393.6 500.2,394.2 500.3,394.9 500.4,395.6 500.5,391.9 500.6,395.0 500.7,394.2 500.8,393.9 500.9,392.7 501.0,394.2 501.1,391.9 501.2,395.2 501.3,392.8 501.4,393.7 501.5,393.7 501.6,394.5 501.7,392.4 501.8,394.7 501.9,394.3 502.0,395.5 502.1,394.2 502.2,393.7 502.3,391.8 502.4,393.4 502.5,395.6 502.6,393.3 502.7,393.3 502.8,393.7 502.9,394.8 503.0,391.9 503.1,395.8 503.2,394.5 503.3,394.6 503.4,393.8 503.5,396.0 503.6,393.4 503.7,394.7 503.8,393.9 503.9,392.5"/>
<text class="s" font-size="10.6" transform="matrix(1.267 0 0 1 100.37 382.8)"><tspan fill="#1414d2" stroke="#1414d2">An</tspan><tspan fill="#1414d2" stroke="#1414d2">,</tspan><tspan fill="#b41eb4" stroke="#b41eb4">Aug</tspan></text>
<text class="s" font-size="10.6" transform="matrix(1.240 0 0 1 126.47 371.4)"><tspan fill="#1414d2" stroke="#1414d2">An</tspan><tspan fill="#1414d2" stroke="#1414d2">,</tspan><tspan fill="#b41eb4" stroke="#b41eb4">Aug</tspan></text>
<text class="s" font-size="10.6" transform="matrix(1.211 0 0 1 167.98 362.3)"><tspan fill="#1414d2" stroke="#1414d2">An</tspan></text>
<text class="s" font-size="10.6" transform="matrix(1.204 0 0 1 186.98 364.1)"><tspan fill="#1414d2" stroke="#1414d2">An</tspan></text>
<text class="s" font-size="10.6" transform="matrix(1.226 0 0 1 197.88 354.2)"><tspan fill="#1414d2" stroke="#1414d2">An</tspan></text>
<text class="s" font-size="10.6" transform="matrix(1.270 0 0 1 207.56 292.9)"><tspan fill="#1414d2" stroke="#1414d2">An</tspan><tspan fill="#1414d2" stroke="#1414d2">,</tspan><tspan fill="#b41eb4" stroke="#b41eb4">Aug</tspan></text>
<text class="s" font-size="10.6" transform="matrix(1.256 0 0 1 228.27 342.4)"><tspan fill="#1414d2" stroke="#1414d2">An</tspan><tspan fill="#1414d2" stroke="#1414d2">,</tspan><tspan fill="#b41eb4" stroke="#b41eb4">Aug</tspan></text>
<text class="s" font-size="10.6" transform="matrix(1.211 0 0 1 222.48 372.9)"><tspan fill="#1414d2" stroke="#1414d2">An</tspan></text>
<text class="s" font-size="10.6" transform="matrix(1.248 0 0 1 237.27 366.1)"><tspan fill="#1414d2" stroke="#1414d2">An</tspan><tspan fill="#1414d2" stroke="#1414d2">,</tspan><tspan fill="#b41eb4" stroke="#b41eb4">Aug</tspan></text>
<text class="s" font-size="10.6" transform="matrix(1.181 0 0 1 278.39 374.7)"><tspan fill="#1414d2" stroke="#1414d2">An</tspan></text>
<text class="s" font-size="10.6" transform="matrix(1.256 0 0 1 293.67 367.1)"><tspan fill="#1414d2" stroke="#1414d2">An</tspan><tspan fill="#1414d2" stroke="#1414d2">,</tspan><tspan fill="#b41eb4" stroke="#b41eb4">Aug</tspan></text>
<text class="s" font-size="10.6" transform="matrix(1.259 0 0 1 319.07 379)"><tspan fill="#1414d2" stroke="#1414d2">An</tspan><tspan fill="#1414d2" stroke="#1414d2">,</tspan><tspan fill="#b41eb4" stroke="#b41eb4">Aug</tspan></text>
<text class="s" font-size="10.6" transform="matrix(1.237 0 0 1 343.47 349.2)"><tspan fill="#1414d2" stroke="#1414d2">An</tspan><tspan fill="#1414d2" stroke="#1414d2">,</tspan><tspan fill="#b41eb4" stroke="#b41eb4">Aug</tspan></text>
<text class="s" font-size="10.6" transform="matrix(1.245 0 0 1 367.37 362.4)"><tspan fill="#1414d2" stroke="#1414d2">An</tspan><tspan fill="#1414d2" stroke="#1414d2">,</tspan><tspan fill="#b41eb4" stroke="#b41eb4">Aug</tspan></text>
<text class="s" font-size="10.6" transform="matrix(1.181 0 0 1 362.39 370.6)"><tspan fill="#1414d2" stroke="#1414d2">An</tspan></text>
<text class="s" font-size="10.6" transform="matrix(1.181 0 0 1 369.99 382.4)"><tspan fill="#1414d2" stroke="#1414d2">An</tspan></text>
<text class="s" font-size="10.6" transform="matrix(1.259 0 0 1 396.37 377.7)"><tspan fill="#1414d2" stroke="#1414d2">An</tspan><tspan fill="#1414d2" stroke="#1414d2">,</tspan><tspan fill="#b41eb4" stroke="#b41eb4">Aug</tspan></text>
<text class="s" font-size="10.6" transform="matrix(1.250 0 0 1 433.27 372.7)"><tspan fill="#1414d2" stroke="#1414d2">An</tspan><tspan fill="#1414d2" stroke="#1414d2">,</tspan><tspan fill="#b41eb4" stroke="#b41eb4">Aug</tspan></text>
<text class="s" font-size="10.6" transform="matrix(1.250 0 0 1 455.67 363)"><tspan fill="#1414d2" stroke="#1414d2">An</tspan><tspan fill="#1414d2" stroke="#1414d2">,</tspan><tspan fill="#b41eb4" stroke="#b41eb4">Aug</tspan></text>
<text class="s" font-size="10.6" transform="matrix(1.219 0 0 1 448.58 382.8)"><tspan fill="#1414d2" stroke="#1414d2">An</tspan></text>
<line x1="134.3" y1="383.6" x2="134.3" y2="390.6" stroke="#555555" stroke-width="1.0"/>
<line x1="164.8" y1="376" x2="164.8" y2="386.9" stroke="#555555" stroke-width="1.0"/>
<line x1="187.1" y1="373.2" x2="187.1" y2="386.3" stroke="#555555" stroke-width="1.0"/>
<line x1="192.5" y1="363.6" x2="192.5" y2="377.1" stroke="#555555" stroke-width="1.0"/>
<line x1="209.6" y1="369.5" x2="209.6" y2="384.8" stroke="#555555" stroke-width="1.0"/>
<line x1="224.6" y1="376.7" x2="224.6" y2="390.2" stroke="#555555" stroke-width="1.0"/>
<line x1="245.5" y1="375.2" x2="245.5" y2="385.8" stroke="#555555" stroke-width="1.0"/>
<line x1="285.1" y1="375.8" x2="285.1" y2="384.7" stroke="#555555" stroke-width="1.0"/>
<line x1="347.2" y1="379.6" x2="347.2" y2="387.3" stroke="#555555" stroke-width="1.0"/>
<line x1="353.1" y1="383.4" x2="353.1" y2="389" stroke="#555555" stroke-width="1.0"/>
<line x1="358.1" y1="357.5" x2="358.1" y2="388" stroke="#555555" stroke-width="1.0"/>
<line x1="369.1" y1="374.5" x2="369.1" y2="387.3" stroke="#555555" stroke-width="1.0"/>
<line x1="376.5" y1="383.4" x2="376.5" y2="391" stroke="#555555" stroke-width="1.0"/>
<line x1="388.7" y1="368.2" x2="388.7" y2="388.5" stroke="#555555" stroke-width="1.0"/>
<line x1="422" y1="378.3" x2="422" y2="388.5" stroke="#555555" stroke-width="1.0"/>
<line x1="443.6" y1="379.6" x2="443.6" y2="387.3" stroke="#555555" stroke-width="1.0"/>
<line x1="456.8" y1="384" x2="456.8" y2="388.5" stroke="#555555" stroke-width="1.0"/>
<line x1="467.8" y1="368.2" x2="467.8" y2="386.5" stroke="#555555" stroke-width="1.0"/>
<line x1="181.2" y1="368.4" x2="182.7" y2="372.3" stroke="#555555" stroke-width="1.0"/>
<line x1="197.6" y1="368.4" x2="203.7" y2="385.8" stroke="#555555" stroke-width="1.0"/>
<line x1="199.6" y1="368.4" x2="205.7" y2="385.8" stroke="#555555" stroke-width="1.0"/>
<line x1="234.5" y1="375.2" x2="236.5" y2="384.8" stroke="#555555" stroke-width="1.0"/>
<line x1="260.5" y1="367.5" x2="258.3" y2="381" stroke="#555555" stroke-width="1.0"/>
<line x1="260.5" y1="367.5" x2="264" y2="382" stroke="#555555" stroke-width="1.0"/>
<line x1="302.2" y1="369.4" x2="302.2" y2="384.7" stroke="#555555" stroke-width="1.0"/>
<line x1="302.2" y1="369.4" x2="308" y2="387.3" stroke="#555555" stroke-width="1.0"/>
<line x1="316.7" y1="373.3" x2="314.9" y2="384" stroke="#555555" stroke-width="1.0"/>
<line x1="316.7" y1="373.3" x2="322.5" y2="391" stroke="#555555" stroke-width="1.0"/>
<line x1="229.6" y1="349.3" x2="228.6" y2="365.6" stroke="#222" stroke-width="1.4"/>
<line x1="229.9" y1="349.3" x2="232.4" y2="365.6" stroke="#222" stroke-width="1.4"/>
<polyline fill="none" stroke="#000000" stroke-width="1.4" stroke-linejoin="round" points="82.3,520.7 82.4,522.8 82.5,530.1 82.7,526.4 82.8,517.8 82.9,524.2 83.0,522.1 83.1,525.1 83.3,518.7 83.4,525.7 83.5,525.7 83.6,530.5 83.7,525.7 83.9,525.8 84.0,517.9 84.1,530.3 84.2,514.3 84.3,523.9 84.5,518.1 84.6,515.9 84.6,519.0 84.7,517.0 84.8,521.7 84.9,521.3 85.1,528.3 85.2,518.3 85.3,525.8 85.4,523.7 85.5,529.9 85.7,519.7 85.8,524.9 85.9,525.5 86.0,518.1 86.1,524.2 86.3,519.3 86.4,519.9 86.5,518.4 86.6,515.0 86.6,512.5 86.7,515.3 86.9,520.3 87.0,523.0 87.1,520.6 87.2,523.2 87.3,523.2 87.5,521.5 87.6,519.6 87.7,516.5 87.8,520.0 87.9,509.3 88.1,508.7 88.1,509.5 88.2,507.1 88.3,511.0 88.4,515.4 88.5,521.4 88.7,518.6 88.8,529.8 88.9,526.9 89.0,530.1 89.1,533.2 89.3,531.9 89.4,531.8 89.5,527.4 89.6,524.7 89.7,523.3 89.9,517.2 90.0,522.1 90.1,518.0 90.2,515.1 90.3,526.5 90.5,522.6 90.6,522.2 90.7,533.2 90.8,529.0 90.9,534.4 91.1,530.1 91.2,532.4 91.3,528.8 91.4,528.4 91.5,531.2 91.7,533.9 91.8,536.5 91.9,540.8 92.0,531.6 92.1,537.4 92.3,533.0 92.4,534.4 92.5,530.8 92.6,530.9 92.7,532.9 92.9,531.9 93.0,535.2 93.1,533.4 93.2,538.8 93.3,535.9 93.5,536.0 93.6,538.7 93.7,537.1 93.8,535.7 93.9,535.6 94.1,535.6 94.2,538.9 94.3,538.2 94.4,537.1 94.5,538.3 94.7,534.9 94.8,537.7 94.9,532.7 95.0,540.0 95.1,536.8 95.3,537.1 95.4,538.3 95.5,536.7 95.6,536.2 95.7,540.0 95.9,537.3 96.0,534.6 96.1,538.2 96.2,532.7 96.3,541.5 96.5,529.2 96.6,537.4 96.7,543.2 96.8,542.9 96.9,537.8 97.1,539.1 97.2,540.4 97.3,541.9 97.4,537.4 97.5,538.1 97.7,540.9 97.8,538.5 97.9,539.8 98.0,539.5 98.1,535.2 98.3,535.9 98.4,532.3 98.5,537.5 98.6,541.6 98.7,535.5 98.9,541.4 99.0,540.9 99.1,530.7 99.2,538.4 99.3,538.7 99.5,536.4 99.6,537.9 99.7,538.5 99.8,540.2 99.9,540.7 100.1,536.9 100.2,540.8 100.3,536.9 100.4,534.7 100.5,533.5 100.7,538.9 100.8,538.7 100.9,539.7 101.0,537.7 101.1,537.5 101.3,538.7 101.4,541.5 101.5,533.8 101.6,543.9 101.7,539.8 101.9,533.7 102.0,538.3 102.1,543.5 102.2,539.5 102.3,538.4 102.5,537.4 102.6,542.8 102.7,542.0 102.8,541.2 102.9,540.7 103.1,543.2 103.2,541.7 103.3,536.8 103.4,541.6 103.5,540.2 103.7,539.6 103.8,541.7 103.9,540.0 104.0,534.4 104.1,543.7 104.3,542.5 104.4,539.7 104.5,539.1 104.6,540.6 104.7,537.0 104.9,540.8 105.0,539.6 105.1,539.3 105.2,538.0 105.3,538.6 105.5,542.9 105.6,543.5 105.7,541.5 105.8,540.2 105.9,538.3 106.1,542.1 106.2,544.2 106.3,536.6 106.4,543.2 106.5,535.3 106.7,539.7 106.8,541.4 106.9,537.3 107.0,537.0 107.1,541.0 107.3,542.7 107.4,539.5 107.5,543.8 107.6,538.8 107.7,544.8 107.9,541.0 108.0,541.3 108.1,542.2 108.2,541.5 108.3,545.1 108.5,545.3 108.6,537.1 108.7,540.5 108.8,538.1 108.9,539.1 109.1,540.9 109.2,540.7 109.3,540.8 109.4,541.0 109.5,542.1 109.7,532.3 109.8,538.6 109.9,543.7 110.0,543.0 110.1,539.8 110.3,544.1 110.4,539.5 110.5,540.5 110.6,536.8 110.7,543.1 110.9,541.1 111.0,543.7 111.1,542.9 111.2,541.4 111.3,541.6 111.5,544.1 111.6,537.3 111.7,540.9 111.8,541.5 111.9,543.2 112.1,543.5 112.2,545.3 112.3,541.2 112.4,544.4 112.5,539.9 112.7,542.9 112.8,541.8 112.9,545.3 113.0,542.9 113.1,540.5 113.3,542.9 113.4,542.4 113.5,540.8 113.6,540.9 113.7,539.4 113.9,545.3 114.0,541.9 114.1,543.9 114.2,538.9 114.3,539.1 114.5,541.3 114.6,541.3 114.7,543.6 114.8,533.1 114.9,543.0 115.1,545.3 115.2,539.6 115.3,543.9 115.4,539.5 115.5,542.6 115.7,542.6 115.8,540.4 115.9,540.2 116.0,542.2 116.1,544.3 116.3,539.1 116.4,541.8 116.5,539.8 116.6,540.2 116.7,543.5 116.9,543.5 117.0,545.3 117.1,545.1 117.2,544.9 117.3,541.5 117.5,541.2 117.6,537.4 117.7,536.7 117.8,545.3 117.9,540.4 118.1,539.5 118.2,540.9 118.3,544.0 118.4,544.8 118.5,541.1 118.7,543.0 118.8,541.8 118.9,539.7 119.0,542.4 119.1,542.1 119.3,538.4 119.4,544.6 119.5,538.4 119.6,537.4 119.7,539.6 119.9,540.1 120.0,540.4 120.1,543.7 120.2,539.1 120.3,541.6 120.5,545.3 120.6,540.4 120.7,542.0 120.8,543.6 120.9,540.7 121.1,543.2 121.2,540.5 121.3,543.7 121.4,542.2 121.5,539.9 121.7,545.3 121.8,534.9 121.9,541.5 122.0,540.0 122.1,541.0 122.3,541.9 122.4,542.5 122.5,544.7 122.6,539.1 122.7,541.3 122.9,544.9 123.0,537.6 123.1,543.1 123.2,545.3 123.3,542.9 123.5,543.2 123.6,542.1 123.7,545.3 123.8,544.6 123.9,540.5 124.1,539.3 124.2,539.5 124.3,544.7 124.4,543.8 124.5,541.8 124.7,541.3 124.8,538.1 124.9,544.0 125.0,541.9 125.1,541.5 125.3,543.9 125.4,540.7 125.5,540.9 125.6,540.6 125.7,533.7 125.9,545.3 126.0,541.8 126.1,541.4 126.2,544.3 126.3,536.9 126.5,542.2 126.6,542.3 126.7,540.0 126.8,543.3 126.9,537.6 127.1,542.2 127.2,544.3 127.3,537.1 127.4,538.8 127.5,541.8 127.7,542.1 127.8,540.6 127.9,542.9 128.0,542.6 128.1,535.9 128.3,541.8 128.4,533.9 128.5,537.2 128.6,537.0 128.7,544.3 128.9,541.6 129.0,545.3 129.1,538.6 129.2,541.1 129.3,540.6 129.5,541.6 129.6,543.1 129.7,542.3 129.8,540.5 129.9,537.0 130.1,539.8 130.2,545.3 130.3,543.7 130.4,545.1 130.5,540.6 130.7,541.6 130.8,540.0 130.9,542.9 131.0,542.2 131.1,543.1 131.3,545.3 131.4,534.5 131.5,543.7 131.6,538.8 131.7,544.6 131.9,541.0 132.0,541.8 132.1,542.3 132.2,545.3 132.3,541.8 132.5,540.7 132.6,538.9 132.7,541.9 132.8,532.0 132.9,538.0 133.1,537.3 133.2,536.7 133.3,531.4 133.4,533.1 133.5,531.5 133.5,527.9 133.7,535.6 133.8,539.4 133.9,535.3 134.0,540.1 134.1,537.0 134.3,541.8 134.4,540.8 134.5,542.5 134.6,539.8 134.7,540.1 134.9,541.0 135.0,540.4 135.1,540.6 135.2,541.6 135.3,539.5 135.5,541.7 135.6,543.2 135.7,537.1 135.8,542.5 135.9,536.3 136.1,539.5 136.2,539.0 136.3,540.1 136.4,540.3 136.5,542.9 136.7,539.2 136.8,544.5 136.9,540.2 137.0,543.6 137.1,544.6 137.3,539.3 137.4,544.6 137.5,545.3 137.6,541.1 137.7,543.5 137.9,541.9 138.0,542.4 138.1,541.8 138.2,541.1 138.3,544.0 138.5,544.4 138.6,542.3 138.7,545.3 138.8,544.9 138.9,539.7 139.1,538.0 139.2,545.3 139.3,545.3 139.4,537.5 139.5,539.9 139.7,541.3 139.8,544.6 139.9,545.3 140.0,541.8 140.1,543.0 140.3,544.1 140.4,539.5 140.5,543.8 140.6,541.8 140.7,542.9 140.9,542.4 141.0,539.8 141.1,540.2 141.2,542.6 141.3,542.8 141.5,541.9 141.6,545.0 141.7,541.7 141.8,539.7 141.9,541.7 142.1,542.1 142.2,542.2 142.3,545.2 142.4,543.7 142.5,544.9 142.7,544.0 142.8,542.1 142.9,544.9 143.0,541.9 143.1,543.1 143.3,540.2 143.4,542.8 143.5,541.8 143.6,543.4 143.7,545.3 143.9,545.3 144.0,544.9 144.1,542.5 144.2,544.4 144.3,543.1 144.5,541.2 144.6,538.6 144.7,542.0 144.8,541.2 144.9,545.3 145.1,541.3 145.2,541.4 145.3,544.2 145.4,541.0 145.5,539.9 145.7,540.6 145.8,543.7 145.9,543.4 146.0,543.3 146.1,535.1 146.3,540.5 146.4,544.7 146.5,539.2 146.6,542.1 146.7,539.5 146.9,541.6 147.0,542.2 147.1,545.3 147.2,537.3 147.3,545.3 147.5,540.5 147.6,543.3 147.7,544.4 147.8,540.8 147.9,542.4 148.1,543.7 148.2,542.3 148.3,540.9 148.4,543.0 148.5,542.9 148.7,539.2 148.8,545.3 148.9,543.1 149.0,537.3 149.1,540.7 149.3,545.3 149.4,545.3 149.5,543.3 149.6,538.8 149.7,542.1 149.9,545.1 150.0,543.5 150.1,541.9 150.2,540.9 150.3,544.5 150.5,542.2 150.6,543.4 150.7,543.8 150.8,545.3 150.9,543.1 151.1,543.2 151.2,538.5 151.3,545.2 151.4,544.7 151.5,542.6 151.7,537.4 151.8,541.4 151.9,542.8 152.0,541.8 152.1,544.0 152.3,544.5 152.4,544.5 152.5,545.3 152.6,540.0 152.7,540.7 152.9,539.9 153.0,542.0 153.1,541.8 153.2,542.9 153.3,540.3 153.5,542.9 153.6,540.7 153.7,540.6 153.8,541.4 153.9,545.3 154.1,545.3 154.2,539.9 154.3,544.8 154.4,544.0 154.5,539.1 154.7,544.0 154.8,542.4 154.9,543.4 155.0,540.7 155.1,542.5 155.3,540.6 155.4,542.2 155.5,541.2 155.6,542.3 155.7,540.4 155.9,543.4 156.0,537.3 156.1,545.3 156.2,542.8 156.3,543.7 156.5,544.6 156.6,539.8 156.7,545.3 156.8,540.1 156.9,543.7 157.1,537.6 157.2,545.3 157.3,542.6 157.4,539.4 157.5,543.4 157.7,537.3 157.8,542.2 157.9,541.6 158.0,545.3 158.1,542.0 158.3,541.6 158.4,540.9 158.5,540.6 158.6,541.3 158.7,535.4 158.9,539.6 159.0,542.1 159.1,539.2 159.2,542.2 159.3,543.0 159.5,539.7 159.6,541.3 159.7,542.8 159.8,544.4 159.9,544.8 160.1,542.3 160.2,540.3 160.3,538.8 160.4,544.4 160.5,545.3 160.7,543.4 160.8,545.3 160.9,541.5 161.0,541.6 161.1,545.3 161.3,540.2 161.4,543.9 161.5,543.4 161.6,534.7 161.7,545.3 161.9,540.5 162.0,541.5 162.1,537.6 162.2,540.0 162.3,541.2 162.5,541.4 162.6,541.6 162.7,542.4 162.8,539.3 162.9,535.0 163.1,538.1 163.2,536.5 163.3,530.6 163.4,530.0 163.5,531.5 163.5,534.0 163.7,535.2 163.8,536.3 163.9,537.4 164.0,537.9 164.1,536.3 164.3,541.0 164.4,541.0 164.5,542.2 164.6,542.2 164.7,538.1 164.9,540.2 165.0,545.3 165.1,540.2 165.2,541.5 165.3,544.7 165.5,540.6 165.6,541.4 165.7,542.6 165.8,537.3 165.9,541.4 166.1,540.3 166.2,542.0 166.3,543.7 166.4,544.0 166.5,545.3 166.7,545.3 166.8,545.0 166.9,542.5 167.0,545.0 167.1,540.3 167.3,542.4 167.4,545.3 167.5,535.6 167.6,539.3 167.7,541.2 167.9,544.7 168.0,544.0 168.1,545.1 168.2,538.5 168.3,539.6 168.5,542.0 168.6,540.3 168.7,537.6 168.8,542.6 168.9,543.4 169.1,542.3 169.2,543.9 169.3,544.4 169.4,540.6 169.5,539.7 169.7,545.3 169.8,543.0 169.9,543.4 170.0,542.8 170.1,538.5 170.3,543.3 170.4,539.8 170.5,537.4 170.6,541.6 170.7,535.9 170.9,535.1 171.0,534.8 171.1,532.0 171.2,528.5 171.3,532.7 171.5,538.2 171.6,537.1 171.7,534.9 171.8,541.6 171.9,542.4 172.1,544.1 172.2,542.9 172.3,541.4 172.4,543.0 172.5,542.4 172.7,541.4 172.8,543.1 172.9,543.4 173.0,540.2 173.1,545.0 173.3,544.5 173.4,544.4 173.5,528.3 173.6,542.9 173.7,542.3 173.9,540.3 174.0,543.9 174.1,539.1 174.2,545.3 174.3,543.5 174.5,541.4 174.6,545.3 174.7,543.6 174.8,543.3 174.9,539.6 175.1,543.8 175.2,545.3 175.3,545.1 175.4,539.6 175.5,545.3 175.7,545.3 175.8,544.5 175.9,541.7 176.0,539.1 176.1,540.4 176.3,541.2 176.4,543.1 176.5,543.8 176.6,540.8 176.7,538.7 176.9,541.5 177.0,539.4 177.1,545.3 177.2,539.6 177.3,543.5 177.5,544.3 177.6,540.1 177.7,544.7 177.8,542.1 177.9,540.5 178.1,540.2 178.2,542.6 178.3,544.8 178.4,537.9 178.5,543.7 178.7,542.0 178.8,540.5 178.9,542.0 179.0,542.3 179.1,542.1 179.3,544.1 179.4,540.1 179.5,545.3 179.6,544.3 179.7,540.8 179.9,537.7 180.0,542.1 180.1,541.2 180.2,543.9 180.3,543.8 180.5,545.3 180.6,541.8 180.7,543.9 180.8,541.0 180.9,541.1 181.1,545.3 181.2,541.5 181.3,541.5 181.4,540.8 181.5,542.2 181.7,542.6 181.8,540.6 181.9,537.6 182.0,540.2 182.1,536.1 182.3,535.0 182.4,533.3 182.5,529.1 182.6,517.7 182.7,520.2 182.9,502.0 183.0,504.4 183.1,496.7 183.2,481.8 183.3,477.1 183.5,476.2 183.5,475.5 183.6,475.0 183.7,479.2 183.8,488.7 183.9,488.1 184.1,503.2 184.2,513.5 184.3,518.0 184.4,518.6 184.5,529.8 184.7,530.2 184.8,535.3 184.9,538.0 185.0,538.9 185.1,540.5 185.3,541.8 185.4,541.9 185.5,541.8 185.6,540.5 185.7,541.1 185.9,540.8 186.0,540.4 186.1,545.0 186.2,537.4 186.3,542.4 186.5,537.9 186.6,540.0 186.7,542.8 186.8,539.6 186.9,542.5 187.1,535.6 187.2,535.2 187.3,531.9 187.4,530.5 187.5,520.1 187.7,523.4 187.8,521.9 187.9,514.3 188.0,520.0 188.0,519.7 188.1,519.8 188.3,520.8 188.4,521.8 188.5,525.8 188.6,531.4 188.7,529.6 188.9,537.9 189.0,537.1 189.1,537.2 189.2,539.0 189.3,542.4 189.5,542.1 189.6,542.1 189.7,545.3 189.8,545.3 189.9,538.9 190.1,543.9 190.2,540.1 190.3,538.6 190.4,540.6 190.5,544.2 190.7,541.1 190.8,540.7 190.9,545.0 191.0,542.9 191.1,541.4 191.3,545.3 191.4,542.4 191.5,539.2 191.6,537.7 191.7,538.3 191.9,538.3 192.0,538.2 192.1,535.4 192.2,530.3 192.3,523.2 192.5,523.2 192.6,515.9 192.7,507.6 192.8,502.0 192.9,500.9 193.1,498.0 193.2,497.8 193.2,495.9 193.3,501.0 193.4,494.9 193.5,503.1 193.7,504.1 193.8,516.1 193.9,517.0 194.0,525.7 194.1,531.5 194.3,534.0 194.4,532.9 194.5,541.2 194.6,535.1 194.7,540.0 194.9,531.5 195.0,540.1 195.1,540.6 195.2,542.8 195.3,538.8 195.5,542.3 195.6,544.9 195.7,542.1 195.8,543.2 195.9,543.0 196.1,540.3 196.2,541.2 196.3,542.2 196.4,543.2 196.5,545.3 196.7,545.3 196.8,541.0 196.9,541.0 197.0,539.5 197.1,536.5 197.3,544.4 197.4,542.2 197.5,535.9 197.6,539.7 197.7,544.3 197.9,538.9 198.0,537.7 198.1,535.6 198.2,531.8 198.3,529.4 198.5,528.7 198.6,529.7 198.7,527.9 198.8,529.5 198.9,527.9 198.9,529.2 199.1,530.2 199.2,528.2 199.3,527.2 199.4,536.7 199.5,534.8 199.7,537.4 199.8,535.2 199.9,533.5 200.0,541.6 200.1,534.5 200.3,537.2 200.4,539.6 200.5,541.8 200.6,543.5 200.7,543.8 200.9,537.1 201.0,544.4 201.1,537.8 201.2,543.8 201.3,541.3 201.5,539.7 201.6,541.1 201.7,539.3 201.8,542.3 201.9,544.6 202.1,544.3 202.2,542.5 202.3,545.0 202.4,543.6 202.5,545.3 202.7,543.6 202.8,541.0 202.9,541.8 203.0,540.7 203.1,541.8 203.3,542.1 203.4,544.1 203.5,544.3 203.6,542.6 203.7,543.5 203.9,540.7 204.0,541.2 204.1,537.2 204.2,540.6 204.3,541.3 204.5,545.3 204.6,532.7 204.7,542.6 204.8,538.7 204.9,538.7 205.1,539.0 205.2,542.5 205.3,533.0 205.4,537.2 205.5,542.3 205.7,539.1 205.8,544.0 205.9,541.8 206.0,543.7 206.1,541.7 206.3,545.3 206.4,544.1 206.5,545.3 206.6,542.7 206.7,540.1 206.9,539.1 207.0,541.3 207.1,543.1 207.2,541.0 207.3,545.3 207.5,542.3 207.6,543.5 207.7,542.7 207.8,539.5 207.9,542.3 208.1,544.0 208.2,544.5 208.3,540.3 208.4,542.5 208.5,542.4 208.7,545.2 208.8,533.0 208.9,544.1 209.0,545.3 209.1,541.5 209.3,540.6 209.4,545.3 209.5,543.1 209.6,545.1 209.7,544.3 209.9,545.0 210.0,542.1 210.1,537.5 210.2,543.9 210.3,540.9 210.5,543.9 210.6,541.2 210.7,545.3 210.8,541.9 210.9,544.4 211.1,545.0 211.2,542.2 211.3,543.2 211.4,536.4 211.5,540.2 211.7,545.3 211.8,540.2 211.9,538.6 212.0,541.1 212.1,542.6 212.3,542.4 212.4,541.4 212.5,541.1 212.6,537.1 212.7,543.6 212.9,545.3 213.0,540.3 213.1,535.0 213.2,543.8 213.3,541.5 213.5,536.5 213.6,537.5 213.7,538.4 213.8,539.0 213.9,545.3 214.1,543.9 214.2,541.2 214.3,535.5 214.4,545.0 214.5,538.6 214.7,542.7 214.8,539.2 214.9,542.3 215.0,540.3 215.1,537.2 215.3,540.4 215.4,537.7 215.5,538.9 215.6,530.9 215.7,528.9 215.9,522.6 216.0,521.9 216.1,511.0 216.2,505.6 216.3,500.6 216.5,490.0 216.6,474.7 216.7,471.2 216.8,462.8 216.9,456.1 217.1,447.9 217.2,440.2 217.3,443.5 217.4,442.4 217.5,453.0 217.7,455.2 217.8,467.2 217.9,473.3 218.0,480.6 218.1,490.9 218.3,494.1 218.4,505.9 218.5,494.9 218.6,484.9 218.7,468.5 218.9,456.6 219.0,452.7 219.1,441.8 219.2,433.8 219.3,431.0 219.4,430.7 219.5,430.1 219.6,436.4 219.7,441.1 219.8,452.6 219.9,460.0 220.1,469.0 220.2,483.2 220.3,495.3 220.4,493.4 220.5,489.8 220.7,485.0 220.8,484.9 220.9,482.6 221.0,480.0 221.0,478.2 221.1,481.9 221.3,486.8 221.4,488.0 221.5,492.3 221.6,496.1 221.7,505.7 221.9,509.8 222.0,517.3 222.1,519.6 222.2,529.3 222.3,519.6 222.5,528.5 222.6,534.5 222.7,537.2 222.8,540.7 222.9,537.6 223.1,538.4 223.2,539.6 223.3,534.0 223.4,536.0 223.5,543.0 223.7,544.5 223.8,539.8 223.9,539.4 224.0,541.4 224.1,539.9 224.3,543.8 224.4,540.5 224.5,543.5 224.6,539.1 224.7,538.7 224.9,538.4 225.0,538.7 225.1,543.2 225.2,544.2 225.3,542.6 225.5,542.7 225.6,537.0 225.7,544.9 225.8,539.3 225.9,545.3 226.1,545.3 226.2,542.5 226.3,543.8 226.4,543.8 226.5,539.1 226.7,539.6 226.8,540.6 226.9,542.5 227.0,544.1 227.1,542.4 227.3,544.7 227.4,540.8 227.5,538.6 227.6,541.9 227.7,541.5 227.9,538.0 228.0,543.5 228.1,538.4 228.2,538.3 228.3,539.8 228.5,535.6 228.6,538.3 228.7,536.0 228.8,534.1 228.9,530.5 229.1,522.2 229.2,522.8 229.3,522.0 229.4,521.1 229.5,516.4 229.7,512.3 229.8,511.2 229.9,510.0 230.0,502.8 230.1,505.5 230.1,508.5 230.3,504.9 230.4,507.0 230.5,512.0 230.6,513.0 230.7,519.6 230.9,519.5 231.0,525.0 231.1,532.0 231.2,532.5 231.3,529.1 231.5,532.1 231.6,529.4 231.7,534.8 231.8,529.5 231.9,531.6 232.1,531.4 232.2,527.8 232.3,518.9 232.4,516.5 232.5,513.0 232.7,508.6 232.8,511.9 232.9,501.7 233.0,502.1 233.1,504.4 233.1,505.3 233.3,508.9 233.4,510.7 233.5,509.1 233.6,507.6 233.7,517.6 233.9,521.4 234.0,527.2 234.1,522.6 234.2,524.0 234.3,535.6 234.5,538.0 234.6,539.1 234.7,537.5 234.8,539.1 234.9,538.4 235.1,537.4 235.2,536.0 235.3,541.5 235.4,543.4 235.5,544.3 235.7,537.7 235.8,542.6 235.9,543.1 236.0,539.1 236.1,541.4 236.3,542.2 236.4,543.2 236.5,540.1 236.6,540.8 236.7,533.4 236.9,543.0 237.0,541.4 237.1,540.9 237.2,543.8 237.3,541.9 237.5,539.5 237.6,545.0 237.7,544.6 237.8,543.4 237.9,539.9 238.1,544.9 238.2,540.9 238.3,537.8 238.4,535.1 238.5,545.3 238.7,540.9 238.8,543.1 238.9,544.5 239.0,541.2 239.1,539.1 239.3,538.6 239.4,538.2 239.5,533.4 239.6,532.9 239.7,530.6 239.9,525.7 240.0,526.1 240.1,524.2 240.2,522.6 240.2,522.1 240.3,523.6 240.5,524.7 240.6,523.4 240.7,527.9 240.8,533.2 240.9,537.1 241.1,538.9 241.2,537.1 241.3,541.5 241.4,542.4 241.5,539.3 241.7,543.0 241.8,541.6 241.9,541.3 242.0,542.7 242.1,541.8 242.3,537.1 242.4,542.8 242.5,539.7 242.6,536.8 242.7,543.9 242.9,541.8 243.0,541.3 243.1,542.7 243.2,543.5 243.3,540.5 243.5,541.0 243.6,543.6 243.7,545.3 243.8,537.4 243.9,544.4 244.1,540.7 244.2,542.5 244.3,542.6 244.4,539.5 244.5,542.4 244.7,542.0 244.8,537.3 244.9,542.2 245.0,543.1 245.1,543.0 245.3,543.1 245.4,539.9 245.5,540.7 245.6,542.0 245.7,540.4 245.9,541.3 246.0,545.2 246.1,531.9 246.2,541.6 246.3,545.3 246.5,542.1 246.6,540.1 246.7,543.0 246.8,542.8 246.9,542.7 247.1,534.5 247.2,543.1 247.3,543.3 247.4,545.3 247.5,544.0 247.7,541.5 247.8,543.2 247.9,544.1 248.0,542.2 248.1,542.5 248.3,545.3 248.4,543.7 248.5,543.8 248.6,540.4 248.7,543.6 248.9,538.3 249.0,545.3 249.1,541.6 249.2,544.1 249.3,545.3 249.5,540.2 249.6,545.3 249.7,541.0 249.8,545.3 249.9,541.9 250.1,541.1 250.2,545.3 250.3,543.7 250.4,542.8 250.5,540.1 250.7,545.3 250.8,542.0 250.9,542.2 251.0,541.2 251.1,542.8 251.3,544.1 251.4,542.6 251.5,537.7 251.6,541.5 251.7,545.3 251.9,545.3 252.0,542.0 252.1,540.7 252.2,543.3 252.3,539.0 252.5,543.2 252.6,543.3 252.7,543.0 252.8,545.3 252.9,545.3 253.1,543.7 253.2,541.9 253.3,545.0 253.4,545.3 253.5,540.0 253.7,541.0 253.8,542.1 253.9,538.9 254.0,540.1 254.1,545.3 254.3,539.8 254.4,544.6 254.5,540.8 254.6,544.9 254.7,543.4 254.9,544.7 255.0,539.5 255.1,543.3 255.2,541.4 255.3,544.4 255.5,544.3 255.6,543.0 255.7,542.3 255.8,542.6 255.9,543.2 256.1,541.5 256.2,541.6 256.3,536.6 256.4,532.9 256.5,545.0 256.7,539.6 256.8,545.3 256.9,544.2 257.0,538.7 257.1,538.4 257.3,542.6 257.4,540.2 257.5,542.9 257.6,544.7 257.7,543.3 257.9,535.3 258.0,542.1 258.1,545.3 258.2,541.5 258.3,545.3 258.5,539.4 258.6,540.7 258.7,541.7 258.8,544.0 258.9,537.4 259.1,538.4 259.2,538.0 259.3,531.2 259.4,532.4 259.5,530.0 259.7,527.2 259.8,531.3 259.8,527.6 259.9,533.2 260.0,530.8 260.1,525.6 260.3,533.5 260.4,533.3 260.5,538.8 260.6,540.0 260.7,537.2 260.9,536.1 261.0,542.6 261.1,542.1 261.2,539.6 261.3,544.1 261.5,544.5 261.6,537.8 261.7,544.1 261.8,535.7 261.9,536.1 262.1,537.5 262.2,536.9 262.3,537.5 262.4,533.3 262.5,534.4 262.7,536.9 262.8,532.4 262.9,533.0 263.0,529.6 263.1,522.0 263.3,527.6 263.4,523.5 263.5,521.1 263.6,517.0 263.7,515.1 263.9,512.6 264.0,513.6 264.1,513.7 264.2,513.1 264.2,512.9 264.3,509.2 264.5,512.6 264.6,513.6 264.7,517.4 264.8,517.4 264.9,519.3 265.1,522.4 265.2,523.2 265.3,525.7 265.4,530.8 265.5,529.8 265.7,529.9 265.8,534.9 265.9,536.8 266.0,537.7 266.1,534.4 266.3,540.5 266.4,539.2 266.5,540.1 266.6,540.5 266.7,541.8 266.9,542.2 267.0,544.7 267.1,542.2 267.2,541.6 267.3,543.4 267.5,541.8 267.6,544.6 267.7,542.6 267.8,543.9 267.9,541.2 268.1,541.5 268.2,543.8 268.3,540.5 268.4,541.6 268.5,542.6 268.7,539.5 268.8,540.0 268.9,543.6 269.0,543.6 269.1,545.3 269.3,539.6 269.4,541.7 269.5,538.0 269.6,545.3 269.7,539.6 269.9,542.0 270.0,545.3 270.1,545.3 270.2,540.6 270.3,545.3 270.5,543.6 270.6,531.6 270.7,543.1 270.8,544.0 270.9,544.0 271.1,529.5 271.2,545.3 271.3,539.0 271.4,542.1 271.5,545.3 271.7,543.4 271.8,542.5 271.9,541.2 272.0,543.9 272.1,545.3 272.3,541.4 272.4,543.5 272.5,541.8 272.6,541.7 272.7,538.0 272.9,543.2 273.0,544.7 273.1,542.3 273.2,545.0 273.3,543.0 273.5,545.3 273.6,543.0 273.7,541.9 273.8,541.6 273.9,542.9 274.1,543.3 274.2,541.0 274.3,542.4 274.4,539.7 274.5,539.7 274.7,544.1 274.8,543.5 274.9,544.7 275.0,543.0 275.1,543.3 275.3,545.3 275.4,540.9 275.5,543.4 275.6,545.3 275.7,545.3 275.9,544.0 276.0,538.4 276.1,540.4 276.2,536.5 276.3,543.1 276.5,542.8 276.6,543.8 276.7,544.0 276.8,541.7 276.9,540.7 277.1,542.1 277.2,543.7 277.3,545.3 277.4,539.1 277.5,545.1 277.7,542.1 277.8,545.1 277.9,543.5 278.0,543.8 278.1,540.2 278.3,541.8 278.4,543.5 278.5,541.9 278.6,542.5 278.7,541.0 278.9,542.2 279.0,541.3 279.1,544.6 279.2,543.3 279.3,544.3 279.5,539.1 279.6,541.7 279.7,541.0 279.8,541.7 279.9,540.7 280.1,541.1 280.2,545.3 280.3,542.1 280.4,539.9 280.5,542.0 280.7,545.3 280.8,544.2 280.9,540.6 281.0,542.1 281.1,542.5 281.3,542.7 281.4,538.6 281.5,540.6 281.6,542.3 281.7,538.9 281.9,542.2 282.0,542.8 282.1,544.3 282.2,545.0 282.3,542.2 282.5,543.1 282.6,544.1 282.7,544.9 282.8,542.8 282.9,541.0 283.1,543.9 283.2,544.5 283.3,543.0 283.4,543.9 283.5,545.3 283.7,541.5 283.8,541.1 283.9,540.3 284.0,543.4 284.1,544.7 284.3,541.5 284.4,545.3 284.5,541.4 284.6,543.2 284.7,542.4 284.9,545.3 285.0,541.3 285.1,545.3 285.2,542.3 285.3,539.7 285.5,541.4 285.6,542.3 285.7,545.3 285.8,541.6 285.9,542.6 286.1,545.3 286.2,542.9 286.3,541.2 286.4,540.9 286.5,539.1 286.7,537.1 286.8,545.2 286.9,541.7 287.0,540.1 287.1,543.0 287.3,542.3 287.4,541.9 287.5,543.0 287.6,541.8 287.7,540.4 287.9,542.7 288.0,535.4 288.1,527.8 288.2,529.3 288.3,531.5 288.5,535.7 288.6,525.6 288.7,530.3 288.8,529.0 288.9,527.6 288.9,528.6 289.1,527.1 289.2,528.2 289.3,534.8 289.4,533.4 289.5,532.5 289.7,534.8 289.8,535.6 289.9,540.7 290.0,543.4 290.1,540.8 290.3,542.1 290.4,540.9 290.5,544.2 290.6,544.2 290.7,537.6 290.9,545.3 291.0,539.7 291.1,544.2 291.2,539.1 291.3,544.1 291.5,544.3 291.6,544.1 291.7,544.3 291.8,542.3 291.9,541.2 292.1,544.3 292.2,541.2 292.3,544.2 292.4,534.8 292.5,543.4 292.7,543.3 292.8,540.8 292.9,541.9 293.0,544.6 293.1,542.7 293.3,543.8 293.4,541.4 293.5,542.9 293.6,539.4 293.7,540.9 293.9,545.3 294.0,543.8 294.1,542.6 294.2,542.8 294.3,539.5 294.5,543.3 294.6,539.6 294.7,540.6 294.8,543.5 294.9,539.9 295.1,539.8 295.2,539.9 295.3,539.1 295.4,540.2 295.5,531.5 295.7,532.1 295.8,531.9 295.9,527.3 296.0,525.8 296.1,523.9 296.2,525.5 296.3,527.1 296.4,529.3 296.5,529.1 296.6,533.6 296.7,533.1 296.9,531.6 297.0,538.8 297.1,526.5 297.2,539.9 297.3,533.6 297.5,539.0 297.6,536.1 297.7,540.9 297.8,542.5 297.9,541.6 298.1,543.7 298.2,541.6 298.3,543.7 298.4,542.4 298.5,543.0 298.7,542.7 298.8,541.5 298.9,544.9 299.0,543.7 299.1,537.5 299.3,535.0 299.4,545.3 299.5,541.8 299.6,545.3 299.7,543.4 299.9,543.4 300.0,541.4 300.1,541.9 300.2,539.2 300.3,544.3 300.5,542.6 300.6,542.2 300.7,540.2 300.8,541.2 300.9,541.3 301.1,541.9 301.2,540.5 301.3,539.6 301.4,541.2 301.5,536.5 301.7,534.6 301.8,539.5 301.9,541.8 302.0,539.0 302.1,537.7 302.3,540.9 302.4,538.4 302.5,540.8 302.6,536.3 302.7,530.6 302.9,533.5 303.0,536.7 303.1,534.6 303.2,529.9 303.3,530.2 303.5,517.3 303.6,527.4 303.7,524.0 303.8,521.8 303.9,521.1 304.1,520.9 304.2,519.1 304.2,520.4 304.3,517.6 304.4,524.1 304.5,519.6 304.7,522.3 304.8,526.3 304.9,528.2 305.0,530.3 305.1,527.6 305.3,529.5 305.4,531.9 305.5,529.5 305.6,536.8 305.7,532.6 305.9,536.9 306.0,540.0 306.1,534.4 306.2,538.5 306.3,541.9 306.5,542.7 306.6,537.0 306.7,534.7 306.8,542.5 306.9,542.2 307.1,540.9 307.2,541.2 307.3,545.3 307.4,540.8 307.5,543.9 307.7,539.1 307.8,542.8 307.9,544.0 308.0,540.9 308.1,540.5 308.3,545.3 308.4,541.5 308.5,544.1 308.6,538.8 308.7,545.3 308.9,537.7 309.0,540.1 309.1,540.8 309.2,542.0 309.3,542.6 309.5,545.3 309.6,545.3 309.7,545.3 309.8,544.0 309.9,542.7 310.1,537.8 310.2,542.1 310.3,541.1 310.4,543.7 310.5,540.2 310.7,540.5 310.8,540.7 310.9,543.8 311.0,542.7 311.1,540.2 311.3,538.6 311.4,535.6 311.5,541.0 311.6,541.2 311.7,542.6 311.9,544.0 312.0,544.1 312.1,540.9 312.2,540.7 312.3,545.3 312.5,541.9 312.6,544.0 312.7,542.8 312.8,543.3 312.9,545.3 313.1,542.0 313.2,544.9 313.3,543.6 313.4,542.2 313.5,541.5 313.7,541.4 313.8,545.0 313.9,544.7 314.0,540.7 314.1,543.4 314.3,538.6 314.4,542.7 314.5,545.3 314.6,540.0 314.7,543.2 314.9,541.2 315.0,542.7 315.1,540.3 315.2,543.0 315.3,537.5 315.5,542.0 315.6,541.9 315.7,542.3 315.8,545.3 315.9,540.0 316.1,541.0 316.2,539.6 316.3,543.6 316.4,542.5 316.5,539.9 316.7,544.5 316.8,543.1 316.9,545.3 317.0,544.2 317.1,542.7 317.3,540.8 317.4,537.8 317.5,541.2 317.6,544.9 317.7,542.0 317.9,540.6 318.0,543.0 318.1,544.1 318.2,545.3 318.3,540.3 318.5,541.7 318.6,539.9 318.7,540.8 318.8,544.4 318.9,542.2 319.1,539.2 319.2,545.3 319.3,540.8 319.4,544.2 319.5,540.2 319.7,540.1 319.8,545.2 319.9,540.2 320.0,541.2 320.1,539.2 320.3,545.3 320.4,540.9 320.5,542.0 320.6,540.7 320.7,540.9 320.9,539.8 321.0,544.8 321.1,540.9 321.2,545.3 321.3,539.5 321.5,543.4 321.6,544.5 321.7,539.8 321.8,542.9 321.9,541.1 322.1,539.9 322.2,541.4 322.3,538.2 322.4,541.6 322.5,538.9 322.7,543.7 322.8,545.3 322.9,545.3 323.0,540.7 323.1,542.0 323.3,545.3 323.4,545.1 323.5,543.7 323.6,537.6 323.7,541.6 323.9,545.3 324.0,543.3 324.1,541.3 324.2,542.5 324.3,545.3 324.5,545.2 324.6,539.5 324.7,539.8 324.8,542.4 324.9,545.2 325.1,540.6 325.2,536.8 325.3,537.3 325.4,540.9 325.5,543.6 325.7,543.6 325.8,539.0 325.9,544.0 326.0,540.4 326.1,539.0 326.3,543.3 326.4,538.5 326.5,541.1 326.6,540.2 326.7,541.8 326.9,542.6 327.0,541.1 327.1,540.2 327.2,540.9 327.3,537.3 327.5,541.8 327.6,545.3 327.7,542.9 327.8,544.8 327.9,542.2 328.1,542.3 328.2,543.2 328.3,543.8 328.4,543.7 328.5,540.4 328.7,542.3 328.8,531.7 328.9,544.6 329.0,542.2 329.1,535.1 329.3,539.4 329.4,543.3 329.5,544.5 329.6,543.4 329.7,544.7 329.9,534.4 330.0,544.3 330.1,542.2 330.2,537.0 330.3,542.7 330.5,539.6 330.6,535.3 330.7,539.8 330.8,538.7 330.9,542.3 331.1,537.5 331.2,537.8 331.3,537.3 331.4,533.0 331.5,529.2 331.7,530.6 331.8,529.1 331.9,529.0 332.0,529.6 332.1,533.3 332.3,534.3 332.4,537.4 332.5,538.9 332.6,538.0 332.7,539.0 332.9,537.6 333.0,543.6 333.1,540.2 333.2,543.2 333.3,545.3 333.5,542.6 333.6,539.0 333.7,540.1 333.8,541.6 333.9,545.3 334.1,541.7 334.2,542.2 334.3,540.1 334.4,543.3 334.5,542.7 334.7,544.4 334.8,540.4 334.9,543.9 335.0,539.3 335.1,536.9 335.3,536.4 335.4,542.0 335.5,543.4 335.6,537.3 335.7,542.3 335.9,541.6 336.0,539.4 336.1,541.8 336.2,543.5 336.3,541.5 336.5,541.4 336.6,544.0 336.7,540.8 336.8,544.9 336.9,543.4 337.1,543.5 337.2,540.1 337.3,541.8 337.4,540.9 337.5,545.1 337.7,540.5 337.8,543.4 337.9,543.9 338.0,542.9 338.1,540.0 338.3,539.7 338.4,540.0 338.5,542.4 338.6,542.9 338.7,543.8 338.9,539.0 339.0,543.2 339.1,544.8 339.2,542.8 339.3,542.4 339.5,544.2 339.6,545.3 339.7,545.3 339.8,545.3 339.9,539.0 340.1,536.5 340.2,540.3 340.3,542.1 340.4,537.6 340.5,538.3 340.7,528.1 340.8,532.8 340.9,535.7 341.0,526.7 341.1,530.1 341.3,527.3 341.3,527.0 341.4,530.3 341.5,528.4 341.6,528.7 341.7,532.8 341.9,532.4 342.0,540.1 342.1,534.6 342.2,538.3 342.3,535.9 342.5,541.8 342.6,543.6 342.7,544.2 342.8,545.3 342.9,542.4 343.1,541.4 343.2,544.6 343.3,541.2 343.4,543.4 343.5,541.6 343.7,541.0 343.8,542.5 343.9,545.2 344.0,544.8 344.1,543.0 344.3,537.2 344.4,542.8 344.5,543.6 344.6,544.0 344.7,536.3 344.9,545.0 345.0,543.5 345.1,538.4 345.2,544.4 345.3,545.3 345.5,543.3 345.6,540.9 345.7,545.3 345.8,540.4 345.9,538.5 346.1,545.0 346.2,543.5 346.3,543.2 346.4,538.4 346.5,538.4 346.7,542.4 346.8,545.3 346.9,541.3 347.0,540.2 347.1,537.3 347.3,536.2 347.4,537.4 347.5,531.1 347.6,535.0 347.7,529.8 347.9,528.0 348.0,521.3 348.0,526.5 348.1,519.6 348.2,524.7 348.3,530.0 348.5,527.6 348.6,539.2 348.7,536.1 348.8,534.4 348.9,539.9 349.1,540.6 349.2,535.8 349.3,542.1 349.4,540.0 349.5,541.7 349.7,541.7 349.8,543.3 349.9,540.9 350.0,542.9 350.1,537.1 350.3,544.7 350.4,542.7 350.5,543.6 350.6,541.8 350.7,544.3 350.9,542.2 351.0,542.8 351.1,542.5 351.2,541.1 351.3,540.2 351.5,543.5 351.6,543.7 351.7,542.2 351.8,545.1 351.9,542.5 352.1,543.3 352.2,544.7 352.3,543.7 352.4,541.5 352.5,539.2 352.7,539.5 352.8,538.2 352.9,541.4 353.0,532.8 353.1,540.7 353.3,531.4 353.4,532.8 353.5,527.6 353.6,524.6 353.7,513.2 353.9,520.4 354.0,516.8 354.0,517.0 354.1,515.4 354.2,519.3 354.3,520.7 354.5,526.4 354.6,528.3 354.7,532.0 354.8,533.9 354.9,538.7 355.1,539.0 355.2,539.7 355.3,536.7 355.4,544.0 355.5,542.3 355.7,541.5 355.8,542.7 355.9,534.7 356.0,533.6 356.1,543.5 356.3,538.9 356.4,541.7 356.5,543.0 356.6,538.9 356.7,540.0 356.9,545.3 357.0,545.3 357.1,543.2 357.2,544.0 357.3,540.5 357.5,545.3 357.6,542.3 357.7,542.6 357.8,543.3 357.9,541.0 358.1,540.6 358.2,541.9 358.3,539.2 358.4,539.7 358.5,534.8 358.7,536.7 358.8,538.4 358.9,537.9 359.0,534.3 359.1,528.5 359.3,528.1 359.4,523.6 359.5,522.0 359.6,524.0 359.6,523.2 359.7,521.1 359.9,526.8 360.0,530.8 360.1,531.5 360.2,533.2 360.3,536.8 360.5,537.8 360.6,538.7 360.7,535.5 360.8,539.3 360.9,541.5 361.1,539.8 361.2,545.3 361.3,545.3 361.4,541.1 361.5,540.3 361.7,543.3 361.8,542.8 361.9,542.1 362.0,537.0 362.1,541.7 362.3,542.1 362.4,538.5 362.5,539.7 362.6,532.4 362.7,533.1 362.9,533.3 363.0,527.8 363.0,529.5 363.1,528.4 363.2,533.1 363.3,530.0 363.5,532.2 363.6,534.9 363.7,539.8 363.8,538.1 363.9,540.0 364.1,541.8 364.2,540.1 364.3,541.2 364.4,541.9 364.5,541.4 364.7,543.3 364.8,541.0 364.9,542.9 365.0,542.0 365.1,541.3 365.3,540.2 365.4,538.4 365.5,541.1 365.6,543.9 365.7,541.9 365.9,545.3 366.0,540.4 366.1,541.7 366.2,539.0 366.3,545.1 366.5,539.5 366.6,543.5 366.7,543.2 366.8,545.3 366.9,545.3 367.1,544.3 367.2,542.9 367.3,545.3 367.4,541.8 367.5,539.8 367.7,536.8 367.8,542.5 367.9,541.0 368.0,543.4 368.1,537.6 368.3,539.1 368.4,544.8 368.5,545.3 368.6,541.7 368.7,539.2 368.9,537.1 369.0,542.4 369.1,544.4 369.2,544.7 369.3,542.4 369.5,545.3 369.6,538.3 369.7,541.1 369.8,543.1 369.9,543.6 370.1,542.5 370.2,543.7 370.3,539.7 370.4,537.4 370.5,544.6 370.7,541.3 370.8,542.7 370.9,540.0 371.0,541.1 371.1,544.1 371.3,543.2 371.4,545.3 371.5,545.3 371.6,545.3 371.7,542.2 371.9,545.1 372.0,543.9 372.1,543.2 372.2,540.1 372.3,542.5 372.5,540.4 372.6,543.5 372.7,540.9 372.8,542.6 372.9,544.5 373.1,544.5 373.2,538.5 373.3,541.1 373.4,540.2 373.5,543.3 373.7,541.0 373.8,544.8 373.9,541.6 374.0,543.7 374.1,540.4 374.3,540.9 374.4,542.0 374.5,543.6 374.6,535.7 374.7,542.8 374.9,539.3 375.0,543.0 375.1,538.5 375.2,541.6 375.3,545.3 375.5,545.3 375.6,540.2 375.7,545.3 375.8,541.5 375.9,542.6 376.1,543.7 376.2,542.7 376.3,543.3 376.4,542.9 376.5,544.4 376.7,543.0 376.8,535.9 376.9,540.2 377.0,540.1 377.1,542.3 377.3,544.1 377.4,543.2 377.5,541.7 377.6,543.4 377.7,541.1 377.9,542.7 378.0,543.4 378.1,541.6 378.2,545.3 378.3,545.0 378.5,541.8 378.6,543.8 378.7,542.9 378.8,543.2 378.9,543.2 379.1,545.3 379.2,543.2 379.3,543.1 379.4,544.6 379.5,544.5 379.7,545.3 379.8,540.7 379.9,544.0 380.0,538.4 380.1,542.6 380.3,531.9 380.4,539.6 380.5,542.3 380.6,540.2 380.7,541.9 380.9,537.3 381.0,545.3 381.1,537.3 381.2,541.1 381.3,545.3 381.5,539.5 381.6,545.3 381.7,545.1 381.8,542.4 381.9,537.4 382.1,541.9 382.2,543.2 382.3,544.8 382.4,545.3 382.5,530.4 382.7,538.2 382.8,544.0 382.9,539.8 383.0,544.6 383.1,544.7 383.3,544.7 383.4,542.4 383.5,544.4 383.6,545.3 383.7,541.1 383.9,541.5 384.0,541.3 384.1,545.2 384.2,542.6 384.3,540.9 384.5,540.3 384.6,539.7 384.7,543.1 384.8,544.5 384.9,542.0 385.1,540.3 385.2,540.4 385.3,540.4 385.4,540.6 385.5,539.1 385.7,545.3 385.8,543.5 385.9,541.3 386.0,530.7 386.1,545.3 386.3,544.2 386.4,542.7 386.5,544.0 386.6,540.8 386.7,543.8 386.9,541.1 387.0,543.3 387.1,541.9 387.2,539.2 387.3,539.7 387.5,544.4 387.6,543.9 387.7,540.9 387.8,539.1 387.9,538.7 388.1,539.4 388.2,533.9 388.3,537.4 388.4,531.3 388.5,528.7 388.7,529.4 388.8,532.6 388.9,528.0 389.0,521.6 389.1,526.9 389.3,531.8 389.4,533.8 389.5,535.2 389.6,536.1 389.7,539.4 389.9,541.6 390.0,539.6 390.1,540.7 390.2,540.2 390.3,540.7 390.5,544.8 390.6,539.9 390.7,542.6 390.8,544.6 390.9,541.1 391.1,543.6 391.2,544.0 391.3,539.0 391.4,544.5 391.5,540.0 391.7,542.6 391.8,538.9 391.9,538.7 392.0,541.8 392.1,545.3 392.3,545.3 392.4,545.3 392.5,538.0 392.6,545.1 392.7,544.2 392.9,544.0 393.0,541.6 393.1,541.4 393.2,543.4 393.3,535.1 393.5,541.1 393.6,539.8 393.7,540.8 393.8,545.3 393.9,540.9 394.1,545.3 394.2,545.3 394.3,545.0 394.4,541.1 394.5,545.3 394.7,543.2 394.8,538.7 394.9,540.9 395.0,542.2 395.1,545.3 395.3,539.6 395.4,541.0 395.5,542.5 395.6,543.6 395.7,540.1 395.9,540.2 396.0,541.2 396.1,544.0 396.2,542.1 396.3,542.0 396.5,542.9 396.6,542.7 396.7,544.6 396.8,540.8 396.9,542.5 397.1,541.0 397.2,544.1 397.3,544.4 397.4,541.9 397.5,545.2 397.7,542.1 397.8,545.3 397.9,541.6 398.0,541.5 398.1,539.1 398.3,540.2 398.4,541.6 398.5,537.7 398.6,542.4 398.7,544.4 398.9,543.7 399.0,542.9 399.1,544.0 399.2,541.2 399.3,541.4 399.5,544.4 399.6,542.2 399.7,544.7 399.8,541.4 399.9,544.0 400.1,545.3 400.2,542.3 400.3,545.3 400.4,545.3 400.5,537.3 400.7,545.3 400.8,538.8 400.9,545.3 401.0,540.4 401.1,537.6 401.3,539.3 401.4,543.5 401.5,540.1 401.6,541.1 401.7,545.2 401.9,540.1 402.0,543.5 402.1,545.3 402.2,538.1 402.3,539.6 402.5,542.8 402.6,538.9 402.7,542.8 402.8,537.3 402.9,531.8 403.1,542.1 403.2,541.9 403.3,542.6 403.4,537.6 403.5,535.4 403.7,533.1 403.8,524.4 403.9,527.3 404.0,534.6 404.1,529.0 404.2,530.0 404.3,528.5 404.4,532.0 404.5,532.2 404.6,531.8 404.7,537.6 404.9,537.6 405.0,538.0 405.1,539.6 405.2,543.2 405.3,542.8 405.5,541.4 405.6,544.3 405.7,537.1 405.8,543.8 405.9,540.3 406.1,540.8 406.2,534.4 406.3,545.3 406.4,541.9 406.5,542.0 406.7,543.7 406.8,537.7 406.9,541.8 407.0,543.9 407.1,540.1 407.3,543.7 407.4,540.6 407.5,538.9 407.6,544.4 407.7,542.5 407.9,544.1 408.0,542.8 408.1,539.9 408.2,544.7 408.3,543.3 408.5,543.3 408.6,541.4 408.7,539.7 408.8,545.3 408.9,543.8 409.1,542.1 409.2,539.8 409.3,543.6 409.4,537.6 409.5,536.6 409.7,541.8 409.8,536.6 409.9,535.5 410.0,533.5 410.1,535.5 410.3,531.0 410.3,530.0 410.4,528.2 410.5,531.1 410.6,528.9 410.7,533.2 410.9,535.7 411.0,539.1 411.1,541.9 411.2,538.4 411.3,538.4 411.5,542.0 411.6,539.8 411.7,545.3 411.8,545.1 411.9,534.9 412.1,542.9 412.2,545.3 412.3,540.4 412.4,541.4 412.5,542.3 412.7,545.3 412.8,543.6 412.9,542.0 413.0,543.3 413.1,542.6 413.3,542.9 413.4,543.6 413.5,543.1 413.6,544.0 413.7,542.5 413.9,541.9 414.0,541.8 414.1,538.8 414.2,534.0 414.3,545.3 414.5,542.4 414.6,543.7 414.7,544.4 414.8,541.4 414.9,541.7 415.1,543.6 415.2,540.3 415.3,544.5 415.4,544.0 415.5,543.0 415.7,543.0 415.8,544.1 415.9,542.7 416.0,537.3 416.1,543.6 416.3,540.3 416.4,541.3 416.5,541.5 416.6,541.5 416.7,538.7 416.9,538.2 417.0,542.3 417.1,542.6 417.2,543.5 417.3,539.6 417.5,541.9 417.6,544.4 417.7,541.7 417.8,541.2 417.9,545.3 418.1,538.8 418.2,540.7 418.3,540.1 418.4,541.4 418.5,541.1 418.7,540.2 418.8,542.0 418.9,541.4 419.0,540.8 419.1,544.5 419.3,541.6 419.4,545.1 419.5,545.3 419.6,541.5 419.7,545.3 419.9,539.9 420.0,543.4 420.1,545.1 420.2,540.4 420.3,542.6 420.5,543.8 420.6,544.1 420.7,539.6 420.8,539.5 420.9,542.4 421.1,545.3 421.2,545.3 421.3,541.3 421.4,541.8 421.5,540.4 421.7,544.4 421.8,545.3 421.9,538.8 422.0,540.6 422.1,541.4 422.3,545.3 422.4,541.9 422.5,543.7 422.6,540.0 422.7,544.8 422.9,540.4 423.0,542.6 423.1,540.4 423.2,542.6 423.3,542.5 423.5,543.3 423.6,543.3 423.7,545.3 423.8,541.1 423.9,545.3 424.1,543.5 424.2,542.4 424.3,543.5 424.4,543.4 424.5,544.7 424.7,544.7 424.8,544.2 424.9,543.4 425.0,539.2 425.1,538.8 425.3,545.3 425.4,543.7 425.5,543.5 425.6,540.9 425.7,543.5 425.9,544.8 426.0,539.8 426.1,541.7 426.2,541.6 426.3,545.3 426.5,541.8 426.6,538.6 426.7,543.1 426.8,545.3 426.9,542.4 427.1,541.8 427.2,535.5 427.3,545.3 427.4,542.2 427.5,542.1 427.7,543.7 427.8,541.0 427.9,538.9 428.0,543.1 428.1,541.9 428.3,543.6 428.4,543.1 428.5,543.9 428.6,540.3 428.7,543.5 428.9,540.7 429.0,543.5 429.1,541.8 429.2,545.3 429.3,540.7 429.5,537.6 429.6,543.0 429.7,541.7 429.8,540.6 429.9,543.2 430.1,545.3 430.2,542.3 430.3,541.1 430.4,545.3 430.5,545.2 430.7,542.7 430.8,541.4 430.9,544.3 431.0,541.1 431.1,541.2 431.3,540.8 431.4,543.8 431.5,545.3 431.6,542.7 431.7,541.1 431.9,538.1 432.0,542.5 432.1,538.7 432.2,544.6 432.3,545.3 432.5,538.5 432.6,540.8 432.7,542.7 432.8,539.1 432.9,540.5 433.1,536.6 433.2,542.6 433.3,540.7 433.4,539.8 433.5,540.6 433.7,542.1 433.8,542.5 433.9,541.9 434.0,545.1 434.1,541.5 434.3,542.5 434.4,543.7 434.5,541.5 434.6,545.3 434.7,544.1 434.9,544.1 435.0,540.4 435.1,542.0 435.2,543.6 435.3,544.8 435.5,533.6 435.6,541.2 435.7,539.4 435.8,539.0 435.9,542.1 436.1,542.4 436.2,543.7 436.3,544.9 436.4,542.4 436.5,542.7 436.7,540.1 436.8,541.1 436.9,543.5 437.0,545.3 437.1,544.8 437.3,541.0 437.4,540.8 437.5,544.1 437.6,543.6 437.7,543.8 437.9,543.1 438.0,545.3 438.1,543.2 438.2,545.3 438.3,543.8 438.5,542.6 438.6,540.1 438.7,543.3 438.8,544.6 438.9,543.0 439.1,540.4 439.2,538.5 439.3,542.0 439.4,545.3 439.5,540.1 439.7,541.6 439.8,543.0 439.9,544.8 440.0,540.4 440.1,542.7 440.3,543.3 440.4,540.0 440.5,543.5 440.6,540.3 440.7,543.0 440.9,544.0 441.0,542.8 441.1,539.8 441.2,544.2 441.3,544.2 441.5,542.9 441.6,544.4 441.7,541.6 441.8,540.7 441.9,542.2 442.1,543.7 442.2,544.6 442.3,541.0 442.4,543.1 442.5,534.5 442.7,541.5 442.8,538.1 442.9,538.7 443.0,544.6 443.1,539.1 443.3,538.5 443.4,539.2 443.5,541.7 443.6,545.3 443.7,543.2 443.9,537.7 444.0,541.6 444.1,543.2 444.2,542.2 444.3,538.0 444.5,544.4 444.6,543.2 444.7,538.1 444.8,539.0 444.9,539.3 445.1,537.5 445.2,534.4 445.3,533.6 445.4,535.9 445.5,530.0 445.7,532.2 445.7,530.0 445.8,527.6 445.9,532.5 446.0,533.2 446.1,536.7 446.3,539.4 446.4,539.8 446.5,539.6 446.6,541.2 446.7,542.8 446.9,539.7 447.0,539.7 447.1,543.9 447.2,539.8 447.3,541.8 447.5,545.3 447.6,544.5 447.7,545.3 447.8,542.5 447.9,545.1 448.1,540.7 448.2,540.8 448.3,542.2 448.4,541.0 448.5,545.3 448.7,542.2 448.8,540.0 448.9,544.6 449.0,544.2 449.1,545.2 449.3,539.9 449.4,537.9 449.5,537.5 449.6,537.9 449.7,542.4 449.9,541.3 450.0,545.3 450.1,540.9 450.2,541.4 450.3,540.6 450.5,540.2 450.6,542.4 450.7,542.1 450.8,541.7 450.9,540.0 451.1,539.5 451.2,541.1 451.3,542.3 451.4,540.5 451.5,541.5 451.7,541.6 451.8,540.3 451.9,539.1 452.0,542.1 452.1,545.3 452.3,543.5 452.4,542.2 452.5,540.9 452.6,541.0 452.7,544.9 452.9,539.9 453.0,545.3 453.1,542.7 453.2,543.3 453.3,541.8 453.5,544.8 453.6,544.7 453.7,541.0 453.8,545.3 453.9,543.1 454.1,539.3 454.2,543.8 454.3,543.4 454.4,543.1 454.5,544.6 454.7,545.1 454.8,540.0 454.9,542.2 455.0,542.4 455.1,542.8 455.3,538.7 455.4,543.3 455.5,542.8 455.6,545.3 455.7,540.8 455.9,541.6 456.0,543.7 456.1,542.7 456.2,544.7 456.3,545.3 456.5,540.7 456.6,542.9 456.7,544.2 456.8,541.0 456.9,545.3 457.1,543.4 457.2,543.1 457.3,539.3 457.4,541.2 457.5,538.2 457.7,544.2 457.8,540.9 457.9,542.8 458.0,541.4 458.1,543.1 458.3,541.7 458.4,544.3 458.5,540.1 458.6,538.4 458.7,539.3 458.9,544.3 459.0,545.3 459.1,541.1 459.2,541.3 459.3,543.4 459.5,539.5 459.6,541.4 459.7,539.3 459.8,542.6 459.9,537.3 460.1,539.0 460.2,538.5 460.3,542.3 460.4,543.5 460.5,542.3 460.7,545.3 460.8,542.5 460.9,540.2 461.0,541.4 461.1,543.9 461.3,543.5 461.4,545.3 461.5,542.9 461.6,540.3 461.7,540.0 461.9,544.2 462.0,528.7 462.1,541.2 462.2,544.3 462.3,541.4 462.5,543.0 462.6,545.3 462.7,545.3 462.8,545.3 462.9,544.7 463.1,542.1 463.2,539.8 463.3,537.7 463.4,545.3 463.5,544.8 463.7,539.6 463.8,544.9 463.9,541.5 464.0,541.3 464.1,539.7 464.3,545.3 464.4,539.3 464.5,539.9 464.6,544.1 464.7,544.4 464.9,543.7 465.0,540.1 465.1,542.0 465.2,540.5 465.3,541.3 465.5,545.3 465.6,543.1 465.7,544.3 465.8,540.4 465.9,541.3 466.1,543.5 466.2,545.3 466.3,542.1 466.4,545.3 466.5,545.3 466.7,538.4 466.8,542.5 466.9,544.0 467.0,542.0 467.1,545.3 467.3,542.8 467.4,543.3 467.5,538.8 467.6,544.8 467.7,541.7 467.9,543.5 468.0,541.8 468.1,540.9 468.2,542.0 468.3,539.5 468.5,541.8 468.6,544.9 468.7,544.6 468.8,532.2 468.9,544.3 469.1,541.4 469.2,540.8 469.3,543.6 469.4,543.8 469.5,540.6 469.7,544.0 469.8,541.5 469.9,545.3 470.0,536.9 470.1,538.8 470.3,537.4 470.4,534.5 470.5,531.7 470.6,535.9 470.7,532.2 470.9,527.2 471.0,528.7 471.0,530.0 471.1,530.9 471.2,528.8 471.3,535.9 471.5,534.3 471.6,539.2 471.7,538.8 471.8,538.4 471.9,539.7 472.1,541.8 472.2,541.8 472.3,542.4 472.4,543.8 472.5,545.0 472.7,540.0 472.8,538.6 472.9,540.3 473.0,545.2 473.1,542.0 473.3,541.0 473.4,543.3 473.5,544.2 473.6,539.9 473.7,540.2 473.9,542.4 474.0,542.3 474.1,540.8 474.2,545.3 474.3,545.3 474.5,542.2 474.6,544.1 474.7,539.8 474.8,544.7 474.9,542.1 475.1,540.9 475.2,539.4 475.3,544.4 475.4,542.7 475.5,541.2 475.7,544.9 475.8,542.0 475.9,543.1 476.0,541.4 476.1,543.5 476.3,539.9 476.4,541.6 476.5,542.7 476.6,540.6 476.7,541.3 476.9,544.2 477.0,541.4 477.1,540.5 477.2,543.5 477.3,542.6 477.5,539.1 477.6,545.3 477.7,545.3 477.8,543.2 477.9,542.9 478.1,542.7 478.2,541.6 478.3,542.0 478.4,543.5 478.5,539.1 478.7,542.5 478.8,543.5 478.9,538.6 479.0,541.1 479.1,539.0 479.3,539.3 479.4,543.8 479.5,539.8 479.6,545.3 479.7,542.1 479.9,540.6 480.0,541.8 480.1,542.4 480.2,543.1 480.3,543.2 480.5,543.2 480.6,545.0 480.7,545.2 480.8,542.7 480.9,543.3 481.1,540.8 481.2,541.1 481.3,541.6 481.4,545.3 481.5,540.9 481.7,540.7 481.8,542.8 481.9,544.4 482.0,541.2 482.1,541.7 482.3,545.0 482.4,543.1 482.5,535.4 482.6,545.3 482.7,542.9 482.9,541.4 483.0,544.7 483.1,545.3 483.2,541.7 483.3,540.3 483.5,537.3 483.6,545.3 483.7,541.4 483.8,534.8 483.9,540.3 484.1,542.2 484.2,540.2 484.3,545.3 484.4,544.2 484.5,541.4 484.7,539.8 484.8,544.0 484.9,540.7 485.0,545.3 485.1,543.3 485.3,542.6 485.4,539.9 485.5,543.2 485.6,539.6 485.7,545.3 485.9,538.1 486.0,541.8 486.1,545.3 486.2,533.4 486.3,544.3 486.5,545.1 486.6,543.5 486.7,542.4 486.8,545.0 486.9,545.1 487.1,541.4 487.2,545.3 487.3,545.3 487.4,540.4 487.5,543.9 487.7,544.0 487.8,543.1 487.9,541.3 488.0,540.0 488.1,543.9 488.3,539.1 488.4,541.4 488.5,538.3 488.6,541.1 488.7,543.1 488.9,539.5 489.0,544.5 489.1,544.9 489.2,543.7 489.3,544.2 489.5,545.3 489.6,544.4 489.7,538.9 489.8,542.4 489.9,540.8 490.1,542.8 490.2,538.9 490.3,542.9 490.4,542.1 490.5,544.0 490.7,540.5 490.8,542.1 490.9,537.9 491.0,542.3 491.1,542.6 491.3,539.6 491.4,542.7 491.5,539.5 491.6,543.7 491.7,540.7 491.9,541.6 492.0,543.4 492.1,543.7 492.2,545.3 492.3,539.0 492.5,541.5 492.6,544.8 492.7,541.2 492.8,539.7 492.9,537.6 493.1,534.6 493.2,537.2 493.3,534.3 493.4,534.8 493.5,530.7 493.6,533.0 493.7,532.0 493.8,534.4 493.9,537.1 494.0,539.0 494.1,537.4 494.3,536.6 494.4,543.2 494.5,543.6 494.6,540.0 494.7,545.0 494.9,543.6 495.0,536.2 495.1,543.1 495.2,540.0 495.3,542.0 495.5,542.0 495.6,542.8 495.7,545.3 495.8,539.6 495.9,537.2 496.1,544.5 496.2,542.3 496.3,545.1 496.4,544.9 496.5,545.3 496.7,531.6 496.8,545.3 496.9,542.9 497.0,541.9 497.1,545.3 497.3,545.3 497.4,539.9 497.5,532.6 497.6,543.9 497.7,539.9 497.9,543.9 498.0,544.2 498.1,542.6 498.2,541.9 498.3,544.9 498.5,542.6 498.6,540.8 498.7,544.5 498.8,539.6 498.9,542.0 499.1,544.1 499.2,539.8 499.3,545.3 499.4,543.8 499.5,542.9 499.7,540.7 499.8,540.8 499.9,542.3 500.0,543.9 500.1,541.7 500.3,543.6 500.4,539.6 500.5,539.5 500.6,541.2 500.7,538.3 500.9,542.2 501.0,542.9 501.1,538.9 501.2,542.3 501.3,541.2 501.5,541.1 501.6,545.3 501.7,541.8 501.8,539.4 501.9,541.2 502.1,541.4 502.2,542.3 502.3,542.7 502.4,542.1 502.5,545.0 502.7,542.1 502.8,542.4 502.9,545.3 503.0,543.2 503.1,544.6 503.3,544.3 503.4,541.8 503.5,545.3 503.6,543.3 503.7,543.1 503.9,543.0 504.0,543.6"/>
<text class="s" font-size="10.6" transform="matrix(1.250 0 0 1 79.31 498.3)"><tspan fill="#14a014" stroke="#14a014">Mnt</tspan></text>
<text class="s" font-size="10.6" transform="matrix(1.181 0 0 1 121.09 516.1)"><tspan fill="#1414d2" stroke="#1414d2">An</tspan></text>
<text class="s" font-size="10.6" transform="matrix(1.237 0 0 1 142.17 518.1)"><tspan fill="#1414d2" stroke="#1414d2">An</tspan><tspan fill="#1414d2" stroke="#1414d2">,</tspan><tspan fill="#b41eb4" stroke="#b41eb4">Aug</tspan></text>
<text class="s" font-size="10.6" transform="matrix(1.278 0 0 1 157.69 504.9)"><tspan fill="#14a014" stroke="#14a014">Mnt</tspan></text>
<text class="s" font-size="10.6" transform="matrix(1.189 0 0 1 172.69 469.8)"><tspan fill="#1414d2" stroke="#1414d2">An</tspan></text>
<text class="s" font-size="10.6" transform="matrix(1.242 0 0 1 184.17 480.8)"><tspan fill="#1414d2" stroke="#1414d2">An</tspan></text>
<text class="s" font-size="10.6" transform="matrix(1.310 0 0 1 194.75 489.6)"><tspan fill="#1414d2" stroke="#1414d2">An</tspan></text>
<text class="s" font-size="10.6" transform="matrix(1.189 0 0 1 197.09 512.6)"><tspan fill="#1414d2" stroke="#1414d2">An</tspan></text>
<text class="s" font-size="10.6" transform="matrix(1.264 0 0 1 198.67 427.8)"><tspan fill="#1414d2" stroke="#1414d2">An</tspan><tspan fill="#1414d2" stroke="#1414d2">,</tspan><tspan fill="#b41eb4" stroke="#b41eb4">Aug</tspan></text>
<text class="s" font-size="10.6" transform="matrix(1.226 0 0 1 226.98 468.2)"><tspan fill="#1414d2" stroke="#1414d2">An</tspan></text>
<text class="s" font-size="10.6" transform="matrix(1.223 0 0 1 232.58 485.4)"><tspan fill="#b41eb4" stroke="#b41eb4">Aug</tspan></text>
<text class="s" font-size="10.6" transform="matrix(1.248 0 0 1 236.67 495.9)"><tspan fill="#1414d2" stroke="#1414d2">An</tspan><tspan fill="#1414d2" stroke="#1414d2">,</tspan><tspan fill="#b41eb4" stroke="#b41eb4">Aug</tspan></text>
<text class="s" font-size="10.6" transform="matrix(1.234 0 0 1 234.97 519)"><tspan fill="#1414d2" stroke="#1414d2">An</tspan></text>
<text class="s" font-size="10.6" transform="matrix(1.264 0 0 1 242.97 511.1)"><tspan fill="#1414d2" stroke="#1414d2">An</tspan><tspan fill="#1414d2" stroke="#1414d2">,</tspan><tspan fill="#14a014" stroke="#14a014">Mnt</tspan><tspan fill="#14a014" stroke="#14a014">,</tspan><tspan fill="#b41eb4" stroke="#b41eb4">Aug</tspan></text>
<text class="s" font-size="10.6" transform="matrix(1.256 0 0 1 268.97 478.8)"><tspan fill="#1414d2" stroke="#1414d2">An</tspan><tspan fill="#1414d2" stroke="#1414d2">,</tspan><tspan fill="#b41eb4" stroke="#b41eb4">Aug</tspan></text>
<text class="s" font-size="10.6" transform="matrix(1.253 0 0 1 286.77 498.4)"><tspan fill="#1414d2" stroke="#1414d2">An</tspan><tspan fill="#1414d2" stroke="#1414d2">,</tspan><tspan fill="#b41eb4" stroke="#b41eb4">Aug</tspan></text>
<text class="s" font-size="10.6" transform="matrix(1.211 0 0 1 278.48 523.2)"><tspan fill="#1414d2" stroke="#1414d2">An</tspan></text>
<text class="s" font-size="10.6" transform="matrix(1.284 0 0 1 320.76 507.7)"><tspan fill="#1414d2" stroke="#1414d2">An</tspan><tspan fill="#1414d2" stroke="#1414d2">,</tspan><tspan fill="#14a014" stroke="#14a014">Mnt</tspan></text>
<text class="s" font-size="10.6" transform="matrix(1.257 0 0 1 324.37 518.9)"><tspan fill="#1414d2" stroke="#1414d2">An</tspan></text>
<text class="s" font-size="10.6" transform="matrix(1.249 0 0 1 349.87 482.3)"><tspan fill="#1414d2" stroke="#1414d2">An</tspan></text>
<text class="s" font-size="10.6" transform="matrix(1.275 0 0 1 341.36 515.7)"><tspan fill="#1414d2" stroke="#1414d2">An</tspan><tspan fill="#1414d2" stroke="#1414d2">,</tspan><tspan fill="#b41eb4" stroke="#b41eb4">Aug</tspan></text>
<text class="s" font-size="10.6" transform="matrix(1.261 0 0 1 365.37 525)"><tspan fill="#1414d2" stroke="#1414d2">An</tspan><tspan fill="#1414d2" stroke="#1414d2">,</tspan><tspan fill="#b41eb4" stroke="#b41eb4">Aug</tspan></text>
<text class="s" font-size="10.6" transform="matrix(1.262 0 0 1 383.57 487.4)"><tspan fill="#1414d2" stroke="#1414d2">An</tspan><tspan fill="#1414d2" stroke="#1414d2">,</tspan><tspan fill="#14a014" stroke="#14a014">Mnt</tspan><tspan fill="#14a014" stroke="#14a014">,</tspan><tspan fill="#b41eb4" stroke="#b41eb4">Aug</tspan></text>
<text class="s" font-size="10.6" transform="matrix(1.240 0 0 1 393.57 519)"><tspan fill="#1414d2" stroke="#1414d2">An</tspan><tspan fill="#1414d2" stroke="#1414d2">,</tspan><tspan fill="#b41eb4" stroke="#b41eb4">Aug</tspan></text>
<text class="s" font-size="10.6" transform="matrix(1.253 0 0 1 425.07 507.2)"><tspan fill="#1414d2" stroke="#1414d2">An</tspan><tspan fill="#1414d2" stroke="#1414d2">,</tspan><tspan fill="#14a014" stroke="#14a014">Mnt</tspan></text>
<text class="s" font-size="10.6" transform="matrix(1.284 0 0 1 463.29 491.3)"><tspan fill="#14a014" stroke="#14a014">Mnt</tspan></text>
<text class="s" font-size="10.6" transform="matrix(1.253 0 0 1 449.47 526.4)"><tspan fill="#1414d2" stroke="#1414d2">An</tspan><tspan fill="#1414d2" stroke="#1414d2">,</tspan><tspan fill="#14a014" stroke="#14a014">Mnt</tspan></text>
<text class="s" font-size="10.6" transform="matrix(1.168 0 0 1 474.59 517.3)"><tspan fill="#1414d2" stroke="#1414d2">An</tspan><tspan fill="#1414d2" stroke="#1414d2">,</tspan><tspan fill="#14a014" stroke="#14a014">Mnt</tspan><tspan fill="#14a014" stroke="#14a014">,</tspan><tspan fill="#b41eb4" stroke="#b41eb4">Aug</tspan></text>
<line x1="86.4" y1="502.2" x2="86.4" y2="507.3" stroke="#555555" stroke-width="1.0"/>
<line x1="171.1" y1="507.3" x2="171.1" y2="534" stroke="#555555" stroke-width="1.0"/>
<line x1="183.5" y1="470.4" x2="183.5" y2="475.7" stroke="#555555" stroke-width="1.0"/>
<line x1="188.9" y1="489.5" x2="188.9" y2="520" stroke="#555555" stroke-width="1.0"/>
<line x1="198.9" y1="516.2" x2="198.9" y2="525.8" stroke="#555555" stroke-width="1.0"/>
<line x1="240.4" y1="518.8" x2="240.4" y2="524" stroke="#555555" stroke-width="1.0"/>
<line x1="264.8" y1="511.2" x2="264.8" y2="527.8" stroke="#555555" stroke-width="1.0"/>
<line x1="288.9" y1="524" x2="288.9" y2="528.4" stroke="#555555" stroke-width="1.0"/>
<line x1="303.5" y1="511.6" x2="303.5" y2="520.4" stroke="#555555" stroke-width="1.0"/>
<line x1="332.4" y1="519.5" x2="332.4" y2="532.3" stroke="#555555" stroke-width="1.0"/>
<line x1="341.5" y1="511.4" x2="341.5" y2="534.1" stroke="#555555" stroke-width="1.0"/>
<line x1="347.3" y1="517.7" x2="347.3" y2="528.6" stroke="#555555" stroke-width="1.0"/>
<line x1="353.5" y1="487.7" x2="353.5" y2="508.6" stroke="#555555" stroke-width="1.0"/>
<line x1="359.6" y1="517.7" x2="359.6" y2="523.2" stroke="#555555" stroke-width="1.0"/>
<line x1="388.7" y1="526.8" x2="388.7" y2="530" stroke="#555555" stroke-width="1.0"/>
<line x1="404" y1="525" x2="404" y2="530.5" stroke="#555555" stroke-width="1.0"/>
<line x1="410.9" y1="488.6" x2="410.9" y2="530.5" stroke="#555555" stroke-width="1.0"/>
<line x1="445.7" y1="509.6" x2="445.7" y2="528.6" stroke="#555555" stroke-width="1.0"/>
<line x1="473.2" y1="493.5" x2="473.2" y2="533.2" stroke="#555555" stroke-width="1.0"/>
<line x1="493.6" y1="525.5" x2="493.6" y2="531.6" stroke="#555555" stroke-width="1.0"/>
<line x1="132.9" y1="522.5" x2="133.9" y2="528.9" stroke="#555555" stroke-width="1.0"/>
<line x1="160.9" y1="521.2" x2="165.2" y2="528.4" stroke="#555555" stroke-width="1.0"/>
<line x1="197.4" y1="490.5" x2="194.2" y2="494.8" stroke="#555555" stroke-width="1.0"/>
<line x1="228.4" y1="468.7" x2="224.6" y2="538.6" stroke="#555555" stroke-width="1.0"/>
<line x1="232.3" y1="488" x2="229.5" y2="504.4" stroke="#555555" stroke-width="1.0"/>
<line x1="237" y1="498" x2="233.8" y2="503.3" stroke="#555555" stroke-width="1.0"/>
<line x1="275.4" y1="482.7" x2="269.1" y2="499" stroke="#555555" stroke-width="1.0"/>
<line x1="256.9" y1="513.1" x2="259.1" y2="524.7" stroke="#555555" stroke-width="1.0"/>
<line x1="462.5" y1="524.9" x2="469.2" y2="531.6" stroke="#555555" stroke-width="1.0"/>
<line x1="52.5" y1="141.2" x2="542.7" y2="141.2" stroke="#111" stroke-width="1.5"/>
<line x1="52.5" y1="276.6" x2="542.7" y2="276.6" stroke="#111" stroke-width="1.5"/>
<line x1="52.5" y1="411.0" x2="542.7" y2="411.0" stroke="#111" stroke-width="1.5"/>
<rect x="52.5" y="7.3" width="490.2" height="539" fill="none" stroke="#000" stroke-width="2.1"/>
<line x1="67.17" y1="546" x2="67.17" y2="542.6" stroke="#000" stroke-width="2"/>
<line x1="82.05" y1="546" x2="82.05" y2="539.2" stroke="#000" stroke-width="2"/>
<line x1="96.92" y1="546" x2="96.92" y2="542.6" stroke="#000" stroke-width="2"/>
<line x1="111.8" y1="546" x2="111.8" y2="539.2" stroke="#000" stroke-width="2"/>
<line x1="126.67" y1="546" x2="126.67" y2="542.6" stroke="#000" stroke-width="2"/>
<line x1="141.55" y1="546" x2="141.55" y2="539.2" stroke="#000" stroke-width="2"/>
<line x1="156.43" y1="546" x2="156.43" y2="542.6" stroke="#000" stroke-width="2"/>
<line x1="171.3" y1="546" x2="171.3" y2="539.2" stroke="#000" stroke-width="2"/>
<line x1="186.18" y1="546" x2="186.18" y2="542.6" stroke="#000" stroke-width="2"/>
<line x1="201.05" y1="546" x2="201.05" y2="539.2" stroke="#000" stroke-width="2"/>
<line x1="215.93" y1="546" x2="215.93" y2="542.6" stroke="#000" stroke-width="2"/>
<line x1="230.8" y1="546" x2="230.8" y2="539.2" stroke="#000" stroke-width="2"/>
<line x1="245.68" y1="546" x2="245.68" y2="542.6" stroke="#000" stroke-width="2"/>
<line x1="260.55" y1="546" x2="260.55" y2="539.2" stroke="#000" stroke-width="2"/>
<line x1="275.43" y1="546" x2="275.43" y2="542.6" stroke="#000" stroke-width="2"/>
<line x1="290.3" y1="546" x2="290.3" y2="539.2" stroke="#000" stroke-width="2"/>
<line x1="305.18" y1="546" x2="305.18" y2="542.6" stroke="#000" stroke-width="2"/>
<line x1="320.05" y1="546" x2="320.05" y2="539.2" stroke="#000" stroke-width="2"/>
<line x1="334.93" y1="546" x2="334.93" y2="542.6" stroke="#000" stroke-width="2"/>
<line x1="349.8" y1="546" x2="349.8" y2="539.2" stroke="#000" stroke-width="2"/>
<line x1="364.68" y1="546" x2="364.68" y2="542.6" stroke="#000" stroke-width="2"/>
<line x1="379.55" y1="546" x2="379.55" y2="539.2" stroke="#000" stroke-width="2"/>
<line x1="394.43" y1="546" x2="394.43" y2="542.6" stroke="#000" stroke-width="2"/>
<line x1="409.3" y1="546" x2="409.3" y2="539.2" stroke="#000" stroke-width="2"/>
<line x1="424.18" y1="546" x2="424.18" y2="542.6" stroke="#000" stroke-width="2"/>
<line x1="439.05" y1="546" x2="439.05" y2="539.2" stroke="#000" stroke-width="2"/>
<line x1="453.93" y1="546" x2="453.93" y2="542.6" stroke="#000" stroke-width="2"/>
<line x1="468.8" y1="546" x2="468.8" y2="539.2" stroke="#000" stroke-width="2"/>
<line x1="483.68" y1="546" x2="483.68" y2="542.6" stroke="#000" stroke-width="2"/>
<line x1="498.55" y1="546" x2="498.55" y2="539.2" stroke="#000" stroke-width="2"/>
<line x1="513.42" y1="546" x2="513.42" y2="542.6" stroke="#000" stroke-width="2"/>
<line x1="528.3" y1="546" x2="528.3" y2="539.2" stroke="#000" stroke-width="2"/>
<text class="t tn" font-size="12.1" transform="matrix(1.320 0 0 1 47.21 561.6)"><tspan fill="#000" stroke="#000">0</tspan></text>
<text class="t tn" font-size="12.1" transform="matrix(1.320 0 0 1 76.93 561.6)"><tspan fill="#000" stroke="#000">5</tspan></text>
<text class="t tn" font-size="12.1" transform="matrix(1.320 0 0 1 102.38 561.6)"><tspan fill="#000" stroke="#000">10</tspan></text>
<text class="t tn" font-size="12.1" transform="matrix(1.320 0 0 1 132.12 561.6)"><tspan fill="#000" stroke="#000">15</tspan></text>
<text class="t tn" font-size="12.1" transform="matrix(1.320 0 0 1 162.18 561.6)"><tspan fill="#000" stroke="#000">20</tspan></text>
<text class="t tn" font-size="12.1" transform="matrix(1.320 0 0 1 191.92 561.6)"><tspan fill="#000" stroke="#000">25</tspan></text>
<text class="t tn" font-size="12.1" transform="matrix(1.320 0 0 1 221.72 561.6)"><tspan fill="#000" stroke="#000">30</tspan></text>
<text class="t tn" font-size="12.1" transform="matrix(1.320 0 0 1 251.46 561.6)"><tspan fill="#000" stroke="#000">35</tspan></text>
<text class="t tn" font-size="12.1" transform="matrix(1.320 0 0 1 281.41 561.6)"><tspan fill="#000" stroke="#000">40</tspan></text>
<text class="t tn" font-size="12.1" transform="matrix(1.320 0 0 1 311.15 561.6)"><tspan fill="#000" stroke="#000">45</tspan></text>
<text class="t tn" font-size="12.1" transform="matrix(1.320 0 0 1 340.7 561.6)"><tspan fill="#000" stroke="#000">50</tspan></text>
<text class="t tn" font-size="12.1" transform="matrix(1.320 0 0 1 370.44 561.6)"><tspan fill="#000" stroke="#000">55</tspan></text>
<text class="t tn" font-size="12.1" transform="matrix(1.320 0 0 1 400.25 561.6)"><tspan fill="#000" stroke="#000">60</tspan></text>
<text class="t tn" font-size="12.1" transform="matrix(1.320 0 0 1 429.98 561.6)"><tspan fill="#000" stroke="#000">65</tspan></text>
<text class="t tn" font-size="12.1" transform="matrix(1.320 0 0 1 459.56 561.6)"><tspan fill="#000" stroke="#000">70</tspan></text>
<text class="t tn" font-size="12.1" transform="matrix(1.320 0 0 1 489.3 561.6)"><tspan fill="#000" stroke="#000">75</tspan></text>
<text class="t tn" font-size="12.1" transform="matrix(1.320 0 0 1 519.25 561.6)"><tspan fill="#000" stroke="#000">80</tspan></text>
<text class="t" font-size="14.6" transform="matrix(1.198 0 0 1 244.87 589.8)"><tspan fill="#000" stroke="#000">2 Theta (degree)</tspan></text>
<rect x="449.2" y="9.4" width="86.6" height="20.1" fill="#fff" stroke="#7a7a7a" stroke-width="1.2"/>
<text class="t" font-size="14" transform="matrix(1.251 0 0 1 455.67 26.2)"><tspan fill="#1212d0" stroke="#1212d0">Sandstone</tspan></text>
<rect x="398.1" y="146" width="141.5" height="22.1" fill="#fff" stroke="#7a7a7a" stroke-width="1.2"/>
<text class="t" font-size="14" transform="matrix(1.252 0 0 1 406.61 162.6)"><tspan fill="#14a014" stroke="#14a014">Bentonitic shale</tspan></text>
<rect x="443.6" y="285" width="81.8" height="22" fill="#fff" stroke="#7a7a7a" stroke-width="1.2"/>
<text class="t" font-size="13" transform="matrix(1.262 0 0 1 450.33 302.9)"><tspan fill="#e01010" stroke="#e01010">Basalt-FA</tspan></text>
<rect x="441.7" y="418.3" width="91.3" height="22.4" fill="#fff" stroke="#7a7a7a" stroke-width="1.2"/>
<text class="t" font-size="13" transform="matrix(1.292 0 0 1 451.12 436.5)"><tspan fill="#000" stroke="#000">Basalt-AZ</tspan></text>
<text class="t" font-size="14.8" transform="translate(14.3 354.4) rotate(-90) matrix(0.934 0 0 1 -0.47 0)"><tspan fill="#000" stroke="#000">Intensity (count)</tspan></text>
</svg>
</body></html>
